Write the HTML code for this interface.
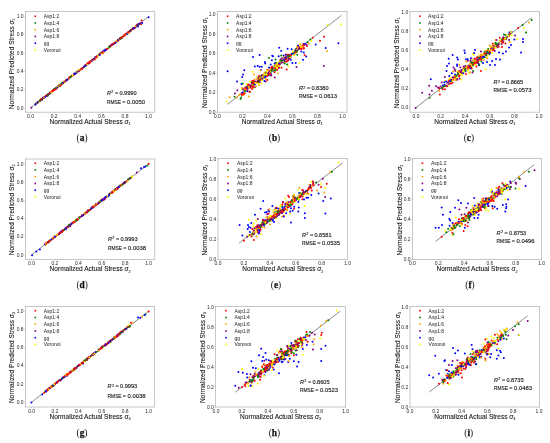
<!DOCTYPE html>
<html><head><meta charset="utf-8"><style>
html,body{margin:0;padding:0;background:#fff;}
svg{display:block;filter:blur(0.3px);}
text{font-family:"Liberation Sans",Arial,sans-serif;fill:#222;stroke-width:0.14px;}
.tk{font-size:4.95px;fill:#2a2a2a;}
.lg{font-size:4.98px;fill:#1a1a1a;}
.lb{font-size:6.55px;fill:#111;stroke:#111;stroke-width:0.08px;}
.tx{font-size:5.5px;fill:#1a1a1a;stroke:#1a1a1a;}
.cap{font-size:9.4px;fill:#111;stroke:#111;stroke-width:0.25px;}
.b{font-weight:bold;}
</style></head><body>
<svg width="550" height="443" viewBox="0 0 550 443">
<rect width="550" height="443" fill="#fff"/>
<line x1="30.5" y1="108" x2="148.6" y2="16.6" stroke="#2a2a2a" stroke-width="0.55"/>
<circle cx="86.43" cy="64.95" r="0.85" fill="#0000ff"/>
<circle cx="122.45" cy="37.14" r="0.85" fill="#ffa500"/>
<circle cx="90.2" cy="61.62" r="0.85" fill="#ff0000"/>
<circle cx="59.33" cy="85.68" r="0.85" fill="#ff0000"/>
<circle cx="110.93" cy="45.51" r="0.85" fill="#ffa500"/>
<circle cx="49.03" cy="94.02" r="0.85" fill="#008000"/>
<circle cx="94.6" cy="58.4" r="0.85" fill="#800080"/>
<circle cx="96.89" cy="57.13" r="0.85" fill="#800080"/>
<circle cx="94.19" cy="58.62" r="0.85" fill="#ff0000"/>
<circle cx="126.37" cy="34" r="0.85" fill="#800080"/>
<circle cx="119.45" cy="39.22" r="0.85" fill="#0000ff"/>
<circle cx="56.27" cy="87.97" r="0.85" fill="#0000ff"/>
<circle cx="48.47" cy="93.81" r="0.85" fill="#ffa500"/>
<circle cx="97.06" cy="56.41" r="0.85" fill="#800080"/>
<circle cx="65.1" cy="82.08" r="0.85" fill="#ffff00"/>
<circle cx="75.14" cy="73.76" r="0.85" fill="#0000ff"/>
<circle cx="76.08" cy="72.75" r="0.85" fill="#008000"/>
<circle cx="110.98" cy="46.08" r="0.85" fill="#ffa500"/>
<circle cx="126.07" cy="34.29" r="0.85" fill="#ffa500"/>
<circle cx="44.77" cy="96.45" r="0.85" fill="#ffa500"/>
<circle cx="120.69" cy="38.53" r="0.85" fill="#ffff00"/>
<circle cx="76.2" cy="71.97" r="0.85" fill="#ffff00"/>
<circle cx="136.32" cy="25.9" r="0.85" fill="#0000ff"/>
<circle cx="89.1" cy="62.72" r="0.85" fill="#ff0000"/>
<circle cx="111.13" cy="45.18" r="0.85" fill="#0000ff"/>
<circle cx="139.65" cy="23.81" r="0.85" fill="#008000"/>
<circle cx="47.17" cy="94.87" r="0.85" fill="#008000"/>
<circle cx="77.47" cy="71.51" r="0.85" fill="#ff0000"/>
<circle cx="98.78" cy="54.92" r="0.85" fill="#008000"/>
<circle cx="102.47" cy="52.89" r="0.85" fill="#008000"/>
<circle cx="115.02" cy="42.5" r="0.85" fill="#0000ff"/>
<circle cx="123.98" cy="35.25" r="0.85" fill="#ffa500"/>
<circle cx="140.24" cy="23.07" r="0.85" fill="#ff0000"/>
<circle cx="124.66" cy="35.8" r="0.85" fill="#ff0000"/>
<circle cx="74.56" cy="74.06" r="0.85" fill="#ff0000"/>
<circle cx="85.7" cy="65.7" r="0.85" fill="#0000ff"/>
<circle cx="139.14" cy="23.57" r="0.85" fill="#008000"/>
<circle cx="91.6" cy="60.74" r="0.85" fill="#ffa500"/>
<circle cx="71.25" cy="76.51" r="0.85" fill="#0000ff"/>
<circle cx="64.17" cy="82.22" r="0.85" fill="#ff0000"/>
<circle cx="95.49" cy="57.82" r="0.85" fill="#008000"/>
<circle cx="126.29" cy="33.61" r="0.85" fill="#ffff00"/>
<circle cx="47.35" cy="95.65" r="0.85" fill="#0000ff"/>
<circle cx="63.25" cy="83.01" r="0.85" fill="#ffa500"/>
<circle cx="89.49" cy="62.75" r="0.85" fill="#800080"/>
<circle cx="105.54" cy="49.96" r="0.85" fill="#ffff00"/>
<circle cx="92.27" cy="59.93" r="0.85" fill="#ffa500"/>
<circle cx="100.78" cy="53.48" r="0.85" fill="#800080"/>
<circle cx="43.09" cy="97.24" r="0.85" fill="#800080"/>
<circle cx="77.23" cy="71.95" r="0.85" fill="#008000"/>
<circle cx="80.75" cy="69.25" r="0.85" fill="#800080"/>
<circle cx="83.74" cy="67.35" r="0.85" fill="#ff0000"/>
<circle cx="87.65" cy="63.36" r="0.85" fill="#800080"/>
<circle cx="84.76" cy="65.83" r="0.85" fill="#0000ff"/>
<circle cx="66.15" cy="80.3" r="0.85" fill="#ff0000"/>
<circle cx="109.41" cy="46.41" r="0.85" fill="#800080"/>
<circle cx="44.15" cy="97.5" r="0.85" fill="#800080"/>
<circle cx="40.63" cy="98.94" r="0.85" fill="#ffa500"/>
<circle cx="112.35" cy="45.18" r="0.85" fill="#ff0000"/>
<circle cx="54.06" cy="88.96" r="0.85" fill="#008000"/>
<circle cx="128.09" cy="32.12" r="0.85" fill="#ff0000"/>
<circle cx="40.91" cy="99.95" r="0.85" fill="#ff0000"/>
<circle cx="90.91" cy="60.89" r="0.85" fill="#ff0000"/>
<circle cx="136.59" cy="25.26" r="0.85" fill="#ff0000"/>
<circle cx="123.74" cy="35.22" r="0.85" fill="#ffa500"/>
<circle cx="80.49" cy="69.68" r="0.85" fill="#008000"/>
<circle cx="119.62" cy="38.74" r="0.85" fill="#ffa500"/>
<circle cx="86.21" cy="64.52" r="0.85" fill="#ffa500"/>
<circle cx="129.04" cy="32.33" r="0.85" fill="#ff0000"/>
<circle cx="94.39" cy="59.35" r="0.85" fill="#008000"/>
<circle cx="63.64" cy="82.17" r="0.85" fill="#0000ff"/>
<circle cx="133.13" cy="28.86" r="0.85" fill="#ff0000"/>
<circle cx="57.68" cy="86.42" r="0.85" fill="#ffa500"/>
<circle cx="60.11" cy="86.2" r="0.85" fill="#ff0000"/>
<circle cx="124.79" cy="35.31" r="0.85" fill="#ffa500"/>
<circle cx="109.53" cy="46.64" r="0.85" fill="#ff0000"/>
<circle cx="118.02" cy="39.81" r="0.85" fill="#008000"/>
<circle cx="70.59" cy="76.88" r="0.85" fill="#ffff00"/>
<circle cx="54.94" cy="89.23" r="0.85" fill="#ffff00"/>
<circle cx="110.18" cy="46.12" r="0.85" fill="#ff0000"/>
<circle cx="130.02" cy="31.47" r="0.85" fill="#008000"/>
<circle cx="128" cy="33.2" r="0.85" fill="#ff0000"/>
<circle cx="77.19" cy="71.87" r="0.85" fill="#ff0000"/>
<circle cx="74.16" cy="74" r="0.85" fill="#ff0000"/>
<circle cx="90.97" cy="61.14" r="0.85" fill="#0000ff"/>
<circle cx="110.79" cy="45.26" r="0.85" fill="#ffa500"/>
<circle cx="48.18" cy="95.02" r="0.85" fill="#0000ff"/>
<circle cx="100.25" cy="53.12" r="0.85" fill="#008000"/>
<circle cx="52.3" cy="90.69" r="0.85" fill="#ffa500"/>
<circle cx="50.7" cy="92.95" r="0.85" fill="#ff0000"/>
<circle cx="49.48" cy="93.63" r="0.85" fill="#ff0000"/>
<circle cx="127.56" cy="32.61" r="0.85" fill="#ffff00"/>
<circle cx="85.64" cy="65.21" r="0.85" fill="#0000ff"/>
<circle cx="112.37" cy="44.81" r="0.85" fill="#ffa500"/>
<circle cx="92.69" cy="60.43" r="0.85" fill="#800080"/>
<circle cx="113.19" cy="43.6" r="0.85" fill="#ffa500"/>
<circle cx="87.94" cy="63.33" r="0.85" fill="#ff0000"/>
<circle cx="87.27" cy="63.96" r="0.85" fill="#0000ff"/>
<circle cx="36.5" cy="102.91" r="0.85" fill="#0000ff"/>
<circle cx="92.51" cy="60.13" r="0.85" fill="#ffff00"/>
<circle cx="119.53" cy="39.08" r="0.85" fill="#008000"/>
<circle cx="104.6" cy="51.12" r="0.85" fill="#ffff00"/>
<circle cx="76.16" cy="73.31" r="0.85" fill="#ff0000"/>
<circle cx="117.64" cy="40.27" r="0.85" fill="#0000ff"/>
<circle cx="49.38" cy="92.89" r="0.85" fill="#ffa500"/>
<circle cx="105.56" cy="50.05" r="0.85" fill="#008000"/>
<circle cx="78.86" cy="71.4" r="0.85" fill="#800080"/>
<circle cx="74.21" cy="74.01" r="0.85" fill="#ff0000"/>
<circle cx="70.93" cy="77.2" r="0.85" fill="#800080"/>
<circle cx="35.64" cy="103.56" r="0.85" fill="#ffa500"/>
<circle cx="56.79" cy="88.08" r="0.85" fill="#0000ff"/>
<circle cx="94.28" cy="58.92" r="0.85" fill="#800080"/>
<circle cx="94.82" cy="58.73" r="0.85" fill="#ffa500"/>
<circle cx="103.4" cy="51.4" r="0.85" fill="#ff0000"/>
<circle cx="126.79" cy="33.58" r="0.85" fill="#ffff00"/>
<circle cx="74.7" cy="73.45" r="0.85" fill="#ffa500"/>
<circle cx="41.03" cy="99.54" r="0.85" fill="#ff0000"/>
<circle cx="104.54" cy="50.06" r="0.85" fill="#ff0000"/>
<circle cx="37.3" cy="102.05" r="0.85" fill="#0000ff"/>
<circle cx="42.57" cy="99.23" r="0.85" fill="#ffa500"/>
<circle cx="71.09" cy="76.61" r="0.85" fill="#ffa500"/>
<circle cx="90.43" cy="61.1" r="0.85" fill="#ffa500"/>
<circle cx="105.59" cy="50.29" r="0.85" fill="#ffa500"/>
<circle cx="57.52" cy="87.04" r="0.85" fill="#800080"/>
<circle cx="62.39" cy="83.54" r="0.85" fill="#ffa500"/>
<circle cx="105.45" cy="50.02" r="0.85" fill="#800080"/>
<circle cx="136.76" cy="25.6" r="0.85" fill="#0000ff"/>
<circle cx="106.64" cy="48.95" r="0.85" fill="#800080"/>
<circle cx="85.13" cy="65.21" r="0.85" fill="#ff0000"/>
<circle cx="59.55" cy="86" r="0.85" fill="#0000ff"/>
<circle cx="109.66" cy="46.53" r="0.85" fill="#ff0000"/>
<circle cx="122.16" cy="36.85" r="0.85" fill="#008000"/>
<circle cx="81.73" cy="67.84" r="0.85" fill="#ffa500"/>
<circle cx="50.81" cy="92.25" r="0.85" fill="#800080"/>
<circle cx="74.61" cy="73.52" r="0.85" fill="#0000ff"/>
<circle cx="54.17" cy="89.42" r="0.85" fill="#800080"/>
<circle cx="113.76" cy="43.52" r="0.85" fill="#008000"/>
<circle cx="42.04" cy="99.37" r="0.85" fill="#ff0000"/>
<circle cx="78.97" cy="70.22" r="0.85" fill="#ffa500"/>
<circle cx="129.19" cy="31.59" r="0.85" fill="#ffa500"/>
<circle cx="79.02" cy="70.27" r="0.85" fill="#ffa500"/>
<circle cx="108.4" cy="48.11" r="0.85" fill="#008000"/>
<circle cx="89.58" cy="62.65" r="0.85" fill="#ff0000"/>
<circle cx="91.66" cy="61.28" r="0.85" fill="#0000ff"/>
<circle cx="76.53" cy="71.74" r="0.85" fill="#008000"/>
<circle cx="40.43" cy="100.45" r="0.85" fill="#800080"/>
<circle cx="102.89" cy="51.7" r="0.85" fill="#008000"/>
<circle cx="138.27" cy="24.52" r="0.85" fill="#ff0000"/>
<circle cx="78.82" cy="70.6" r="0.85" fill="#008000"/>
<circle cx="133.06" cy="28.18" r="0.85" fill="#ff0000"/>
<circle cx="58.24" cy="85.9" r="0.85" fill="#ff0000"/>
<circle cx="121.47" cy="37.95" r="0.85" fill="#ffff00"/>
<circle cx="71.41" cy="76.04" r="0.85" fill="#ffa500"/>
<circle cx="52.98" cy="91.15" r="0.85" fill="#ff0000"/>
<circle cx="90.43" cy="61.55" r="0.85" fill="#ffa500"/>
<circle cx="123.06" cy="36.33" r="0.85" fill="#008000"/>
<circle cx="112.78" cy="43.66" r="0.85" fill="#800080"/>
<circle cx="74.06" cy="74.27" r="0.85" fill="#ffa500"/>
<circle cx="122.39" cy="37.52" r="0.85" fill="#ff0000"/>
<circle cx="130.84" cy="30.09" r="0.85" fill="#ffff00"/>
<circle cx="96.73" cy="56.44" r="0.85" fill="#ff0000"/>
<circle cx="80.27" cy="69.57" r="0.85" fill="#ff0000"/>
<circle cx="47.77" cy="94.55" r="0.85" fill="#800080"/>
<circle cx="107.85" cy="48.51" r="0.85" fill="#008000"/>
<circle cx="97.16" cy="56.3" r="0.85" fill="#800080"/>
<circle cx="85.75" cy="65.22" r="0.85" fill="#ff0000"/>
<circle cx="54.34" cy="89.89" r="0.85" fill="#ff0000"/>
<circle cx="135.1" cy="27.8" r="0.85" fill="#ff0000"/>
<circle cx="62.89" cy="83.22" r="0.85" fill="#0000ff"/>
<circle cx="100.9" cy="53.09" r="0.85" fill="#0000ff"/>
<circle cx="97.39" cy="55.53" r="0.85" fill="#800080"/>
<circle cx="55.95" cy="88.84" r="0.85" fill="#800080"/>
<circle cx="95.92" cy="57.34" r="0.85" fill="#008000"/>
<circle cx="67.03" cy="80.11" r="0.85" fill="#800080"/>
<circle cx="105.27" cy="50.46" r="0.85" fill="#0000ff"/>
<circle cx="103.03" cy="51.16" r="0.85" fill="#0000ff"/>
<circle cx="75.54" cy="72.58" r="0.85" fill="#ffa500"/>
<circle cx="92.74" cy="59.67" r="0.85" fill="#008000"/>
<circle cx="130.76" cy="30.37" r="0.85" fill="#ff0000"/>
<circle cx="103.39" cy="52.87" r="0.85" fill="#ff0000"/>
<circle cx="49.88" cy="93.25" r="0.85" fill="#008000"/>
<circle cx="96.97" cy="56.54" r="0.85" fill="#ffa500"/>
<circle cx="60.92" cy="84.68" r="0.85" fill="#0000ff"/>
<circle cx="62.77" cy="83.03" r="0.85" fill="#800080"/>
<circle cx="126.96" cy="33.61" r="0.85" fill="#ffa500"/>
<circle cx="102.86" cy="52.14" r="0.85" fill="#800080"/>
<circle cx="37.48" cy="103.2" r="0.85" fill="#008000"/>
<circle cx="93.53" cy="59.69" r="0.85" fill="#ff0000"/>
<circle cx="36.35" cy="103.31" r="0.85" fill="#ffa500"/>
<circle cx="116.5" cy="41.29" r="0.85" fill="#ff0000"/>
<circle cx="69.27" cy="77.66" r="0.85" fill="#ff0000"/>
<circle cx="89.54" cy="62.16" r="0.85" fill="#ff0000"/>
<circle cx="48.41" cy="94.07" r="0.85" fill="#0000ff"/>
<circle cx="65.99" cy="80.12" r="0.85" fill="#ff0000"/>
<circle cx="76.32" cy="72.75" r="0.85" fill="#ffa500"/>
<circle cx="130.28" cy="30.43" r="0.85" fill="#800080"/>
<circle cx="54.94" cy="88.87" r="0.85" fill="#ffa500"/>
<circle cx="133.84" cy="28.12" r="0.85" fill="#ff0000"/>
<circle cx="81.86" cy="68.79" r="0.85" fill="#800080"/>
<circle cx="94.34" cy="58.62" r="0.85" fill="#0000ff"/>
<circle cx="57.7" cy="86.66" r="0.85" fill="#ffff00"/>
<circle cx="61.9" cy="84" r="0.85" fill="#800080"/>
<circle cx="66.56" cy="79.94" r="0.85" fill="#ffff00"/>
<circle cx="37.28" cy="103.18" r="0.85" fill="#800080"/>
<circle cx="90.12" cy="61.18" r="0.85" fill="#ff0000"/>
<circle cx="130.82" cy="30.45" r="0.85" fill="#0000ff"/>
<circle cx="70.82" cy="76.85" r="0.85" fill="#ffff00"/>
<circle cx="51.55" cy="91.83" r="0.85" fill="#0000ff"/>
<circle cx="106.46" cy="49.17" r="0.85" fill="#800080"/>
<circle cx="101.27" cy="52.78" r="0.85" fill="#008000"/>
<circle cx="79.9" cy="70.19" r="0.85" fill="#800080"/>
<circle cx="124.51" cy="35.36" r="0.85" fill="#0000ff"/>
<circle cx="112.36" cy="44.1" r="0.85" fill="#ffff00"/>
<circle cx="86.98" cy="64.23" r="0.85" fill="#800080"/>
<circle cx="107.07" cy="48.82" r="0.85" fill="#ff0000"/>
<circle cx="99.01" cy="54.79" r="0.85" fill="#0000ff"/>
<circle cx="113.73" cy="43.48" r="0.85" fill="#0000ff"/>
<circle cx="62.84" cy="83.45" r="0.85" fill="#800080"/>
<circle cx="77.23" cy="72" r="0.85" fill="#0000ff"/>
<circle cx="124.9" cy="34.78" r="0.85" fill="#ffff00"/>
<circle cx="141" cy="24.2" r="1.0" fill="#ff0000"/>
<circle cx="35.38" cy="104.4" r="0.85" fill="#ff0000"/>
<circle cx="85.58" cy="65.56" r="0.85" fill="#800080"/>
<circle cx="113.42" cy="44.05" r="0.85" fill="#ffff00"/>
<circle cx="49.11" cy="93.62" r="0.85" fill="#008000"/>
<circle cx="109.21" cy="47" r="0.85" fill="#0000ff"/>
<circle cx="119.98" cy="38.68" r="0.85" fill="#ff0000"/>
<circle cx="90.7" cy="61.47" r="0.85" fill="#ffa500"/>
<circle cx="89.54" cy="61.86" r="0.85" fill="#ff0000"/>
<circle cx="108.53" cy="47.92" r="0.85" fill="#ff0000"/>
<circle cx="88.43" cy="63.45" r="0.85" fill="#ffa500"/>
<circle cx="36.51" cy="103.44" r="0.85" fill="#800080"/>
<circle cx="127.33" cy="33.08" r="0.85" fill="#008000"/>
<circle cx="63.11" cy="82.4" r="0.85" fill="#008000"/>
<circle cx="109.45" cy="46.87" r="0.85" fill="#ffa500"/>
<circle cx="40.25" cy="100.14" r="0.85" fill="#ff0000"/>
<circle cx="47.72" cy="95.82" r="0.85" fill="#008000"/>
<circle cx="108.9" cy="47.71" r="0.85" fill="#0000ff"/>
<circle cx="132.04" cy="29.32" r="0.85" fill="#ffa500"/>
<circle cx="82.62" cy="67.84" r="0.85" fill="#0000ff"/>
<circle cx="60.08" cy="84.84" r="0.85" fill="#0000ff"/>
<circle cx="41.15" cy="99.69" r="0.85" fill="#ffff00"/>
<circle cx="38.41" cy="102.11" r="0.85" fill="#ffa500"/>
<circle cx="50.61" cy="92.43" r="0.85" fill="#ffa500"/>
<circle cx="59.91" cy="85.05" r="0.85" fill="#008000"/>
<circle cx="45.98" cy="95.72" r="0.85" fill="#ff0000"/>
<circle cx="113.43" cy="43.45" r="0.85" fill="#ffff00"/>
<circle cx="115.3" cy="42.71" r="0.85" fill="#800080"/>
<circle cx="44.49" cy="97.15" r="0.85" fill="#ff0000"/>
<circle cx="130.95" cy="30.69" r="0.85" fill="#008000"/>
<circle cx="138" cy="26.6" r="1.0" fill="#0000ff"/>
<circle cx="43.13" cy="97.82" r="0.85" fill="#ff0000"/>
<circle cx="98.31" cy="55.8" r="0.85" fill="#ffa500"/>
<circle cx="93.36" cy="59.29" r="0.85" fill="#ffa500"/>
<circle cx="57" cy="88.32" r="0.85" fill="#ff0000"/>
<circle cx="109.43" cy="46.39" r="0.85" fill="#008000"/>
<circle cx="106.51" cy="49.23" r="0.85" fill="#ff0000"/>
<circle cx="88.45" cy="62.79" r="0.85" fill="#0000ff"/>
<circle cx="48.17" cy="94.31" r="0.85" fill="#008000"/>
<circle cx="31.4" cy="107.8" r="1.0" fill="#800080"/>
<circle cx="72.34" cy="75.64" r="0.85" fill="#008000"/>
<circle cx="42.39" cy="98.29" r="0.85" fill="#ff0000"/>
<circle cx="55.44" cy="88.99" r="0.85" fill="#ff0000"/>
<circle cx="104.35" cy="50.36" r="0.85" fill="#800080"/>
<circle cx="77.75" cy="71.09" r="0.85" fill="#0000ff"/>
<circle cx="71.89" cy="75.58" r="0.85" fill="#ff0000"/>
<circle cx="91.8" cy="60.35" r="0.85" fill="#ffff00"/>
<circle cx="75.22" cy="73.45" r="0.85" fill="#800080"/>
<circle cx="56.8" cy="87.97" r="0.85" fill="#ffa500"/>
<circle cx="105.53" cy="49.87" r="0.85" fill="#ffa500"/>
<circle cx="136.5" cy="25.5" r="1.0" fill="#0000ff"/>
<circle cx="134.12" cy="28.23" r="0.85" fill="#0000ff"/>
<circle cx="50.32" cy="92.14" r="0.85" fill="#008000"/>
<circle cx="112.02" cy="44.43" r="0.85" fill="#800080"/>
<circle cx="137.47" cy="25.71" r="0.85" fill="#ff0000"/>
<circle cx="41.98" cy="99.13" r="0.85" fill="#ffff00"/>
<circle cx="85.76" cy="65.25" r="0.85" fill="#0000ff"/>
<circle cx="118.01" cy="40.28" r="0.85" fill="#ff0000"/>
<circle cx="69.91" cy="77.29" r="0.85" fill="#ff0000"/>
<circle cx="87.66" cy="63.6" r="0.85" fill="#ffa500"/>
<circle cx="61.79" cy="83.22" r="0.85" fill="#008000"/>
<circle cx="114.97" cy="42.33" r="0.85" fill="#ffa500"/>
<circle cx="53.5" cy="90.14" r="0.85" fill="#800080"/>
<circle cx="87.02" cy="64.48" r="0.85" fill="#008000"/>
<circle cx="127.5" cy="33.33" r="0.85" fill="#800080"/>
<circle cx="38.06" cy="102.17" r="0.85" fill="#0000ff"/>
<circle cx="101.45" cy="53.25" r="0.85" fill="#ffa500"/>
<circle cx="132.84" cy="28.93" r="0.85" fill="#ff0000"/>
<circle cx="74.04" cy="74.36" r="0.85" fill="#ffa500"/>
<circle cx="42.2" cy="99.77" r="0.85" fill="#008000"/>
<circle cx="71.67" cy="75.61" r="0.85" fill="#008000"/>
<circle cx="64.67" cy="81.64" r="0.85" fill="#ff0000"/>
<circle cx="57.56" cy="87.79" r="0.85" fill="#ffa500"/>
<circle cx="54.28" cy="89.86" r="0.85" fill="#ff0000"/>
<circle cx="136.63" cy="26.02" r="0.85" fill="#008000"/>
<circle cx="101.36" cy="53.36" r="0.85" fill="#008000"/>
<circle cx="44.3" cy="97.72" r="0.85" fill="#ffa500"/>
<circle cx="70.23" cy="76.72" r="0.85" fill="#800080"/>
<circle cx="141.6" cy="20.6" r="1.0" fill="#ff0000"/>
<circle cx="73.63" cy="75.19" r="0.85" fill="#800080"/>
<circle cx="124.28" cy="34.74" r="0.85" fill="#ff0000"/>
<circle cx="116.95" cy="41.31" r="0.85" fill="#ffa500"/>
<circle cx="112.81" cy="44.22" r="0.85" fill="#008000"/>
<circle cx="129.52" cy="30.89" r="0.85" fill="#ff0000"/>
<circle cx="55.89" cy="88.66" r="0.85" fill="#ff0000"/>
<circle cx="115.93" cy="42.38" r="0.85" fill="#0000ff"/>
<circle cx="91.7" cy="60.46" r="0.85" fill="#800080"/>
<circle cx="99.65" cy="54.2" r="0.85" fill="#0000ff"/>
<circle cx="132.62" cy="28.13" r="0.85" fill="#008000"/>
<circle cx="74.23" cy="74.08" r="0.85" fill="#0000ff"/>
<circle cx="40.04" cy="100.61" r="0.85" fill="#ff0000"/>
<circle cx="76.63" cy="72.68" r="0.85" fill="#800080"/>
<circle cx="49.51" cy="93.68" r="0.85" fill="#0000ff"/>
<circle cx="110.92" cy="45.59" r="0.85" fill="#ff0000"/>
<circle cx="66.33" cy="80.33" r="0.85" fill="#008000"/>
<circle cx="109.86" cy="46.67" r="0.85" fill="#008000"/>
<circle cx="99.6" cy="54.86" r="0.85" fill="#008000"/>
<circle cx="71.8" cy="75.56" r="0.85" fill="#ff0000"/>
<circle cx="38.34" cy="102.2" r="0.85" fill="#ff0000"/>
<circle cx="148.6" cy="17.2" r="1.0" fill="#0000ff"/>
<circle cx="98.43" cy="55.47" r="0.85" fill="#ffa500"/>
<circle cx="66.97" cy="80.34" r="0.85" fill="#0000ff"/>
<circle cx="128.95" cy="31.73" r="0.85" fill="#800080"/>
<circle cx="107.34" cy="48.74" r="0.85" fill="#ff0000"/>
<circle cx="112.24" cy="44.24" r="0.85" fill="#0000ff"/>
<circle cx="52.2" cy="91.37" r="0.85" fill="#ff0000"/>
<circle cx="52.89" cy="90.55" r="0.85" fill="#800080"/>
<circle cx="88.28" cy="63.15" r="0.85" fill="#ff0000"/>
<circle cx="58.89" cy="85.36" r="0.85" fill="#ff0000"/>
<circle cx="99.87" cy="54.31" r="0.85" fill="#ff0000"/>
<circle cx="113.13" cy="43.76" r="0.85" fill="#ff0000"/>
<circle cx="118.19" cy="40.11" r="0.85" fill="#008000"/>
<circle cx="105.16" cy="50.25" r="0.85" fill="#800080"/>
<circle cx="56.07" cy="87.65" r="0.85" fill="#008000"/>
<circle cx="142.2" cy="23" r="1.0" fill="#0000ff"/>
<circle cx="92.58" cy="59.38" r="0.85" fill="#800080"/>
<circle cx="117.83" cy="39.84" r="0.85" fill="#0000ff"/>
<circle cx="79.43" cy="70.32" r="0.85" fill="#ffa500"/>
<circle cx="89.91" cy="62.44" r="0.85" fill="#ff0000"/>
<circle cx="137.54" cy="25.24" r="0.85" fill="#800080"/>
<circle cx="69.36" cy="78.52" r="0.85" fill="#0000ff"/>
<circle cx="74.39" cy="73.76" r="0.85" fill="#800080"/>
<circle cx="104.36" cy="51.14" r="0.85" fill="#800080"/>
<circle cx="134.24" cy="27.66" r="0.85" fill="#008000"/>
<circle cx="60.72" cy="84.94" r="0.85" fill="#800080"/>
<circle cx="106.69" cy="49.24" r="0.85" fill="#0000ff"/>
<circle cx="64.76" cy="81.23" r="0.85" fill="#800080"/>
<circle cx="45.12" cy="97.02" r="0.85" fill="#0000ff"/>
<circle cx="60.11" cy="85.23" r="0.85" fill="#ffa500"/>
<circle cx="65.91" cy="80.12" r="0.85" fill="#008000"/>
<circle cx="52.01" cy="92.01" r="0.85" fill="#ffff00"/>
<circle cx="99.98" cy="53.99" r="0.85" fill="#ff0000"/>
<circle cx="119.63" cy="38.67" r="0.85" fill="#008000"/>
<circle cx="119.84" cy="38.43" r="0.85" fill="#0000ff"/>
<circle cx="108.86" cy="47.77" r="0.85" fill="#ffff00"/>
<circle cx="129.99" cy="30.79" r="0.85" fill="#008000"/>
<circle cx="47.17" cy="94.88" r="0.85" fill="#800080"/>
<circle cx="39.46" cy="100.91" r="0.85" fill="#ffa500"/>
<circle cx="127.85" cy="33.37" r="0.85" fill="#008000"/>
<circle cx="117.44" cy="41.14" r="0.85" fill="#ffa500"/>
<circle cx="75.4" cy="73.46" r="0.85" fill="#0000ff"/>
<circle cx="91.59" cy="60.89" r="0.85" fill="#ffa500"/>
<circle cx="54.89" cy="88.8" r="0.85" fill="#ffa500"/>
<circle cx="76.6" cy="72.86" r="0.85" fill="#008000"/>
<circle cx="88.82" cy="62.61" r="0.85" fill="#ff0000"/>
<circle cx="89" cy="63.35" r="0.85" fill="#ff0000"/>
<circle cx="73.93" cy="73.8" r="0.85" fill="#ff0000"/>
<circle cx="67.17" cy="79.85" r="0.85" fill="#ffff00"/>
<circle cx="99.3" cy="54.05" r="0.85" fill="#ff0000"/>
<circle cx="117.77" cy="41.35" r="0.85" fill="#ff0000"/>
<circle cx="112.43" cy="44.09" r="0.85" fill="#ffa500"/>
<circle cx="87.95" cy="63.95" r="0.85" fill="#800080"/>
<circle cx="112.06" cy="44.43" r="0.85" fill="#ff0000"/>
<circle cx="38.24" cy="101.72" r="0.85" fill="#0000ff"/>
<circle cx="121.42" cy="37.22" r="0.85" fill="#ffa500"/>
<circle cx="120.51" cy="38.03" r="0.85" fill="#008000"/>
<circle cx="116.06" cy="41.9" r="0.85" fill="#ffa500"/>
<circle cx="97.49" cy="56.14" r="0.85" fill="#ffff00"/>
<circle cx="44.06" cy="98.12" r="0.85" fill="#800080"/>
<circle cx="117.39" cy="40.56" r="0.85" fill="#ffa500"/>
<circle cx="63.01" cy="83.08" r="0.85" fill="#ffa500"/>
<circle cx="103.64" cy="51.63" r="0.85" fill="#0000ff"/>
<circle cx="130.24" cy="31.1" r="0.85" fill="#800080"/>
<circle cx="60.68" cy="84.91" r="0.85" fill="#ffa500"/>
<circle cx="104.95" cy="49.81" r="0.85" fill="#ffa500"/>
<circle cx="135.93" cy="26.72" r="0.85" fill="#800080"/>
<circle cx="41.33" cy="99.23" r="0.85" fill="#ffa500"/>
<circle cx="116.59" cy="41.2" r="0.85" fill="#ffa500"/>
<circle cx="77.05" cy="72.05" r="0.85" fill="#ff0000"/>
<circle cx="117.46" cy="40.79" r="0.85" fill="#ff0000"/>
<circle cx="43.4" cy="97.91" r="0.85" fill="#ffa500"/>
<circle cx="87.27" cy="63.65" r="0.85" fill="#800080"/>
<circle cx="41.96" cy="99.35" r="0.85" fill="#800080"/>
<circle cx="117.62" cy="40.52" r="0.85" fill="#ffff00"/>
<circle cx="113.71" cy="44.18" r="0.85" fill="#0000ff"/>
<circle cx="101.82" cy="52.44" r="0.85" fill="#0000ff"/>
<circle cx="114.29" cy="43.24" r="0.85" fill="#800080"/>
<circle cx="40.8" cy="100.16" r="0.85" fill="#800080"/>
<circle cx="133.78" cy="28.71" r="0.85" fill="#0000ff"/>
<circle cx="39.11" cy="101.11" r="0.85" fill="#ffff00"/>
<circle cx="75.57" cy="73" r="0.85" fill="#0000ff"/>
<circle cx="132.18" cy="29.2" r="0.85" fill="#0000ff"/>
<circle cx="76.35" cy="72.53" r="0.85" fill="#ffff00"/>
<circle cx="62.73" cy="82.72" r="0.85" fill="#0000ff"/>
<circle cx="101.26" cy="53.5" r="0.85" fill="#ffa500"/>
<circle cx="63.19" cy="82.6" r="0.85" fill="#008000"/>
<circle cx="139" cy="24" r="1.0" fill="#0000ff"/>
<circle cx="132.07" cy="29.52" r="0.85" fill="#ff0000"/>
<circle cx="63.85" cy="81.56" r="0.85" fill="#ff0000"/>
<circle cx="117.95" cy="39.85" r="0.85" fill="#800080"/>
<circle cx="42.06" cy="99.33" r="0.85" fill="#008000"/>
<circle cx="102.5" cy="52.85" r="0.85" fill="#ffa500"/>
<circle cx="47.46" cy="94.71" r="0.85" fill="#800080"/>
<circle cx="69.3" cy="77.41" r="0.85" fill="#ff0000"/>
<circle cx="120.14" cy="38.99" r="0.85" fill="#008000"/>
<circle cx="85.88" cy="64.82" r="0.85" fill="#0000ff"/>
<circle cx="45.03" cy="96.95" r="0.85" fill="#0000ff"/>
<circle cx="40.33" cy="100.77" r="0.85" fill="#008000"/>
<circle cx="111.65" cy="44.98" r="0.85" fill="#800080"/>
<circle cx="57.08" cy="87.14" r="0.85" fill="#0000ff"/>
<circle cx="57.6" cy="87.23" r="0.85" fill="#ff0000"/>
<circle cx="47.39" cy="95.31" r="0.85" fill="#800080"/>
<circle cx="84.58" cy="66.55" r="0.85" fill="#008000"/>
<circle cx="108.63" cy="47.41" r="0.85" fill="#ffff00"/>
<circle cx="87.03" cy="63.92" r="0.85" fill="#ffa500"/>
<circle cx="58.61" cy="86.18" r="0.85" fill="#008000"/>
<circle cx="56.85" cy="87.34" r="0.85" fill="#ffff00"/>
<circle cx="66.17" cy="80.79" r="0.85" fill="#800080"/>
<circle cx="137.24" cy="24.47" r="0.85" fill="#ff0000"/>
<circle cx="126.93" cy="33.03" r="0.85" fill="#0000ff"/>
<circle cx="60.86" cy="84.2" r="0.85" fill="#008000"/>
<circle cx="82.65" cy="67.84" r="0.85" fill="#800080"/>
<circle cx="115.15" cy="42.96" r="0.85" fill="#ff0000"/>
<circle cx="50.68" cy="92.15" r="0.85" fill="#ff0000"/>
<circle cx="42.71" cy="97.91" r="0.85" fill="#800080"/>
<circle cx="97.82" cy="55.82" r="0.85" fill="#800080"/>
<circle cx="40.03" cy="100.59" r="0.85" fill="#ff0000"/>
<circle cx="126.25" cy="34" r="0.85" fill="#0000ff"/>
<circle cx="56.05" cy="88.55" r="0.85" fill="#ffa500"/>
<circle cx="133.69" cy="27.73" r="0.85" fill="#0000ff"/>
<circle cx="55.64" cy="88.38" r="0.85" fill="#0000ff"/>
<circle cx="133.7" cy="28.18" r="0.85" fill="#ff0000"/>
<circle cx="56.99" cy="87.23" r="0.85" fill="#ffa500"/>
<circle cx="85.74" cy="65.2" r="0.85" fill="#800080"/>
<circle cx="96.9" cy="56.64" r="0.85" fill="#008000"/>
<circle cx="94.33" cy="58.83" r="0.85" fill="#ff0000"/>
<circle cx="134.78" cy="27" r="0.85" fill="#ffa500"/>
<circle cx="96.41" cy="56.64" r="0.85" fill="#800080"/>
<circle cx="80.88" cy="68.73" r="0.85" fill="#800080"/>
<circle cx="39.33" cy="100.68" r="0.85" fill="#ffa500"/>
<circle cx="118.17" cy="40.48" r="0.85" fill="#0000ff"/>
<circle cx="104.65" cy="49.63" r="0.85" fill="#0000ff"/>
<circle cx="82.24" cy="68.81" r="0.85" fill="#ff0000"/>
<circle cx="50.56" cy="92.15" r="0.85" fill="#ff0000"/>
<circle cx="77.39" cy="71.09" r="0.85" fill="#ffa500"/>
<circle cx="135.97" cy="26" r="0.85" fill="#800080"/>
<circle cx="104.99" cy="50.49" r="0.85" fill="#0000ff"/>
<circle cx="137.65" cy="25.47" r="0.85" fill="#0000ff"/>
<circle cx="105.6" cy="49.49" r="0.85" fill="#ffff00"/>
<circle cx="80.15" cy="69.78" r="0.85" fill="#ffa500"/>
<circle cx="140.31" cy="22.87" r="0.85" fill="#800080"/>
<circle cx="68.23" cy="79.14" r="0.85" fill="#ffff00"/>
<circle cx="58.21" cy="86.85" r="0.85" fill="#ffa500"/>
<circle cx="66.59" cy="79.84" r="0.85" fill="#ff0000"/>
<circle cx="134.61" cy="27.79" r="0.85" fill="#ff0000"/>
<circle cx="35.46" cy="104.39" r="0.85" fill="#ffa500"/>
<circle cx="118.99" cy="39.41" r="0.85" fill="#800080"/>
<circle cx="54.17" cy="89.23" r="0.85" fill="#008000"/>
<circle cx="87.05" cy="64.25" r="0.85" fill="#ffff00"/>
<circle cx="138.22" cy="24.83" r="0.85" fill="#008000"/>
<circle cx="61.09" cy="84.86" r="0.85" fill="#ff0000"/>
<circle cx="36.33" cy="103.33" r="0.85" fill="#ffff00"/>
<circle cx="50.76" cy="92.01" r="0.85" fill="#ffa500"/>
<circle cx="77.39" cy="71.89" r="0.85" fill="#0000ff"/>
<circle cx="118.78" cy="40.3" r="0.85" fill="#ffa500"/>
<circle cx="106.99" cy="49.22" r="0.85" fill="#ff0000"/>
<circle cx="55.23" cy="88.23" r="0.85" fill="#008000"/>
<circle cx="129.17" cy="32.1" r="0.85" fill="#ff0000"/>
<circle cx="125.47" cy="34.74" r="0.85" fill="#ff0000"/>
<circle cx="76.83" cy="72.7" r="0.85" fill="#ffa500"/>
<circle cx="44.35" cy="97.52" r="0.85" fill="#0000ff"/>
<circle cx="95.57" cy="57.9" r="0.85" fill="#800080"/>
<circle cx="109.5" cy="47.07" r="0.85" fill="#008000"/>
<circle cx="115.67" cy="42.59" r="0.85" fill="#0000ff"/>
<circle cx="113.3" cy="43.77" r="0.85" fill="#800080"/>
<circle cx="39.38" cy="100.73" r="0.85" fill="#008000"/>
<circle cx="66.42" cy="80.26" r="0.85" fill="#800080"/>
<circle cx="97.62" cy="56.21" r="0.85" fill="#ffff00"/>
<circle cx="121.6" cy="38.29" r="0.85" fill="#800080"/>
<circle cx="126.43" cy="33.8" r="0.85" fill="#0000ff"/>
<circle cx="138.01" cy="24.27" r="0.85" fill="#800080"/>
<circle cx="46.61" cy="95.38" r="0.85" fill="#ff0000"/>
<circle cx="48.55" cy="93.97" r="0.85" fill="#ff0000"/>
<circle cx="105.49" cy="49.9" r="0.85" fill="#800080"/>
<circle cx="134.45" cy="27.87" r="0.85" fill="#0000ff"/>
<circle cx="122.9" cy="36.51" r="0.85" fill="#ff0000"/>
<circle cx="40.68" cy="100.02" r="0.85" fill="#ff0000"/>
<circle cx="67.47" cy="79.35" r="0.85" fill="#0000ff"/>
<circle cx="64.64" cy="81.48" r="0.85" fill="#800080"/>
<circle cx="125.44" cy="33.72" r="0.85" fill="#ff0000"/>
<circle cx="83.99" cy="66.43" r="0.85" fill="#0000ff"/>
<circle cx="118.61" cy="40.21" r="0.85" fill="#ffa500"/>
<circle cx="121.43" cy="37.44" r="0.85" fill="#008000"/>
<circle cx="91.42" cy="60.77" r="0.85" fill="#0000ff"/>
<circle cx="128.22" cy="32.43" r="0.85" fill="#008000"/>
<circle cx="120.46" cy="37.61" r="0.85" fill="#ff0000"/>
<circle cx="109.05" cy="46.81" r="0.85" fill="#008000"/>
<circle cx="36.17" cy="103.48" r="0.85" fill="#008000"/>
<circle cx="97.21" cy="56.69" r="0.85" fill="#ffa500"/>
<circle cx="114.42" cy="42.93" r="0.85" fill="#ff0000"/>
<circle cx="78.92" cy="71.19" r="0.85" fill="#800080"/>
<circle cx="94.19" cy="58.91" r="0.85" fill="#0000ff"/>
<circle cx="118.25" cy="40.43" r="0.85" fill="#800080"/>
<circle cx="55.57" cy="89.51" r="0.85" fill="#ff0000"/>
<circle cx="80.86" cy="69.1" r="0.85" fill="#ffa500"/>
<circle cx="113.14" cy="44.31" r="0.85" fill="#800080"/>
<circle cx="120.85" cy="37.85" r="0.85" fill="#ff0000"/>
<circle cx="40.05" cy="100.64" r="0.85" fill="#008000"/>
<circle cx="57.27" cy="87.58" r="0.85" fill="#0000ff"/>
<circle cx="99.73" cy="54.95" r="0.85" fill="#0000ff"/>
<circle cx="67.62" cy="79.72" r="0.85" fill="#0000ff"/>
<circle cx="44.23" cy="97.35" r="0.85" fill="#0000ff"/>
<circle cx="35.55" cy="104.6" r="0.85" fill="#0000ff"/>
<circle cx="71.96" cy="76.27" r="0.85" fill="#ffff00"/>
<circle cx="127.27" cy="33.95" r="0.85" fill="#0000ff"/>
<circle cx="64.11" cy="81.49" r="0.85" fill="#ffa500"/>
<circle cx="46.2" cy="95.98" r="0.85" fill="#800080"/>
<circle cx="74.31" cy="73.57" r="0.85" fill="#0000ff"/>
<circle cx="69.57" cy="77.81" r="0.85" fill="#ffa500"/>
<circle cx="133.17" cy="28.4" r="0.85" fill="#800080"/>
<circle cx="77.83" cy="70.57" r="0.85" fill="#ffa500"/>
<circle cx="68.64" cy="78.13" r="0.85" fill="#ff0000"/>
<circle cx="96.44" cy="56.9" r="0.85" fill="#ff0000"/>
<circle cx="41.04" cy="99.33" r="0.85" fill="#ff0000"/>
<circle cx="110.28" cy="46.36" r="0.85" fill="#800080"/>
<circle cx="102.35" cy="52.32" r="0.85" fill="#ff0000"/>
<circle cx="71.84" cy="76.17" r="0.85" fill="#ff0000"/>
<circle cx="128.43" cy="32.87" r="0.85" fill="#ffa500"/>
<circle cx="41.56" cy="99.54" r="0.85" fill="#800080"/>
<circle cx="91" cy="60.73" r="0.85" fill="#ff0000"/>
<circle cx="136.39" cy="26.15" r="0.85" fill="#008000"/>
<circle cx="136.68" cy="26.13" r="0.85" fill="#800080"/>
<circle cx="35.34" cy="104.07" r="0.85" fill="#0000ff"/>
<circle cx="51.35" cy="91.53" r="0.85" fill="#ffa500"/>
<circle cx="70.21" cy="77.49" r="0.85" fill="#008000"/>
<circle cx="127.34" cy="32.74" r="0.85" fill="#ffff00"/>
<circle cx="47.77" cy="94.66" r="0.85" fill="#008000"/>
<circle cx="44.13" cy="97.43" r="0.85" fill="#ffa500"/>
<circle cx="54.59" cy="89.24" r="0.85" fill="#ff0000"/>
<circle cx="71" cy="76.3" r="0.85" fill="#008000"/>
<circle cx="136.04" cy="26.38" r="0.85" fill="#0000ff"/>
<circle cx="125.37" cy="34.77" r="0.85" fill="#ffa500"/>
<circle cx="105.56" cy="50.1" r="0.85" fill="#0000ff"/>
<circle cx="76.21" cy="73.26" r="0.85" fill="#0000ff"/>
<circle cx="52.04" cy="90.99" r="0.85" fill="#ff0000"/>
<circle cx="103.76" cy="52.01" r="0.85" fill="#ffa500"/>
<circle cx="124.54" cy="34.9" r="0.85" fill="#ff0000"/>
<circle cx="87.32" cy="63.43" r="0.85" fill="#ff0000"/>
<circle cx="63.09" cy="82.84" r="0.85" fill="#800080"/>
<circle cx="52.99" cy="90.14" r="0.85" fill="#ff0000"/>
<circle cx="95.92" cy="58.52" r="0.85" fill="#ffa500"/>
<circle cx="95.3" cy="56.86" r="0.85" fill="#800080"/>
<circle cx="102.14" cy="52.37" r="0.85" fill="#ff0000"/>
<circle cx="94.86" cy="59.29" r="0.85" fill="#ff0000"/>
<circle cx="81.03" cy="69.29" r="0.85" fill="#ff0000"/>
<circle cx="135.74" cy="26.18" r="0.85" fill="#ffa500"/>
<circle cx="72.7" cy="75.29" r="0.85" fill="#ffff00"/>
<circle cx="127.79" cy="32.43" r="0.85" fill="#ff0000"/>
<rect x="25.4" y="11.4" width="129.4" height="100.8" fill="none" stroke="#b4b4b4" stroke-width="0.75"/>
<line x1="30.5" y1="112.2" x2="30.5" y2="113.4" stroke="#999" stroke-width="0.4"/>
<text x="30.5" y="117.8" class="tk" text-anchor="middle">0.0</text>
<line x1="24.2" y1="108" x2="25.4" y2="108" stroke="#999" stroke-width="0.4"/>
<text x="23.6" y="109.6" class="tk" text-anchor="end">0.0</text>
<line x1="54.12" y1="112.2" x2="54.12" y2="113.4" stroke="#999" stroke-width="0.4"/>
<text x="54.12" y="117.8" class="tk" text-anchor="middle">0.2</text>
<line x1="24.2" y1="89.72" x2="25.4" y2="89.72" stroke="#999" stroke-width="0.4"/>
<text x="23.6" y="91.32" class="tk" text-anchor="end">0.2</text>
<line x1="77.74" y1="112.2" x2="77.74" y2="113.4" stroke="#999" stroke-width="0.4"/>
<text x="77.74" y="117.8" class="tk" text-anchor="middle">0.4</text>
<line x1="24.2" y1="71.44" x2="25.4" y2="71.44" stroke="#999" stroke-width="0.4"/>
<text x="23.6" y="73.04" class="tk" text-anchor="end">0.4</text>
<line x1="101.36" y1="112.2" x2="101.36" y2="113.4" stroke="#999" stroke-width="0.4"/>
<text x="101.36" y="117.8" class="tk" text-anchor="middle">0.6</text>
<line x1="24.2" y1="53.16" x2="25.4" y2="53.16" stroke="#999" stroke-width="0.4"/>
<text x="23.6" y="54.76" class="tk" text-anchor="end">0.6</text>
<line x1="124.98" y1="112.2" x2="124.98" y2="113.4" stroke="#999" stroke-width="0.4"/>
<text x="124.98" y="117.8" class="tk" text-anchor="middle">0.8</text>
<line x1="24.2" y1="34.88" x2="25.4" y2="34.88" stroke="#999" stroke-width="0.4"/>
<text x="23.6" y="36.48" class="tk" text-anchor="end">0.8</text>
<line x1="148.6" y1="112.2" x2="148.6" y2="113.4" stroke="#999" stroke-width="0.4"/>
<text x="148.6" y="117.8" class="tk" text-anchor="middle">1.0</text>
<line x1="24.2" y1="16.6" x2="25.4" y2="16.6" stroke="#999" stroke-width="0.4"/>
<text x="23.6" y="18.2" class="tk" text-anchor="end">1.0</text>
<text x="90.1" y="124.1" class="lb" text-anchor="middle">Normalized Actual Stress <tspan font-style="italic">σ</tspan><tspan font-size="3.7" dy="1.3">1</tspan></text>
<text transform="translate(14,63.85) rotate(-90)" class="lb" text-anchor="middle">Normalized Predicted Stress <tspan font-style="italic">σ</tspan><tspan font-size="3.7" dy="1.3">1</tspan></text>
<rect x="34.5" y="15.4" width="1.6" height="1.6" fill="#ff0000"/>
<text x="43.7" y="18.1" class="lg">Asp1:2</text>
<rect x="34.5" y="22.15" width="1.6" height="1.6" fill="#008000"/>
<text x="43.7" y="24.85" class="lg">Asp1:4</text>
<rect x="34.5" y="28.9" width="1.6" height="1.6" fill="#ffa500"/>
<text x="43.7" y="31.6" class="lg">Asp1:6</text>
<rect x="34.5" y="35.65" width="1.6" height="1.6" fill="#800080"/>
<text x="43.7" y="38.35" class="lg">Asp1:8</text>
<rect x="34.5" y="42.4" width="1.6" height="1.6" fill="#0000ff"/>
<text x="43.7" y="45.1" class="lg">gg</text>
<rect x="34.5" y="49.15" width="1.6" height="1.6" fill="#ffff00"/>
<text x="43.7" y="51.85" class="lg">Voronoi</text>
<text y="94.5" class="tx"><tspan x="107" font-style="italic">R</tspan><tspan x="111.3" y="93" font-size="3.8">2</tspan><tspan x="115" y="94.5">=</tspan><tspan x="119.4" textLength="17.2" lengthAdjust="spacingAndGlyphs">0.9990</tspan></text>
<text y="103.9" class="tx"><tspan x="107" textLength="14" lengthAdjust="spacingAndGlyphs">RMSE</tspan><tspan x="122.2">=</tspan><tspan x="127" textLength="18" lengthAdjust="spacingAndGlyphs">0.0050</tspan></text>
<text x="82.05" y="141" class="cap b" text-anchor="middle" style='font-family:"Liberation Serif", serif'><tspan font-weight="normal" stroke-width="0">(</tspan>a<tspan font-weight="normal" stroke-width="0">)</tspan></text>
<line x1="227.4" y1="104.39" x2="341.4" y2="15.38" stroke="#2a2a2a" stroke-width="0.55"/>
<circle cx="269.71" cy="68.36" r="1.0" fill="#ffa500"/>
<circle cx="260.9" cy="70" r="1.0" fill="#0000ff"/>
<circle cx="257.82" cy="79.68" r="1.0" fill="#800080"/>
<circle cx="275.43" cy="65.53" r="1.0" fill="#800080"/>
<circle cx="265.57" cy="77.32" r="1.0" fill="#ffff00"/>
<circle cx="303" cy="59.7" r="1.0" fill="#0000ff"/>
<circle cx="239.24" cy="94.68" r="1.0" fill="#ffa500"/>
<circle cx="294.49" cy="54.28" r="1.0" fill="#ffa500"/>
<circle cx="256.94" cy="81.38" r="1.0" fill="#ffa500"/>
<circle cx="327" cy="51.3" r="1.0" fill="#ffa500"/>
<circle cx="271.77" cy="69.01" r="1.0" fill="#ff0000"/>
<circle cx="247.82" cy="88.83" r="1.0" fill="#ff0000"/>
<circle cx="292.4" cy="63" r="1.0" fill="#0000ff"/>
<circle cx="265.51" cy="75.87" r="1.0" fill="#ffa500"/>
<circle cx="247.3" cy="90.7" r="1.0" fill="#ff0000"/>
<circle cx="244.82" cy="93.27" r="1.0" fill="#ff0000"/>
<circle cx="291.61" cy="54.26" r="1.0" fill="#008000"/>
<circle cx="257.65" cy="81.81" r="1.0" fill="#800080"/>
<circle cx="289.05" cy="55.56" r="1.0" fill="#008000"/>
<circle cx="288.93" cy="54.72" r="1.0" fill="#800080"/>
<circle cx="281.2" cy="55.4" r="1.0" fill="#008000"/>
<circle cx="302.47" cy="45.97" r="1.0" fill="#ff0000"/>
<circle cx="286.11" cy="58.53" r="1.0" fill="#008000"/>
<circle cx="292.84" cy="52.38" r="1.0" fill="#800080"/>
<circle cx="244.08" cy="93.99" r="1.0" fill="#ff0000"/>
<circle cx="258.33" cy="82.74" r="1.0" fill="#ff0000"/>
<circle cx="280.02" cy="64.06" r="1.0" fill="#800080"/>
<circle cx="272.65" cy="68.45" r="1.0" fill="#ff0000"/>
<circle cx="286.92" cy="58.14" r="1.0" fill="#800080"/>
<circle cx="283.09" cy="61.52" r="1.0" fill="#008000"/>
<circle cx="249.44" cy="84.97" r="1.0" fill="#800080"/>
<circle cx="242.92" cy="92.95" r="1.0" fill="#ffff00"/>
<circle cx="259.59" cy="76.23" r="1.0" fill="#008000"/>
<circle cx="299.29" cy="48.67" r="1.0" fill="#ffa500"/>
<circle cx="244.39" cy="88.56" r="1.0" fill="#ff0000"/>
<circle cx="265.84" cy="76.73" r="1.0" fill="#0000ff"/>
<circle cx="242.2" cy="76.9" r="1.0" fill="#0000ff"/>
<circle cx="255.13" cy="86.98" r="1.0" fill="#800080"/>
<circle cx="271.98" cy="67.97" r="1.0" fill="#008000"/>
<circle cx="301.51" cy="48.23" r="1.0" fill="#ff0000"/>
<circle cx="275.44" cy="66.57" r="1.0" fill="#ff0000"/>
<circle cx="260.11" cy="80.06" r="1.0" fill="#800080"/>
<circle cx="279.02" cy="62.69" r="1.0" fill="#ff0000"/>
<circle cx="274.79" cy="64.22" r="1.0" fill="#ffff00"/>
<circle cx="245" cy="91.32" r="1.0" fill="#008000"/>
<circle cx="265.11" cy="75.03" r="1.0" fill="#008000"/>
<circle cx="307.48" cy="42.36" r="1.0" fill="#008000"/>
<circle cx="287.79" cy="54.83" r="1.0" fill="#ff0000"/>
<circle cx="248.61" cy="87.77" r="1.0" fill="#0000ff"/>
<circle cx="275.5" cy="70.61" r="1.0" fill="#008000"/>
<circle cx="260.23" cy="78.84" r="1.0" fill="#008000"/>
<circle cx="296.5" cy="67" r="1.0" fill="#800080"/>
<circle cx="268.06" cy="75.26" r="1.0" fill="#800080"/>
<circle cx="282.31" cy="61.73" r="1.0" fill="#ffa500"/>
<circle cx="295.13" cy="52.65" r="1.0" fill="#ffff00"/>
<circle cx="251.04" cy="85.87" r="1.0" fill="#ff0000"/>
<circle cx="227" cy="101.4" r="1.0" fill="#ffff00"/>
<circle cx="277.15" cy="69.88" r="1.0" fill="#ff0000"/>
<circle cx="253.78" cy="80.72" r="1.0" fill="#ff0000"/>
<circle cx="288.29" cy="58.6" r="1.0" fill="#0000ff"/>
<circle cx="299.82" cy="47.14" r="1.0" fill="#ff0000"/>
<circle cx="282.68" cy="60.21" r="1.0" fill="#ffa500"/>
<circle cx="253.5" cy="82.54" r="1.0" fill="#0000ff"/>
<circle cx="241.23" cy="97.53" r="1.0" fill="#008000"/>
<circle cx="300.38" cy="47.65" r="1.0" fill="#ff0000"/>
<circle cx="248.28" cy="84.48" r="1.0" fill="#ff0000"/>
<circle cx="268.64" cy="73.07" r="1.0" fill="#0000ff"/>
<circle cx="249.57" cy="86.74" r="1.0" fill="#ffff00"/>
<circle cx="277.53" cy="62.99" r="1.0" fill="#ffff00"/>
<circle cx="253.19" cy="88.02" r="1.0" fill="#ffff00"/>
<circle cx="252.53" cy="85.13" r="1.0" fill="#0000ff"/>
<circle cx="254.4" cy="82.03" r="1.0" fill="#ffa500"/>
<circle cx="307" cy="45.9" r="1.0" fill="#ff0000"/>
<circle cx="273" cy="56.2" r="1.0" fill="#0000ff"/>
<circle cx="310.3" cy="39.4" r="1.0" fill="#008000"/>
<circle cx="267.41" cy="80.1" r="1.0" fill="#ff0000"/>
<circle cx="288.4" cy="66.2" r="1.0" fill="#ffff00"/>
<circle cx="251.31" cy="82.34" r="1.0" fill="#008000"/>
<circle cx="274.7" cy="77.4" r="1.0" fill="#800080"/>
<circle cx="300.42" cy="46.71" r="1.0" fill="#ff0000"/>
<circle cx="298.21" cy="46.85" r="1.0" fill="#ffa500"/>
<circle cx="262.51" cy="76.9" r="1.0" fill="#800080"/>
<circle cx="269.67" cy="72.45" r="1.0" fill="#008000"/>
<circle cx="325.7" cy="48" r="1.0" fill="#0000ff"/>
<circle cx="270.47" cy="73.32" r="1.0" fill="#0000ff"/>
<circle cx="294.35" cy="51.64" r="1.0" fill="#008000"/>
<circle cx="303.2" cy="43.93" r="1.0" fill="#ffa500"/>
<circle cx="274.92" cy="68.19" r="1.0" fill="#ff0000"/>
<circle cx="263.76" cy="76.9" r="1.0" fill="#800080"/>
<circle cx="275.5" cy="59.5" r="1.0" fill="#008000"/>
<circle cx="275.57" cy="67.59" r="1.0" fill="#ff0000"/>
<circle cx="292.97" cy="52.14" r="1.0" fill="#ffa500"/>
<circle cx="281.64" cy="62.77" r="1.0" fill="#800080"/>
<circle cx="251.39" cy="86.52" r="1.0" fill="#008000"/>
<circle cx="303.88" cy="45.39" r="1.0" fill="#ff0000"/>
<circle cx="227.6" cy="71.3" r="1.0" fill="#0000ff"/>
<circle cx="251.75" cy="83.49" r="1.0" fill="#800080"/>
<circle cx="296.68" cy="51.59" r="1.0" fill="#ff0000"/>
<circle cx="283.41" cy="62.27" r="1.0" fill="#800080"/>
<circle cx="277.8" cy="68.15" r="1.0" fill="#ff0000"/>
<circle cx="284.6" cy="63.38" r="1.0" fill="#008000"/>
<circle cx="269.55" cy="73.58" r="1.0" fill="#ffff00"/>
<circle cx="270.97" cy="70.86" r="1.0" fill="#ff0000"/>
<circle cx="265.24" cy="74.21" r="1.0" fill="#ff0000"/>
<circle cx="315.7" cy="44.6" r="1.0" fill="#0000ff"/>
<circle cx="287.64" cy="58.06" r="1.0" fill="#ffa500"/>
<circle cx="261.7" cy="66.8" r="1.0" fill="#0000ff"/>
<circle cx="306.44" cy="44.71" r="1.0" fill="#800080"/>
<circle cx="262.13" cy="76.91" r="1.0" fill="#008000"/>
<circle cx="341.2" cy="24.3" r="1.0" fill="#ffff00"/>
<circle cx="295.54" cy="49.25" r="1.0" fill="#008000"/>
<circle cx="256.83" cy="82.29" r="1.0" fill="#ff0000"/>
<circle cx="259.99" cy="77.49" r="1.0" fill="#ffff00"/>
<circle cx="262.33" cy="76.76" r="1.0" fill="#ffa500"/>
<circle cx="241.67" cy="88.77" r="1.0" fill="#ffff00"/>
<circle cx="260.86" cy="77.07" r="1.0" fill="#ffa500"/>
<circle cx="247.41" cy="91.36" r="1.0" fill="#0000ff"/>
<circle cx="270.23" cy="75.18" r="1.0" fill="#008000"/>
<circle cx="271.9" cy="60.3" r="1.0" fill="#0000ff"/>
<circle cx="288.9" cy="56.65" r="1.0" fill="#ffa500"/>
<circle cx="273.62" cy="70.85" r="1.0" fill="#008000"/>
<circle cx="269.27" cy="72.27" r="1.0" fill="#800080"/>
<circle cx="257.07" cy="77.13" r="1.0" fill="#ffff00"/>
<circle cx="252.04" cy="89.09" r="1.0" fill="#ff0000"/>
<circle cx="264.21" cy="77.47" r="1.0" fill="#0000ff"/>
<circle cx="285.39" cy="57.04" r="1.0" fill="#ff0000"/>
<circle cx="298.1" cy="45.4" r="1.0" fill="#0000ff"/>
<circle cx="267.25" cy="70.62" r="1.0" fill="#ffff00"/>
<circle cx="268.61" cy="74.49" r="1.0" fill="#800080"/>
<circle cx="250.44" cy="87.39" r="1.0" fill="#ff0000"/>
<circle cx="279.07" cy="64.11" r="1.0" fill="#800080"/>
<circle cx="234.5" cy="96.8" r="1.0" fill="#008000"/>
<circle cx="289.53" cy="58.34" r="1.0" fill="#ffa500"/>
<circle cx="296.75" cy="47.89" r="1.0" fill="#800080"/>
<circle cx="264.34" cy="74.69" r="1.0" fill="#008000"/>
<circle cx="289.06" cy="55.55" r="1.0" fill="#ff0000"/>
<circle cx="304.03" cy="45.02" r="1.0" fill="#ff0000"/>
<circle cx="255.51" cy="82.78" r="1.0" fill="#ffa500"/>
<circle cx="262.27" cy="80.51" r="1.0" fill="#ffff00"/>
<circle cx="270" cy="72.02" r="1.0" fill="#ffff00"/>
<circle cx="243" cy="74.4" r="1.0" fill="#0000ff"/>
<circle cx="278.5" cy="63.36" r="1.0" fill="#ffff00"/>
<circle cx="247.89" cy="86.39" r="1.0" fill="#ffff00"/>
<circle cx="262.15" cy="76.45" r="1.0" fill="#800080"/>
<circle cx="259.01" cy="79.41" r="1.0" fill="#ffa500"/>
<circle cx="252.22" cy="81.02" r="1.0" fill="#ff0000"/>
<circle cx="264.9" cy="61.9" r="1.0" fill="#0000ff"/>
<circle cx="292.81" cy="51.57" r="1.0" fill="#ffff00"/>
<circle cx="269" cy="57.9" r="1.0" fill="#008000"/>
<circle cx="276.79" cy="63.29" r="1.0" fill="#ffa500"/>
<circle cx="245.8" cy="87.34" r="1.0" fill="#800080"/>
<circle cx="295.7" cy="63" r="1.0" fill="#0000ff"/>
<circle cx="285.5" cy="57.93" r="1.0" fill="#0000ff"/>
<circle cx="237" cy="81.4" r="1.0" fill="#0000ff"/>
<circle cx="259.15" cy="84.95" r="1.0" fill="#ffa500"/>
<circle cx="253.37" cy="84.49" r="1.0" fill="#800080"/>
<circle cx="270.35" cy="71.53" r="1.0" fill="#800080"/>
<circle cx="286.61" cy="58.81" r="1.0" fill="#ffff00"/>
<circle cx="286.07" cy="57.03" r="1.0" fill="#ffff00"/>
<circle cx="293.53" cy="53.57" r="1.0" fill="#0000ff"/>
<circle cx="302.45" cy="46.85" r="1.0" fill="#ffa500"/>
<circle cx="246.58" cy="86.95" r="1.0" fill="#008000"/>
<circle cx="274.57" cy="72.3" r="1.0" fill="#ff0000"/>
<circle cx="285.56" cy="58.37" r="1.0" fill="#800080"/>
<circle cx="262.79" cy="74.91" r="1.0" fill="#800080"/>
<circle cx="251.08" cy="85.48" r="1.0" fill="#800080"/>
<circle cx="265.62" cy="74.63" r="1.0" fill="#008000"/>
<circle cx="271.55" cy="71.17" r="1.0" fill="#0000ff"/>
<circle cx="277.51" cy="65.89" r="1.0" fill="#ff0000"/>
<circle cx="271.98" cy="66.85" r="1.0" fill="#ff0000"/>
<circle cx="253.37" cy="83.49" r="1.0" fill="#ff0000"/>
<circle cx="299.7" cy="63" r="1.0" fill="#ffff00"/>
<circle cx="272.39" cy="69.45" r="1.0" fill="#ff0000"/>
<circle cx="257.45" cy="79.16" r="1.0" fill="#800080"/>
<circle cx="297.03" cy="51.75" r="1.0" fill="#ffff00"/>
<circle cx="298.23" cy="49.63" r="1.0" fill="#ffa500"/>
<circle cx="241.4" cy="83.9" r="1.0" fill="#0000ff"/>
<circle cx="303.67" cy="47.89" r="1.0" fill="#ff0000"/>
<circle cx="279.58" cy="66.19" r="1.0" fill="#ffff00"/>
<circle cx="298.54" cy="47.3" r="1.0" fill="#800080"/>
<circle cx="244.36" cy="90.32" r="1.0" fill="#008000"/>
<circle cx="283.5" cy="59.7" r="1.0" fill="#ffff00"/>
<circle cx="288.99" cy="57.79" r="1.0" fill="#ff0000"/>
<circle cx="270.75" cy="68.97" r="1.0" fill="#ffa500"/>
<circle cx="278.64" cy="64.06" r="1.0" fill="#ff0000"/>
<circle cx="300.6" cy="48.18" r="1.0" fill="#ff0000"/>
<circle cx="258.22" cy="80.16" r="1.0" fill="#800080"/>
<circle cx="247.7" cy="87.35" r="1.0" fill="#800080"/>
<circle cx="237.3" cy="90.3" r="1.0" fill="#800080"/>
<circle cx="271.15" cy="71.48" r="1.0" fill="#008000"/>
<circle cx="292.34" cy="54.06" r="1.0" fill="#008000"/>
<circle cx="263.64" cy="75.02" r="1.0" fill="#008000"/>
<circle cx="244.43" cy="89.36" r="1.0" fill="#800080"/>
<circle cx="279.87" cy="61.83" r="1.0" fill="#ffa500"/>
<circle cx="258.45" cy="83.73" r="1.0" fill="#ffff00"/>
<circle cx="269.61" cy="70.77" r="1.0" fill="#800080"/>
<circle cx="266.18" cy="72.6" r="1.0" fill="#ffa500"/>
<circle cx="242.2" cy="87.9" r="1.0" fill="#ffa500"/>
<circle cx="265.54" cy="73.84" r="1.0" fill="#008000"/>
<circle cx="242.18" cy="92.95" r="1.0" fill="#800080"/>
<circle cx="262.82" cy="78.41" r="1.0" fill="#008000"/>
<circle cx="284.19" cy="60.96" r="1.0" fill="#0000ff"/>
<circle cx="260.5" cy="70.5" r="1.0" fill="#ffa500"/>
<circle cx="270.21" cy="71.25" r="1.0" fill="#008000"/>
<circle cx="259.6" cy="55" r="1.0" fill="#0000ff"/>
<circle cx="274.23" cy="66.84" r="1.0" fill="#ffff00"/>
<circle cx="287.61" cy="56.42" r="1.0" fill="#0000ff"/>
<circle cx="324.1" cy="36.7" r="1.0" fill="#ff0000"/>
<circle cx="281.2" cy="51" r="1.0" fill="#0000ff"/>
<circle cx="250.32" cy="85.95" r="1.0" fill="#800080"/>
<circle cx="284.98" cy="62.04" r="1.0" fill="#008000"/>
<circle cx="297.27" cy="50.51" r="1.0" fill="#800080"/>
<circle cx="242.62" cy="93.36" r="1.0" fill="#ffa500"/>
<circle cx="283.56" cy="61.37" r="1.0" fill="#ffff00"/>
<circle cx="303.8" cy="48.4" r="1.0" fill="#ff0000"/>
<circle cx="285.94" cy="55.93" r="1.0" fill="#800080"/>
<circle cx="297.79" cy="48.04" r="1.0" fill="#ffa500"/>
<circle cx="276.95" cy="63.69" r="1.0" fill="#ffff00"/>
<circle cx="270.37" cy="71.23" r="1.0" fill="#ffff00"/>
<circle cx="295.74" cy="52.51" r="1.0" fill="#ff0000"/>
<circle cx="243.28" cy="94.9" r="1.0" fill="#ffa500"/>
<circle cx="290.54" cy="57.64" r="1.0" fill="#ffa500"/>
<circle cx="258.2" cy="77.89" r="1.0" fill="#800080"/>
<circle cx="278.02" cy="73.52" r="1.0" fill="#ffa500"/>
<circle cx="265.48" cy="73.83" r="1.0" fill="#0000ff"/>
<circle cx="248.53" cy="87.34" r="1.0" fill="#ffa500"/>
<circle cx="296.6" cy="51.42" r="1.0" fill="#008000"/>
<circle cx="291.6" cy="49.2" r="1.0" fill="#0000ff"/>
<circle cx="289.02" cy="57.16" r="1.0" fill="#ff0000"/>
<circle cx="287.16" cy="64.56" r="1.0" fill="#008000"/>
<circle cx="245.35" cy="88" r="1.0" fill="#ff0000"/>
<circle cx="267.33" cy="75.97" r="1.0" fill="#ff0000"/>
<circle cx="250.03" cy="91.69" r="1.0" fill="#008000"/>
<circle cx="258.53" cy="81.67" r="1.0" fill="#008000"/>
<circle cx="264.43" cy="80.96" r="1.0" fill="#0000ff"/>
<circle cx="290.59" cy="57.17" r="1.0" fill="#800080"/>
<circle cx="303.8" cy="52.4" r="1.0" fill="#0000ff"/>
<circle cx="327.7" cy="24.8" r="1.0" fill="#ffff00"/>
<circle cx="260.83" cy="79.4" r="1.0" fill="#ffa500"/>
<circle cx="241.56" cy="93.77" r="1.0" fill="#800080"/>
<circle cx="285.88" cy="54.61" r="1.0" fill="#800080"/>
<circle cx="300.83" cy="47.02" r="1.0" fill="#ffff00"/>
<circle cx="290.1" cy="57.34" r="1.0" fill="#ffff00"/>
<circle cx="287.6" cy="48.7" r="1.0" fill="#0000ff"/>
<circle cx="265.91" cy="79.08" r="1.0" fill="#ffa500"/>
<circle cx="257.6" cy="66" r="1.0" fill="#0000ff"/>
<circle cx="312.7" cy="37.8" r="1.0" fill="#ff0000"/>
<circle cx="278.7" cy="56.2" r="1.0" fill="#0000ff"/>
<circle cx="288.35" cy="60.25" r="1.0" fill="#800080"/>
<circle cx="305.26" cy="43.81" r="1.0" fill="#0000ff"/>
<circle cx="289.22" cy="58.66" r="1.0" fill="#800080"/>
<circle cx="242.65" cy="83.59" r="1.0" fill="#008000"/>
<circle cx="270.67" cy="64.45" r="1.0" fill="#0000ff"/>
<circle cx="275.17" cy="70.02" r="1.0" fill="#008000"/>
<circle cx="253.71" cy="85.63" r="1.0" fill="#ff0000"/>
<circle cx="264.41" cy="74.19" r="1.0" fill="#ffa500"/>
<circle cx="246.22" cy="88.65" r="1.0" fill="#ff0000"/>
<circle cx="259.6" cy="66.8" r="1.0" fill="#0000ff"/>
<circle cx="267.76" cy="74.18" r="1.0" fill="#ff0000"/>
<circle cx="277.27" cy="67.82" r="1.0" fill="#ffff00"/>
<circle cx="289.84" cy="56.3" r="1.0" fill="#008000"/>
<circle cx="279.91" cy="60.41" r="1.0" fill="#ffa500"/>
<circle cx="283.64" cy="56.89" r="1.0" fill="#ffff00"/>
<circle cx="259.4" cy="76.43" r="1.0" fill="#008000"/>
<circle cx="287" cy="57.47" r="1.0" fill="#ffff00"/>
<circle cx="267.27" cy="70.08" r="1.0" fill="#ff0000"/>
<circle cx="296.86" cy="47.11" r="1.0" fill="#ffa500"/>
<circle cx="254.89" cy="84.32" r="1.0" fill="#0000ff"/>
<circle cx="263.08" cy="77.96" r="1.0" fill="#ffa500"/>
<circle cx="297.27" cy="54.84" r="1.0" fill="#008000"/>
<circle cx="253.2" cy="84.21" r="1.0" fill="#008000"/>
<circle cx="284.41" cy="58.04" r="1.0" fill="#800080"/>
<circle cx="249.92" cy="81.86" r="1.0" fill="#ffff00"/>
<circle cx="295.28" cy="50.44" r="1.0" fill="#800080"/>
<circle cx="259.72" cy="80.07" r="1.0" fill="#008000"/>
<circle cx="275.77" cy="62.68" r="1.0" fill="#008000"/>
<circle cx="278.75" cy="64.64" r="1.0" fill="#ff0000"/>
<circle cx="266.5" cy="74.15" r="1.0" fill="#ffff00"/>
<circle cx="304.6" cy="54.9" r="1.0" fill="#ff0000"/>
<circle cx="262.13" cy="76.85" r="1.0" fill="#0000ff"/>
<circle cx="320" cy="40.7" r="1.0" fill="#ff0000"/>
<circle cx="290.8" cy="59.7" r="1.0" fill="#0000ff"/>
<circle cx="270.97" cy="74.39" r="1.0" fill="#800080"/>
<circle cx="278.35" cy="65.77" r="1.0" fill="#ffa500"/>
<circle cx="287.99" cy="56.12" r="1.0" fill="#008000"/>
<circle cx="244.17" cy="92.74" r="1.0" fill="#ffa500"/>
<circle cx="262.56" cy="77.1" r="1.0" fill="#ffff00"/>
<circle cx="265.2" cy="63.5" r="1.0" fill="#0000ff"/>
<circle cx="291.66" cy="54" r="1.0" fill="#0000ff"/>
<circle cx="246.6" cy="84.2" r="1.0" fill="#ffff00"/>
<circle cx="274.54" cy="66.35" r="1.0" fill="#008000"/>
<circle cx="252.7" cy="71.7" r="1.0" fill="#ffff00"/>
<circle cx="234.9" cy="93.6" r="1.0" fill="#800080"/>
<circle cx="243.49" cy="93.81" r="1.0" fill="#ffa500"/>
<circle cx="272.6" cy="67.55" r="1.0" fill="#800080"/>
<circle cx="258.77" cy="76.3" r="1.0" fill="#ff0000"/>
<circle cx="301.4" cy="51.6" r="1.0" fill="#0000ff"/>
<circle cx="299.89" cy="44.63" r="1.0" fill="#ffff00"/>
<circle cx="268.43" cy="73.17" r="1.0" fill="#800080"/>
<circle cx="283.6" cy="55.4" r="1.0" fill="#0000ff"/>
<circle cx="276.92" cy="66.1" r="1.0" fill="#ffa500"/>
<circle cx="299.09" cy="48.68" r="1.0" fill="#008000"/>
<circle cx="255.09" cy="81.4" r="1.0" fill="#800080"/>
<circle cx="299.1" cy="48.73" r="1.0" fill="#800080"/>
<circle cx="285.49" cy="61.63" r="1.0" fill="#ffff00"/>
<circle cx="229.7" cy="97.2" r="1.0" fill="#ffa500"/>
<circle cx="249.47" cy="91.76" r="1.0" fill="#ff0000"/>
<circle cx="255.99" cy="86.32" r="1.0" fill="#ffa500"/>
<circle cx="244.85" cy="89.43" r="1.0" fill="#ffa500"/>
<circle cx="275.79" cy="65.65" r="1.0" fill="#ff0000"/>
<circle cx="248.84" cy="96.51" r="1.0" fill="#ffa500"/>
<circle cx="323.8" cy="65.9" r="1.0" fill="#800080"/>
<circle cx="269.52" cy="70.88" r="1.0" fill="#800080"/>
<circle cx="290.92" cy="55.13" r="1.0" fill="#ff0000"/>
<circle cx="286.7" cy="69.5" r="1.0" fill="#ff0000"/>
<circle cx="279.2" cy="47.8" r="1.0" fill="#0000ff"/>
<circle cx="338.4" cy="43.2" r="1.0" fill="#0000ff"/>
<circle cx="254.56" cy="79.57" r="1.0" fill="#ffa500"/>
<circle cx="263" cy="75.05" r="1.0" fill="#ffa500"/>
<circle cx="293.89" cy="55.16" r="1.0" fill="#ffff00"/>
<circle cx="301.4" cy="49.2" r="1.0" fill="#ff0000"/>
<circle cx="262.25" cy="78.41" r="1.0" fill="#800080"/>
<circle cx="253" cy="57" r="1.0" fill="#0000ff"/>
<circle cx="268.52" cy="70.26" r="1.0" fill="#ffa500"/>
<circle cx="311.1" cy="41" r="1.0" fill="#ffff00"/>
<circle cx="261.34" cy="83.46" r="1.0" fill="#ffff00"/>
<circle cx="247.9" cy="88.36" r="1.0" fill="#0000ff"/>
<circle cx="253" cy="82.51" r="1.0" fill="#008000"/>
<circle cx="257.53" cy="79.04" r="1.0" fill="#ffa500"/>
<circle cx="236.8" cy="97.7" r="1.0" fill="#ffa500"/>
<circle cx="253.25" cy="83.3" r="1.0" fill="#ff0000"/>
<circle cx="242.7" cy="92.49" r="1.0" fill="#0000ff"/>
<circle cx="265.7" cy="81.4" r="1.0" fill="#800080"/>
<circle cx="279.38" cy="62.73" r="1.0" fill="#ffff00"/>
<circle cx="252.49" cy="85.44" r="1.0" fill="#ffff00"/>
<circle cx="244.3" cy="70.2" r="1.0" fill="#0000ff"/>
<circle cx="286.63" cy="57.76" r="1.0" fill="#0000ff"/>
<circle cx="265.16" cy="72.5" r="1.0" fill="#008000"/>
<circle cx="240.48" cy="99.09" r="1.0" fill="#008000"/>
<circle cx="274.7" cy="63.5" r="1.0" fill="#0000ff"/>
<circle cx="253.02" cy="82.81" r="1.0" fill="#ff0000"/>
<circle cx="306.2" cy="56.5" r="1.0" fill="#0000ff"/>
<circle cx="264.5" cy="72.69" r="1.0" fill="#ffa500"/>
<circle cx="247.9" cy="84.95" r="1.0" fill="#ff0000"/>
<circle cx="282.3" cy="60.43" r="1.0" fill="#800080"/>
<circle cx="241.96" cy="94.88" r="1.0" fill="#ff0000"/>
<circle cx="275.16" cy="66.29" r="1.0" fill="#ffff00"/>
<circle cx="285.92" cy="59.4" r="1.0" fill="#ff0000"/>
<circle cx="286.82" cy="61.53" r="1.0" fill="#ff0000"/>
<circle cx="254.8" cy="66.5" r="1.0" fill="#0000ff"/>
<circle cx="248.82" cy="88.11" r="1.0" fill="#ffa500"/>
<circle cx="255.64" cy="82.93" r="1.0" fill="#ffff00"/>
<circle cx="260.21" cy="79.41" r="1.0" fill="#ff0000"/>
<circle cx="243.54" cy="93.73" r="1.0" fill="#ff0000"/>
<circle cx="272.11" cy="69.17" r="1.0" fill="#008000"/>
<circle cx="281.85" cy="58.14" r="1.0" fill="#800080"/>
<circle cx="283.8" cy="59.66" r="1.0" fill="#0000ff"/>
<circle cx="272.2" cy="55.8" r="1.0" fill="#0000ff"/>
<circle cx="279.07" cy="67.82" r="1.0" fill="#800080"/>
<circle cx="279.24" cy="63.17" r="1.0" fill="#0000ff"/>
<circle cx="281.63" cy="60.82" r="1.0" fill="#008000"/>
<circle cx="280.59" cy="59.55" r="1.0" fill="#800080"/>
<circle cx="281.55" cy="67.68" r="1.0" fill="#ff0000"/>
<circle cx="266.65" cy="70.99" r="1.0" fill="#ffff00"/>
<circle cx="261.52" cy="75.18" r="1.0" fill="#800080"/>
<circle cx="276.2" cy="65.61" r="1.0" fill="#ffa500"/>
<circle cx="300.59" cy="44.15" r="1.0" fill="#ffa500"/>
<circle cx="254" cy="74.4" r="1.0" fill="#ffa500"/>
<circle cx="277.03" cy="67.76" r="1.0" fill="#ffff00"/>
<circle cx="287.86" cy="60.39" r="1.0" fill="#ff0000"/>
<circle cx="259.68" cy="81.89" r="1.0" fill="#800080"/>
<circle cx="308.7" cy="43.5" r="1.0" fill="#ffa500"/>
<circle cx="243" cy="89.5" r="1.0" fill="#800080"/>
<circle cx="303.56" cy="44.11" r="1.0" fill="#800080"/>
<circle cx="280.93" cy="60.84" r="1.0" fill="#008000"/>
<circle cx="271.2" cy="67.87" r="1.0" fill="#ff0000"/>
<circle cx="252.16" cy="86.21" r="1.0" fill="#ff0000"/>
<circle cx="285.01" cy="61.26" r="1.0" fill="#800080"/>
<circle cx="264.93" cy="74.6" r="1.0" fill="#ffff00"/>
<circle cx="269" cy="67.6" r="1.0" fill="#0000ff"/>
<circle cx="253.04" cy="87.14" r="1.0" fill="#ff0000"/>
<circle cx="271.3" cy="75.41" r="1.0" fill="#800080"/>
<circle cx="269.88" cy="73.65" r="1.0" fill="#ff0000"/>
<rect x="217.4" y="11.4" width="129.6" height="100.8" fill="none" stroke="#b4b4b4" stroke-width="0.75"/>
<line x1="217.4" y1="112.2" x2="217.4" y2="113.4" stroke="#999" stroke-width="0.4"/>
<text x="217.4" y="117.8" class="tk" text-anchor="middle">0.0</text>
<line x1="216.2" y1="112.2" x2="217.4" y2="112.2" stroke="#999" stroke-width="0.4"/>
<text x="215.6" y="113.8" class="tk" text-anchor="end">0.0</text>
<line x1="242.4" y1="112.2" x2="242.4" y2="113.4" stroke="#999" stroke-width="0.4"/>
<text x="242.4" y="117.8" class="tk" text-anchor="middle">0.2</text>
<line x1="216.2" y1="92.68" x2="217.4" y2="92.68" stroke="#999" stroke-width="0.4"/>
<text x="215.6" y="94.28" class="tk" text-anchor="end">0.2</text>
<line x1="267.4" y1="112.2" x2="267.4" y2="113.4" stroke="#999" stroke-width="0.4"/>
<text x="267.4" y="117.8" class="tk" text-anchor="middle">0.4</text>
<line x1="216.2" y1="73.16" x2="217.4" y2="73.16" stroke="#999" stroke-width="0.4"/>
<text x="215.6" y="74.76" class="tk" text-anchor="end">0.4</text>
<line x1="292.4" y1="112.2" x2="292.4" y2="113.4" stroke="#999" stroke-width="0.4"/>
<text x="292.4" y="117.8" class="tk" text-anchor="middle">0.6</text>
<line x1="216.2" y1="53.64" x2="217.4" y2="53.64" stroke="#999" stroke-width="0.4"/>
<text x="215.6" y="55.24" class="tk" text-anchor="end">0.6</text>
<line x1="317.4" y1="112.2" x2="317.4" y2="113.4" stroke="#999" stroke-width="0.4"/>
<text x="317.4" y="117.8" class="tk" text-anchor="middle">0.8</text>
<line x1="216.2" y1="34.12" x2="217.4" y2="34.12" stroke="#999" stroke-width="0.4"/>
<text x="215.6" y="35.72" class="tk" text-anchor="end">0.8</text>
<line x1="342.4" y1="112.2" x2="342.4" y2="113.4" stroke="#999" stroke-width="0.4"/>
<text x="342.4" y="117.8" class="tk" text-anchor="middle">1.0</text>
<line x1="216.2" y1="14.6" x2="217.4" y2="14.6" stroke="#999" stroke-width="0.4"/>
<text x="215.6" y="16.2" class="tk" text-anchor="end">1.0</text>
<text x="282.2" y="124.1" class="lb" text-anchor="middle">Normalized Actual Stress <tspan font-style="italic">σ</tspan><tspan font-size="3.7" dy="1.3">1</tspan></text>
<text transform="translate(207,62.5) rotate(-90)" class="lb" text-anchor="middle">Normalized Predicted Stress <tspan font-style="italic">σ</tspan><tspan font-size="3.7" dy="1.3">1</tspan></text>
<rect x="226.8" y="15.4" width="1.6" height="1.6" fill="#ff0000"/>
<text x="236.1" y="18.1" class="lg">Asp1:2</text>
<rect x="226.8" y="22.15" width="1.6" height="1.6" fill="#008000"/>
<text x="236.1" y="24.85" class="lg">Asp1:4</text>
<rect x="226.8" y="28.9" width="1.6" height="1.6" fill="#ffa500"/>
<text x="236.1" y="31.6" class="lg">Asp1:6</text>
<rect x="226.8" y="35.65" width="1.6" height="1.6" fill="#800080"/>
<text x="236.1" y="38.35" class="lg">Asp1:8</text>
<rect x="226.8" y="42.4" width="1.6" height="1.6" fill="#0000ff"/>
<text x="236.1" y="45.1" class="lg">gg</text>
<rect x="226.8" y="49.15" width="1.6" height="1.6" fill="#ffff00"/>
<text x="236.1" y="51.85" class="lg">Voronoi</text>
<text y="90.3" class="tx"><tspan x="299" font-style="italic">R</tspan><tspan x="303.3" y="88.8" font-size="3.8">2</tspan><tspan x="307" y="90.3">=</tspan><tspan x="311.4" textLength="17.2" lengthAdjust="spacingAndGlyphs">0.8380</tspan></text>
<text y="97.9" class="tx"><tspan x="299" textLength="14" lengthAdjust="spacingAndGlyphs">RMSE</tspan><tspan x="314.2">=</tspan><tspan x="319" textLength="18" lengthAdjust="spacingAndGlyphs">0.0613</tspan></text>
<text x="274.5" y="141" class="cap b" text-anchor="middle" style='font-family:"Liberation Serif", serif'><tspan font-weight="normal" stroke-width="0">(</tspan>b<tspan font-weight="normal" stroke-width="0">)</tspan></text>
<line x1="416" y1="107.6" x2="531.62" y2="17.74" stroke="#2a2a2a" stroke-width="0.55"/>
<circle cx="442.48" cy="86.38" r="1.0" fill="#ffa500"/>
<circle cx="485.59" cy="50.42" r="1.0" fill="#ffff00"/>
<circle cx="523" cy="39" r="1.0" fill="#0000ff"/>
<circle cx="470.81" cy="66.99" r="1.0" fill="#ffff00"/>
<circle cx="496.71" cy="46.35" r="1.0" fill="#ffff00"/>
<circle cx="484.53" cy="54.6" r="1.0" fill="#ff0000"/>
<circle cx="439.29" cy="88.41" r="1.0" fill="#800080"/>
<circle cx="491.79" cy="47.94" r="1.0" fill="#008000"/>
<circle cx="484.06" cy="54.23" r="1.0" fill="#ffff00"/>
<circle cx="499" cy="52.4" r="1.0" fill="#0000ff"/>
<circle cx="491.96" cy="52.95" r="1.0" fill="#ffff00"/>
<circle cx="453.42" cy="77.78" r="1.0" fill="#800080"/>
<circle cx="521" cy="52.4" r="1.0" fill="#0000ff"/>
<circle cx="429.2" cy="85.8" r="1.0" fill="#800080"/>
<circle cx="490.77" cy="48.62" r="1.0" fill="#ffff00"/>
<circle cx="500" cy="59.6" r="1.0" fill="#0000ff"/>
<circle cx="473.38" cy="60.43" r="1.0" fill="#800080"/>
<circle cx="501.57" cy="44.1" r="1.0" fill="#800080"/>
<circle cx="477.61" cy="57.27" r="1.0" fill="#008000"/>
<circle cx="457.1" cy="64.4" r="1.0" fill="#0000ff"/>
<circle cx="476.97" cy="57.55" r="1.0" fill="#ff0000"/>
<circle cx="465.66" cy="71.09" r="1.0" fill="#0000ff"/>
<circle cx="467.25" cy="68.5" r="1.0" fill="#ff0000"/>
<circle cx="465.19" cy="67.73" r="1.0" fill="#ff0000"/>
<circle cx="462.39" cy="70.58" r="1.0" fill="#ffa500"/>
<circle cx="473" cy="53.6" r="1.0" fill="#ffff00"/>
<circle cx="489.41" cy="52.9" r="1.0" fill="#ff0000"/>
<circle cx="485.4" cy="51.26" r="1.0" fill="#ffa500"/>
<circle cx="475.45" cy="59.28" r="1.0" fill="#800080"/>
<circle cx="471.98" cy="64.71" r="1.0" fill="#ffa500"/>
<circle cx="455.01" cy="74.56" r="1.0" fill="#0000ff"/>
<circle cx="483.59" cy="59.69" r="1.0" fill="#ff0000"/>
<circle cx="430.8" cy="79.3" r="1.0" fill="#0000ff"/>
<circle cx="493.16" cy="48.63" r="1.0" fill="#008000"/>
<circle cx="443.22" cy="87.02" r="1.0" fill="#ffa500"/>
<circle cx="491.49" cy="47.19" r="1.0" fill="#ff0000"/>
<circle cx="515" cy="35.6" r="1.0" fill="#800080"/>
<circle cx="455.99" cy="76.53" r="1.0" fill="#ffa500"/>
<circle cx="444.9" cy="86.27" r="1.0" fill="#ff0000"/>
<circle cx="438.9" cy="88.12" r="1.0" fill="#ff0000"/>
<circle cx="474.27" cy="62.47" r="1.0" fill="#800080"/>
<circle cx="459.4" cy="64.94" r="1.0" fill="#ffa500"/>
<circle cx="457.63" cy="74.68" r="1.0" fill="#008000"/>
<circle cx="505.47" cy="38.48" r="1.0" fill="#008000"/>
<circle cx="451.9" cy="73.3" r="1.0" fill="#0000ff"/>
<circle cx="495.03" cy="47.64" r="1.0" fill="#ffa500"/>
<circle cx="454.36" cy="75.95" r="1.0" fill="#ffa500"/>
<circle cx="505.73" cy="38.12" r="1.0" fill="#ffa500"/>
<circle cx="485.51" cy="53.77" r="1.0" fill="#ffa500"/>
<circle cx="464.4" cy="50.6" r="1.0" fill="#0000ff"/>
<circle cx="467.79" cy="70.7" r="1.0" fill="#ffff00"/>
<circle cx="429.5" cy="94.4" r="1.0" fill="#800080"/>
<circle cx="471.68" cy="63.18" r="1.0" fill="#008000"/>
<circle cx="510.1" cy="32.55" r="1.0" fill="#0000ff"/>
<circle cx="487.65" cy="50.03" r="1.0" fill="#ffff00"/>
<circle cx="481.4" cy="58.81" r="1.0" fill="#008000"/>
<circle cx="489.06" cy="53.39" r="1.0" fill="#ff0000"/>
<circle cx="458.68" cy="71.42" r="1.0" fill="#ffa500"/>
<circle cx="526" cy="32.4" r="1.0" fill="#008000"/>
<circle cx="485.44" cy="53.91" r="1.0" fill="#0000ff"/>
<circle cx="503.42" cy="41.82" r="1.0" fill="#ffa500"/>
<circle cx="478.71" cy="56.32" r="1.0" fill="#ffa500"/>
<circle cx="501.59" cy="42.44" r="1.0" fill="#ffa500"/>
<circle cx="481.4" cy="58.51" r="1.0" fill="#ffa500"/>
<circle cx="511.52" cy="31.69" r="1.0" fill="#800080"/>
<circle cx="472.9" cy="65.45" r="1.0" fill="#008000"/>
<circle cx="489.34" cy="54.03" r="1.0" fill="#008000"/>
<circle cx="508.74" cy="34.42" r="1.0" fill="#008000"/>
<circle cx="455.87" cy="78.38" r="1.0" fill="#008000"/>
<circle cx="456.98" cy="77.77" r="1.0" fill="#ffff00"/>
<circle cx="495" cy="65" r="1.0" fill="#0000ff"/>
<circle cx="466.28" cy="61.52" r="1.0" fill="#ffa500"/>
<circle cx="511.83" cy="35.25" r="1.0" fill="#ffff00"/>
<circle cx="450.63" cy="78.11" r="1.0" fill="#ffff00"/>
<circle cx="476.45" cy="62.92" r="1.0" fill="#ff0000"/>
<circle cx="486.75" cy="51.72" r="1.0" fill="#800080"/>
<circle cx="485.32" cy="53.77" r="1.0" fill="#ffa500"/>
<circle cx="484.22" cy="56.72" r="1.0" fill="#ff0000"/>
<circle cx="459.62" cy="75.41" r="1.0" fill="#ff0000"/>
<circle cx="457.1" cy="57.5" r="1.0" fill="#0000ff"/>
<circle cx="517" cy="39" r="1.0" fill="#ffff00"/>
<circle cx="502.9" cy="40.87" r="1.0" fill="#0000ff"/>
<circle cx="444.55" cy="84.67" r="1.0" fill="#0000ff"/>
<circle cx="498.68" cy="46.87" r="1.0" fill="#ff0000"/>
<circle cx="503" cy="53.6" r="1.0" fill="#0000ff"/>
<circle cx="504.83" cy="38.79" r="1.0" fill="#ffa500"/>
<circle cx="480.15" cy="58.31" r="1.0" fill="#ff0000"/>
<circle cx="463.64" cy="72.08" r="1.0" fill="#ffa500"/>
<circle cx="471.2" cy="64.11" r="1.0" fill="#ff0000"/>
<circle cx="452.54" cy="82.77" r="1.0" fill="#ff0000"/>
<circle cx="475.23" cy="62.08" r="1.0" fill="#800080"/>
<circle cx="465.63" cy="67.03" r="1.0" fill="#008000"/>
<circle cx="486.09" cy="55.8" r="1.0" fill="#800080"/>
<circle cx="450.17" cy="80.56" r="1.0" fill="#008000"/>
<circle cx="464.62" cy="69.36" r="1.0" fill="#ffff00"/>
<circle cx="503.18" cy="42.22" r="1.0" fill="#800080"/>
<circle cx="448.59" cy="84.22" r="1.0" fill="#800080"/>
<circle cx="443.68" cy="85.72" r="1.0" fill="#ff0000"/>
<circle cx="466" cy="74.1" r="1.0" fill="#ff0000"/>
<circle cx="503.7" cy="39.4" r="1.0" fill="#ffff00"/>
<circle cx="422.2" cy="92.8" r="1.0" fill="#800080"/>
<circle cx="509.48" cy="32.53" r="1.0" fill="#0000ff"/>
<circle cx="497.67" cy="45.11" r="1.0" fill="#ff0000"/>
<circle cx="450.94" cy="81.8" r="1.0" fill="#ffa500"/>
<circle cx="473.22" cy="71.09" r="1.0" fill="#008000"/>
<circle cx="484.38" cy="52.26" r="1.0" fill="#008000"/>
<circle cx="448.37" cy="85.41" r="1.0" fill="#ffff00"/>
<circle cx="449.76" cy="83.56" r="1.0" fill="#800080"/>
<circle cx="472.08" cy="64.88" r="1.0" fill="#ffff00"/>
<circle cx="455.31" cy="78.44" r="1.0" fill="#ffa500"/>
<circle cx="468.57" cy="67.53" r="1.0" fill="#ff0000"/>
<circle cx="473.53" cy="54.66" r="1.0" fill="#ffff00"/>
<circle cx="485.72" cy="53.5" r="1.0" fill="#ffa500"/>
<circle cx="453.71" cy="80.12" r="1.0" fill="#ffa500"/>
<circle cx="490" cy="65" r="1.0" fill="#0000ff"/>
<circle cx="502.8" cy="38.17" r="1.0" fill="#ffa500"/>
<circle cx="487.54" cy="55.81" r="1.0" fill="#ffff00"/>
<circle cx="473.42" cy="61.32" r="1.0" fill="#ffa500"/>
<circle cx="490.99" cy="47.84" r="1.0" fill="#ffff00"/>
<circle cx="451.29" cy="79.7" r="1.0" fill="#ff0000"/>
<circle cx="451.24" cy="80.95" r="1.0" fill="#008000"/>
<circle cx="469.65" cy="67.21" r="1.0" fill="#ffff00"/>
<circle cx="451.04" cy="83.59" r="1.0" fill="#ff0000"/>
<circle cx="474.58" cy="62.32" r="1.0" fill="#ffa500"/>
<circle cx="461.53" cy="70.28" r="1.0" fill="#0000ff"/>
<circle cx="503.92" cy="39.09" r="1.0" fill="#008000"/>
<circle cx="467.96" cy="65.96" r="1.0" fill="#ff0000"/>
<circle cx="454.7" cy="69.2" r="1.0" fill="#800080"/>
<circle cx="466.38" cy="66.81" r="1.0" fill="#ffa500"/>
<circle cx="458.16" cy="72.52" r="1.0" fill="#ff0000"/>
<circle cx="480.76" cy="57.38" r="1.0" fill="#800080"/>
<circle cx="459.02" cy="76.25" r="1.0" fill="#ff0000"/>
<circle cx="468.71" cy="66.26" r="1.0" fill="#ffff00"/>
<circle cx="488.2" cy="48.91" r="1.0" fill="#008000"/>
<circle cx="447.05" cy="86.25" r="1.0" fill="#800080"/>
<circle cx="446.58" cy="85.89" r="1.0" fill="#ff0000"/>
<circle cx="500.36" cy="40.36" r="1.0" fill="#ffff00"/>
<circle cx="474.21" cy="60.07" r="1.0" fill="#ffff00"/>
<circle cx="457.11" cy="79.65" r="1.0" fill="#800080"/>
<circle cx="463.76" cy="69.15" r="1.0" fill="#ff0000"/>
<circle cx="494.75" cy="51.05" r="1.0" fill="#800080"/>
<circle cx="485.4" cy="53.62" r="1.0" fill="#800080"/>
<circle cx="462.06" cy="71.01" r="1.0" fill="#ff0000"/>
<circle cx="531.6" cy="20" r="1.0" fill="#008000"/>
<circle cx="485.35" cy="53.3" r="1.0" fill="#ffff00"/>
<circle cx="505.21" cy="38.13" r="1.0" fill="#0000ff"/>
<circle cx="446.5" cy="70.9" r="1.0" fill="#0000ff"/>
<circle cx="502.58" cy="42.45" r="1.0" fill="#ff0000"/>
<circle cx="509.06" cy="40.12" r="1.0" fill="#800080"/>
<circle cx="501.93" cy="46.95" r="1.0" fill="#ff0000"/>
<circle cx="479" cy="65.2" r="1.0" fill="#0000ff"/>
<circle cx="442.5" cy="87.9" r="1.0" fill="#800080"/>
<circle cx="470.38" cy="64.76" r="1.0" fill="#ffa500"/>
<circle cx="462.08" cy="75.42" r="1.0" fill="#ffff00"/>
<circle cx="444.87" cy="89.31" r="1.0" fill="#ff0000"/>
<circle cx="503.25" cy="37.94" r="1.0" fill="#ff0000"/>
<circle cx="499.73" cy="37.8" r="1.0" fill="#ff0000"/>
<circle cx="455.18" cy="70.69" r="1.0" fill="#800080"/>
<circle cx="462.78" cy="71.12" r="1.0" fill="#ffff00"/>
<circle cx="483" cy="63" r="1.0" fill="#0000ff"/>
<circle cx="448.66" cy="80.88" r="1.0" fill="#ff0000"/>
<circle cx="463.02" cy="68.21" r="1.0" fill="#ffff00"/>
<circle cx="431.9" cy="90.7" r="1.0" fill="#800080"/>
<circle cx="497.83" cy="44.92" r="1.0" fill="#008000"/>
<circle cx="497.22" cy="44.17" r="1.0" fill="#800080"/>
<circle cx="497.03" cy="47.37" r="1.0" fill="#800080"/>
<circle cx="442.57" cy="89.14" r="1.0" fill="#ff0000"/>
<circle cx="492.21" cy="48.93" r="1.0" fill="#ffa500"/>
<circle cx="461.08" cy="73.5" r="1.0" fill="#ff0000"/>
<circle cx="454.63" cy="78.48" r="1.0" fill="#ffff00"/>
<circle cx="469.29" cy="65.66" r="1.0" fill="#0000ff"/>
<circle cx="505.55" cy="38.07" r="1.0" fill="#ffa500"/>
<circle cx="472.62" cy="64.81" r="1.0" fill="#008000"/>
<circle cx="496.4" cy="46.39" r="1.0" fill="#800080"/>
<circle cx="495.56" cy="44.16" r="1.0" fill="#ff0000"/>
<circle cx="491.75" cy="46.41" r="1.0" fill="#ffa500"/>
<circle cx="471.69" cy="58.84" r="1.0" fill="#ffa500"/>
<circle cx="509" cy="36" r="1.0" fill="#ff0000"/>
<circle cx="466.05" cy="67.39" r="1.0" fill="#ffff00"/>
<circle cx="492.8" cy="43.66" r="1.0" fill="#ff0000"/>
<circle cx="524" cy="28" r="1.0" fill="#ffff00"/>
<circle cx="453.5" cy="67.6" r="1.0" fill="#800080"/>
<circle cx="480.62" cy="57.05" r="1.0" fill="#008000"/>
<circle cx="492.7" cy="50.14" r="1.0" fill="#ff0000"/>
<circle cx="441.8" cy="87.89" r="1.0" fill="#008000"/>
<circle cx="444.9" cy="77" r="1.0" fill="#800080"/>
<circle cx="467.7" cy="59.2" r="1.0" fill="#0000ff"/>
<circle cx="485.58" cy="56.93" r="1.0" fill="#ffff00"/>
<circle cx="507.52" cy="37.15" r="1.0" fill="#ffff00"/>
<circle cx="476.01" cy="61.22" r="1.0" fill="#ffa500"/>
<circle cx="481.09" cy="59.83" r="1.0" fill="#ff0000"/>
<circle cx="469.84" cy="68.03" r="1.0" fill="#ffff00"/>
<circle cx="478.27" cy="61.58" r="1.0" fill="#008000"/>
<circle cx="482.15" cy="55.55" r="1.0" fill="#ff0000"/>
<circle cx="445.2" cy="80.63" r="1.0" fill="#ffff00"/>
<circle cx="446.21" cy="81.54" r="1.0" fill="#0000ff"/>
<circle cx="511" cy="45" r="1.0" fill="#0000ff"/>
<circle cx="477.54" cy="60.45" r="1.0" fill="#008000"/>
<circle cx="495.73" cy="47.6" r="1.0" fill="#ffff00"/>
<circle cx="473.92" cy="63.59" r="1.0" fill="#ffa500"/>
<circle cx="463.64" cy="68.39" r="1.0" fill="#800080"/>
<circle cx="494.41" cy="46.92" r="1.0" fill="#ffff00"/>
<circle cx="481.44" cy="61.53" r="1.0" fill="#008000"/>
<circle cx="479" cy="57.73" r="1.0" fill="#800080"/>
<circle cx="510.06" cy="33.54" r="1.0" fill="#ff0000"/>
<circle cx="462.76" cy="71.26" r="1.0" fill="#ffff00"/>
<circle cx="474.81" cy="58.6" r="1.0" fill="#800080"/>
<circle cx="514.4" cy="39.6" r="1.0" fill="#0000ff"/>
<circle cx="498.47" cy="44.77" r="1.0" fill="#800080"/>
<circle cx="458.4" cy="73.42" r="1.0" fill="#800080"/>
<circle cx="438" cy="87.5" r="1.0" fill="#800080"/>
<circle cx="495.6" cy="43.47" r="1.0" fill="#ffa500"/>
<circle cx="463.93" cy="69.42" r="1.0" fill="#ffff00"/>
<circle cx="452.6" cy="54.9" r="1.0" fill="#0000ff"/>
<circle cx="467.92" cy="60.85" r="1.0" fill="#800080"/>
<circle cx="518" cy="28" r="1.0" fill="#ff0000"/>
<circle cx="495.66" cy="40.03" r="1.0" fill="#ffa500"/>
<circle cx="477.02" cy="59.88" r="1.0" fill="#ff0000"/>
<circle cx="509.76" cy="42.19" r="1.0" fill="#ffa500"/>
<circle cx="439.2" cy="90.7" r="1.0" fill="#ffa500"/>
<circle cx="471.62" cy="67.02" r="1.0" fill="#ffff00"/>
<circle cx="496.57" cy="39.98" r="1.0" fill="#800080"/>
<circle cx="470.38" cy="68.24" r="1.0" fill="#ffa500"/>
<circle cx="494.08" cy="44.94" r="1.0" fill="#ffa500"/>
<circle cx="444.29" cy="82.34" r="1.0" fill="#0000ff"/>
<circle cx="469.25" cy="66.91" r="1.0" fill="#ff0000"/>
<circle cx="502.09" cy="39.21" r="1.0" fill="#008000"/>
<circle cx="487.06" cy="58.18" r="1.0" fill="#ffa500"/>
<circle cx="504.74" cy="38.41" r="1.0" fill="#008000"/>
<circle cx="454.83" cy="77.32" r="1.0" fill="#ff0000"/>
<circle cx="449.89" cy="79.57" r="1.0" fill="#ffff00"/>
<circle cx="459.24" cy="71.1" r="1.0" fill="#ff0000"/>
<circle cx="465.34" cy="69.35" r="1.0" fill="#ff0000"/>
<circle cx="505.77" cy="39.3" r="1.0" fill="#ff0000"/>
<circle cx="505.48" cy="43.4" r="1.0" fill="#ff0000"/>
<circle cx="498.35" cy="43.77" r="1.0" fill="#ffff00"/>
<circle cx="504.37" cy="39.19" r="1.0" fill="#ff0000"/>
<circle cx="487.65" cy="52.41" r="1.0" fill="#0000ff"/>
<circle cx="498.57" cy="43.51" r="1.0" fill="#008000"/>
<circle cx="489.65" cy="45.51" r="1.0" fill="#ffa500"/>
<circle cx="461.65" cy="74.39" r="1.0" fill="#ffff00"/>
<circle cx="453.05" cy="71.43" r="1.0" fill="#ffa500"/>
<circle cx="477.74" cy="59.5" r="1.0" fill="#800080"/>
<circle cx="481.24" cy="54.61" r="1.0" fill="#ffa500"/>
<circle cx="491.02" cy="48.42" r="1.0" fill="#ff0000"/>
<circle cx="449" cy="63.5" r="1.0" fill="#0000ff"/>
<circle cx="492.04" cy="48.76" r="1.0" fill="#0000ff"/>
<circle cx="486.32" cy="53.02" r="1.0" fill="#008000"/>
<circle cx="509" cy="47.6" r="1.0" fill="#0000ff"/>
<circle cx="471.7" cy="68.4" r="1.0" fill="#ff0000"/>
<circle cx="466" cy="59.2" r="1.0" fill="#0000ff"/>
<circle cx="471.97" cy="62.4" r="1.0" fill="#008000"/>
<circle cx="492.84" cy="47.16" r="1.0" fill="#008000"/>
<circle cx="480.69" cy="56.88" r="1.0" fill="#ff0000"/>
<circle cx="492.35" cy="45.89" r="1.0" fill="#ffa500"/>
<circle cx="476.49" cy="66.42" r="1.0" fill="#ff0000"/>
<circle cx="443.56" cy="86.07" r="1.0" fill="#008000"/>
<circle cx="477.06" cy="62.08" r="1.0" fill="#ff0000"/>
<circle cx="479.49" cy="58.36" r="1.0" fill="#800080"/>
<circle cx="457.1" cy="66" r="1.0" fill="#0000ff"/>
<circle cx="474.72" cy="58.99" r="1.0" fill="#ff0000"/>
<circle cx="457.28" cy="71.49" r="1.0" fill="#ffff00"/>
<circle cx="474.05" cy="62.04" r="1.0" fill="#ffa500"/>
<circle cx="492" cy="61" r="1.0" fill="#0000ff"/>
<circle cx="482.82" cy="58.17" r="1.0" fill="#008000"/>
<circle cx="474.2" cy="53" r="1.0" fill="#0000ff"/>
<circle cx="478.72" cy="63.93" r="1.0" fill="#800080"/>
<circle cx="470.79" cy="67.66" r="1.0" fill="#800080"/>
<circle cx="462.72" cy="72.74" r="1.0" fill="#ffa500"/>
<circle cx="470.54" cy="64.85" r="1.0" fill="#ffff00"/>
<circle cx="507.26" cy="37.11" r="1.0" fill="#800080"/>
<circle cx="503.94" cy="34.57" r="1.0" fill="#008000"/>
<circle cx="503.16" cy="38.84" r="1.0" fill="#ff0000"/>
<circle cx="447.68" cy="82.47" r="1.0" fill="#800080"/>
<circle cx="493.06" cy="46.18" r="1.0" fill="#800080"/>
<circle cx="472.36" cy="62.36" r="1.0" fill="#800080"/>
<circle cx="492.41" cy="49.44" r="1.0" fill="#ffff00"/>
<circle cx="441.7" cy="82.6" r="1.0" fill="#800080"/>
<circle cx="472.88" cy="62.56" r="1.0" fill="#ffff00"/>
<circle cx="492.99" cy="49.92" r="1.0" fill="#ff0000"/>
<circle cx="455.73" cy="80.02" r="1.0" fill="#ffa500"/>
<circle cx="450.09" cy="79.92" r="1.0" fill="#800080"/>
<circle cx="472.99" cy="62.75" r="1.0" fill="#ffa500"/>
<circle cx="456.16" cy="75.7" r="1.0" fill="#008000"/>
<circle cx="448.7" cy="58.7" r="1.0" fill="#0000ff"/>
<circle cx="489.93" cy="53.11" r="1.0" fill="#0000ff"/>
<circle cx="449.18" cy="79.79" r="1.0" fill="#ffa500"/>
<circle cx="442.86" cy="85.42" r="1.0" fill="#0000ff"/>
<circle cx="501.86" cy="40.88" r="1.0" fill="#ff0000"/>
<circle cx="463.66" cy="71.62" r="1.0" fill="#ffff00"/>
<circle cx="505.87" cy="38.44" r="1.0" fill="#008000"/>
<circle cx="477.89" cy="62.77" r="1.0" fill="#800080"/>
<circle cx="461.53" cy="70.15" r="1.0" fill="#800080"/>
<circle cx="453.05" cy="79.68" r="1.0" fill="#ff0000"/>
<circle cx="463.54" cy="66.46" r="1.0" fill="#800080"/>
<circle cx="461.2" cy="79.8" r="1.0" fill="#ffff00"/>
<circle cx="474.69" cy="62.43" r="1.0" fill="#800080"/>
<circle cx="444.71" cy="86.06" r="1.0" fill="#008000"/>
<circle cx="459.63" cy="78.55" r="1.0" fill="#800080"/>
<circle cx="506" cy="51.6" r="1.0" fill="#0000ff"/>
<circle cx="439.9" cy="94.58" r="1.0" fill="#ff0000"/>
<circle cx="496.53" cy="44.26" r="1.0" fill="#008000"/>
<circle cx="452.51" cy="80.21" r="1.0" fill="#ffff00"/>
<circle cx="487" cy="62" r="1.0" fill="#0000ff"/>
<circle cx="470.28" cy="68.3" r="1.0" fill="#0000ff"/>
<circle cx="511" cy="32" r="1.0" fill="#ffff00"/>
<circle cx="480.9" cy="51.38" r="1.0" fill="#800080"/>
<circle cx="484.55" cy="57.2" r="1.0" fill="#008000"/>
<circle cx="460.35" cy="72.03" r="1.0" fill="#800080"/>
<circle cx="529" cy="22.4" r="1.0" fill="#ffa500"/>
<circle cx="483.23" cy="54.18" r="1.0" fill="#ffa500"/>
<circle cx="469.3" cy="73.3" r="1.0" fill="#ffff00"/>
<circle cx="486.22" cy="54.91" r="1.0" fill="#008000"/>
<circle cx="452.58" cy="77.35" r="1.0" fill="#800080"/>
<circle cx="474.85" cy="63.04" r="1.0" fill="#ff0000"/>
<circle cx="482.66" cy="56.65" r="1.0" fill="#0000ff"/>
<circle cx="458.23" cy="72.81" r="1.0" fill="#008000"/>
<circle cx="457.42" cy="79.22" r="1.0" fill="#800080"/>
<circle cx="486.92" cy="53.55" r="1.0" fill="#800080"/>
<circle cx="479.17" cy="64.4" r="1.0" fill="#008000"/>
<circle cx="463.63" cy="71.92" r="1.0" fill="#ffff00"/>
<circle cx="447" cy="66" r="1.0" fill="#0000ff"/>
<circle cx="480.41" cy="54.96" r="1.0" fill="#ffa500"/>
<circle cx="493.73" cy="49.23" r="1.0" fill="#ff0000"/>
<circle cx="457.9" cy="59.5" r="1.0" fill="#0000ff"/>
<circle cx="489.92" cy="52.37" r="1.0" fill="#800080"/>
<circle cx="488.23" cy="50.41" r="1.0" fill="#ff0000"/>
<circle cx="469.91" cy="65.99" r="1.0" fill="#008000"/>
<circle cx="484" cy="57" r="1.0" fill="#0000ff"/>
<circle cx="505.02" cy="38.82" r="1.0" fill="#ffff00"/>
<circle cx="490.66" cy="49.89" r="1.0" fill="#ffa500"/>
<circle cx="485.1" cy="53.6" r="1.0" fill="#ff0000"/>
<circle cx="522.6" cy="25" r="1.0" fill="#008000"/>
<circle cx="472.89" cy="62.99" r="1.0" fill="#008000"/>
<circle cx="472.5" cy="72.5" r="1.0" fill="#800080"/>
<circle cx="463.2" cy="73.31" r="1.0" fill="#0000ff"/>
<circle cx="449.98" cy="82.28" r="1.0" fill="#ffa500"/>
<circle cx="465.3" cy="65.94" r="1.0" fill="#800080"/>
<circle cx="459.15" cy="72.52" r="1.0" fill="#ffa500"/>
<circle cx="480.15" cy="59.16" r="1.0" fill="#ff0000"/>
<circle cx="470.43" cy="65.76" r="1.0" fill="#ffa500"/>
<circle cx="465.19" cy="70.55" r="1.0" fill="#008000"/>
<circle cx="508.32" cy="36.07" r="1.0" fill="#ffff00"/>
<circle cx="473.6" cy="64.46" r="1.0" fill="#ff0000"/>
<circle cx="436" cy="86.3" r="1.0" fill="#800080"/>
<circle cx="468.41" cy="67.64" r="1.0" fill="#ff0000"/>
<circle cx="478.79" cy="59.91" r="1.0" fill="#ff0000"/>
<circle cx="500.03" cy="40.76" r="1.0" fill="#ffa500"/>
<circle cx="496" cy="59" r="1.0" fill="#0000ff"/>
<circle cx="505.97" cy="35.34" r="1.0" fill="#ffa500"/>
<circle cx="481" cy="71" r="1.0" fill="#ff0000"/>
<circle cx="429.5" cy="97.7" r="1.0" fill="#008000"/>
<circle cx="469.98" cy="72.34" r="1.0" fill="#ffa500"/>
<circle cx="498.5" cy="44.34" r="1.0" fill="#800080"/>
<circle cx="475" cy="50.1" r="1.0" fill="#0000ff"/>
<circle cx="470.56" cy="61.87" r="1.0" fill="#008000"/>
<circle cx="475.39" cy="60.57" r="1.0" fill="#ffa500"/>
<circle cx="488.89" cy="51.35" r="1.0" fill="#ffff00"/>
<circle cx="468.76" cy="68.89" r="1.0" fill="#ffa500"/>
<circle cx="481.87" cy="55.62" r="1.0" fill="#ffa500"/>
<circle cx="451" cy="79.69" r="1.0" fill="#800080"/>
<circle cx="523" cy="42" r="1.0" fill="#0000ff"/>
<circle cx="485.6" cy="69" r="1.0" fill="#ffff00"/>
<circle cx="460.1" cy="73.93" r="1.0" fill="#ffff00"/>
<circle cx="470.29" cy="66.55" r="1.0" fill="#ff0000"/>
<circle cx="449.85" cy="81.24" r="1.0" fill="#0000ff"/>
<circle cx="480.7" cy="55.04" r="1.0" fill="#ffa500"/>
<circle cx="477.43" cy="59.58" r="1.0" fill="#800080"/>
<circle cx="465.18" cy="68.7" r="1.0" fill="#008000"/>
<circle cx="475.62" cy="64.86" r="1.0" fill="#ffff00"/>
<circle cx="461.24" cy="72.15" r="1.0" fill="#800080"/>
<circle cx="415.7" cy="107.9" r="1.0" fill="#800080"/>
<circle cx="493.81" cy="46.5" r="1.0" fill="#800080"/>
<circle cx="464.9" cy="53" r="1.0" fill="#0000ff"/>
<circle cx="470.9" cy="58.2" r="1.0" fill="#0000ff"/>
<circle cx="495.35" cy="42.81" r="1.0" fill="#008000"/>
<circle cx="470.48" cy="60.54" r="1.0" fill="#800080"/>
<circle cx="449.25" cy="76.06" r="1.0" fill="#0000ff"/>
<circle cx="492.76" cy="46.76" r="1.0" fill="#ffa500"/>
<circle cx="460.3" cy="67.6" r="1.0" fill="#800080"/>
<circle cx="469.49" cy="65.38" r="1.0" fill="#800080"/>
<circle cx="487.91" cy="51.96" r="1.0" fill="#008000"/>
<circle cx="503.31" cy="37.19" r="1.0" fill="#800080"/>
<circle cx="440.5" cy="86.6" r="1.0" fill="#800080"/>
<circle cx="479.5" cy="58.26" r="1.0" fill="#008000"/>
<circle cx="495.97" cy="43.41" r="1.0" fill="#008000"/>
<circle cx="489.83" cy="51.88" r="1.0" fill="#ff0000"/>
<circle cx="483.56" cy="59.15" r="1.0" fill="#ffff00"/>
<circle cx="505.23" cy="35.08" r="1.0" fill="#008000"/>
<circle cx="469.45" cy="64.29" r="1.0" fill="#ffa500"/>
<rect x="410" y="11.6" width="129.6" height="100.6" fill="none" stroke="#b4b4b4" stroke-width="0.75"/>
<line x1="416" y1="112.2" x2="416" y2="113.4" stroke="#999" stroke-width="0.4"/>
<text x="416" y="117.8" class="tk" text-anchor="middle">0.0</text>
<line x1="408.8" y1="107.6" x2="410" y2="107.6" stroke="#999" stroke-width="0.4"/>
<text x="408.2" y="109.2" class="tk" text-anchor="end">0.0</text>
<line x1="440.6" y1="112.2" x2="440.6" y2="113.4" stroke="#999" stroke-width="0.4"/>
<text x="440.6" y="117.8" class="tk" text-anchor="middle">0.2</text>
<line x1="408.8" y1="88.48" x2="410" y2="88.48" stroke="#999" stroke-width="0.4"/>
<text x="408.2" y="90.08" class="tk" text-anchor="end">0.2</text>
<line x1="465.2" y1="112.2" x2="465.2" y2="113.4" stroke="#999" stroke-width="0.4"/>
<text x="465.2" y="117.8" class="tk" text-anchor="middle">0.4</text>
<line x1="408.8" y1="69.36" x2="410" y2="69.36" stroke="#999" stroke-width="0.4"/>
<text x="408.2" y="70.96" class="tk" text-anchor="end">0.4</text>
<line x1="489.8" y1="112.2" x2="489.8" y2="113.4" stroke="#999" stroke-width="0.4"/>
<text x="489.8" y="117.8" class="tk" text-anchor="middle">0.6</text>
<line x1="408.8" y1="50.24" x2="410" y2="50.24" stroke="#999" stroke-width="0.4"/>
<text x="408.2" y="51.84" class="tk" text-anchor="end">0.6</text>
<line x1="514.4" y1="112.2" x2="514.4" y2="113.4" stroke="#999" stroke-width="0.4"/>
<text x="514.4" y="117.8" class="tk" text-anchor="middle">0.8</text>
<line x1="408.8" y1="31.12" x2="410" y2="31.12" stroke="#999" stroke-width="0.4"/>
<text x="408.2" y="32.72" class="tk" text-anchor="end">0.8</text>
<line x1="539" y1="112.2" x2="539" y2="113.4" stroke="#999" stroke-width="0.4"/>
<text x="539" y="117.8" class="tk" text-anchor="middle">1.0</text>
<line x1="408.8" y1="12" x2="410" y2="12" stroke="#999" stroke-width="0.4"/>
<text x="408.2" y="13.6" class="tk" text-anchor="end">1.0</text>
<text x="474.8" y="124.1" class="lb" text-anchor="middle">Normalized Actual Stress <tspan font-style="italic">σ</tspan><tspan font-size="3.7" dy="1.3">1</tspan></text>
<text transform="translate(399,62.8) rotate(-90)" class="lb" text-anchor="middle">Normalized Predicted Stress <tspan font-style="italic">σ</tspan><tspan font-size="3.7" dy="1.3">1</tspan></text>
<rect x="419.1" y="15.4" width="1.6" height="1.6" fill="#ff0000"/>
<text x="428.1" y="18.1" class="lg">Asp1:2</text>
<rect x="419.1" y="22.15" width="1.6" height="1.6" fill="#008000"/>
<text x="428.1" y="24.85" class="lg">Asp1:4</text>
<rect x="419.1" y="28.9" width="1.6" height="1.6" fill="#ffa500"/>
<text x="428.1" y="31.6" class="lg">Asp1:6</text>
<rect x="419.1" y="35.65" width="1.6" height="1.6" fill="#800080"/>
<text x="428.1" y="38.35" class="lg">Asp1:8</text>
<rect x="419.1" y="42.4" width="1.6" height="1.6" fill="#0000ff"/>
<text x="428.1" y="45.1" class="lg">gg</text>
<rect x="419.1" y="49.15" width="1.6" height="1.6" fill="#ffff00"/>
<text x="428.1" y="51.85" class="lg">Voronoi</text>
<text y="84.3" class="tx"><tspan x="493.6" font-style="italic">R</tspan><tspan x="497.9" y="82.8" font-size="3.8">2</tspan><tspan x="501.6" y="84.3">=</tspan><tspan x="506" textLength="17.2" lengthAdjust="spacingAndGlyphs">0.8665</tspan></text>
<text y="91.9" class="tx"><tspan x="493.6" textLength="14" lengthAdjust="spacingAndGlyphs">RMSE</tspan><tspan x="508.8">=</tspan><tspan x="513.6" textLength="18" lengthAdjust="spacingAndGlyphs">0.0573</tspan></text>
<text x="468.9" y="140.6" class="cap b" text-anchor="middle" style='font-family:"Liberation Serif", serif'><tspan font-weight="normal" stroke-width="0">(</tspan>c<tspan font-weight="normal" stroke-width="0">)</tspan></text>
<line x1="31.5" y1="255" x2="148.6" y2="164" stroke="#2a2a2a" stroke-width="0.55"/>
<circle cx="48.84" cy="241.23" r="0.85" fill="#ff0000"/>
<circle cx="54.86" cy="236.97" r="0.85" fill="#ff0000"/>
<circle cx="47.81" cy="242.44" r="0.85" fill="#ff0000"/>
<circle cx="57.27" cy="235.08" r="0.85" fill="#ffa500"/>
<circle cx="129.36" cy="178.65" r="0.85" fill="#ff0000"/>
<circle cx="49.96" cy="240.87" r="0.85" fill="#800080"/>
<circle cx="74.14" cy="222.19" r="0.85" fill="#008000"/>
<circle cx="58.09" cy="234" r="0.85" fill="#ff0000"/>
<circle cx="64.87" cy="228.83" r="0.85" fill="#ff0000"/>
<circle cx="85.93" cy="212.43" r="0.85" fill="#ffa500"/>
<circle cx="75.37" cy="221.14" r="0.85" fill="#0000ff"/>
<circle cx="123" cy="183.91" r="0.85" fill="#ffa500"/>
<circle cx="60.5" cy="231.95" r="0.85" fill="#800080"/>
<circle cx="98.94" cy="203.1" r="0.85" fill="#ffa500"/>
<circle cx="73.23" cy="222.28" r="0.85" fill="#ff0000"/>
<circle cx="32.1" cy="255.2" r="1.0" fill="#0000ff"/>
<circle cx="144" cy="167" r="1.0" fill="#0000ff"/>
<circle cx="90.08" cy="210.01" r="0.85" fill="#ff0000"/>
<circle cx="102.17" cy="199.2" r="0.85" fill="#ffa500"/>
<circle cx="49.92" cy="240.36" r="0.85" fill="#ffa500"/>
<circle cx="64.37" cy="229.46" r="0.85" fill="#ffa500"/>
<circle cx="100.04" cy="202.38" r="0.85" fill="#008000"/>
<circle cx="113.36" cy="191.6" r="0.85" fill="#008000"/>
<circle cx="54.72" cy="236.91" r="0.85" fill="#ff0000"/>
<circle cx="86.95" cy="212.09" r="0.85" fill="#800080"/>
<circle cx="70.33" cy="224.71" r="0.85" fill="#0000ff"/>
<circle cx="70.95" cy="224.54" r="0.85" fill="#ffff00"/>
<circle cx="96.29" cy="205.08" r="0.85" fill="#ffa500"/>
<circle cx="98.53" cy="202.39" r="0.85" fill="#ffa500"/>
<circle cx="60.28" cy="232.29" r="0.85" fill="#ff0000"/>
<circle cx="93.45" cy="207.45" r="0.85" fill="#ff0000"/>
<circle cx="53.63" cy="237.98" r="0.85" fill="#ffa500"/>
<circle cx="73.13" cy="222.85" r="0.85" fill="#ff0000"/>
<circle cx="46.83" cy="242.75" r="0.85" fill="#ff0000"/>
<circle cx="128.28" cy="179.65" r="0.85" fill="#800080"/>
<circle cx="125.46" cy="181.91" r="0.85" fill="#ffa500"/>
<circle cx="83.04" cy="214.91" r="0.85" fill="#ffa500"/>
<circle cx="84" cy="214.39" r="0.85" fill="#008000"/>
<circle cx="128.1" cy="179.16" r="0.85" fill="#008000"/>
<circle cx="116.91" cy="187.99" r="0.85" fill="#ffff00"/>
<circle cx="92.08" cy="206.7" r="0.85" fill="#800080"/>
<circle cx="106.71" cy="196.32" r="0.85" fill="#0000ff"/>
<circle cx="101.6" cy="200.38" r="0.85" fill="#800080"/>
<circle cx="69" cy="225.84" r="0.85" fill="#800080"/>
<circle cx="71.76" cy="223.66" r="0.85" fill="#800080"/>
<circle cx="141" cy="168.2" r="1.0" fill="#0000ff"/>
<circle cx="100.19" cy="201.14" r="0.85" fill="#800080"/>
<circle cx="116.27" cy="188.83" r="0.85" fill="#800080"/>
<circle cx="101.89" cy="199.37" r="0.85" fill="#ff0000"/>
<circle cx="58.83" cy="234.23" r="0.85" fill="#ff0000"/>
<circle cx="52.2" cy="239.25" r="0.85" fill="#800080"/>
<circle cx="105.52" cy="197.93" r="0.85" fill="#800080"/>
<circle cx="107.79" cy="196.12" r="0.85" fill="#008000"/>
<circle cx="107.73" cy="196.43" r="0.85" fill="#ff0000"/>
<circle cx="75.93" cy="219.6" r="0.85" fill="#ffa500"/>
<circle cx="53.35" cy="237.56" r="0.85" fill="#ff0000"/>
<circle cx="52.93" cy="238.76" r="0.85" fill="#800080"/>
<circle cx="122.32" cy="185.23" r="0.85" fill="#0000ff"/>
<circle cx="52.02" cy="239.13" r="0.85" fill="#008000"/>
<circle cx="105.97" cy="197.43" r="0.85" fill="#ff0000"/>
<circle cx="119.64" cy="186.02" r="0.85" fill="#800080"/>
<circle cx="88.79" cy="210.85" r="0.85" fill="#0000ff"/>
<circle cx="114.46" cy="190.32" r="0.85" fill="#ffa500"/>
<circle cx="96.67" cy="204.38" r="0.85" fill="#ffff00"/>
<circle cx="61.69" cy="231.25" r="0.85" fill="#0000ff"/>
<circle cx="111.65" cy="192.61" r="0.85" fill="#ffa500"/>
<circle cx="63.53" cy="230.11" r="0.85" fill="#800080"/>
<circle cx="120.53" cy="186.14" r="0.85" fill="#800080"/>
<circle cx="87" cy="211.61" r="0.85" fill="#008000"/>
<circle cx="117.11" cy="188.48" r="0.85" fill="#800080"/>
<circle cx="127.22" cy="180.58" r="0.85" fill="#ff0000"/>
<circle cx="95.51" cy="205.04" r="0.85" fill="#ff0000"/>
<circle cx="111.26" cy="192.77" r="0.85" fill="#008000"/>
<circle cx="92.66" cy="207.02" r="0.85" fill="#ffff00"/>
<circle cx="74.88" cy="221.88" r="0.85" fill="#800080"/>
<circle cx="119.7" cy="186.28" r="0.85" fill="#800080"/>
<circle cx="108.8" cy="195.09" r="0.85" fill="#0000ff"/>
<circle cx="145.4" cy="166.6" r="1.0" fill="#0000ff"/>
<circle cx="67.05" cy="227.58" r="0.85" fill="#800080"/>
<circle cx="45.42" cy="243.68" r="0.85" fill="#800080"/>
<circle cx="82.16" cy="215.81" r="0.85" fill="#800080"/>
<circle cx="124.49" cy="182.92" r="0.85" fill="#800080"/>
<circle cx="79.97" cy="216.97" r="0.85" fill="#ffa500"/>
<circle cx="80.09" cy="216.69" r="0.85" fill="#ff0000"/>
<circle cx="121.95" cy="185.55" r="0.85" fill="#ffa500"/>
<circle cx="106.17" cy="196.93" r="0.85" fill="#ffff00"/>
<circle cx="119.35" cy="185.98" r="0.85" fill="#0000ff"/>
<circle cx="48.22" cy="241.86" r="0.85" fill="#ffa500"/>
<circle cx="115.94" cy="189.82" r="0.85" fill="#ffa500"/>
<circle cx="47.41" cy="242.87" r="0.85" fill="#008000"/>
<circle cx="75.59" cy="221.07" r="0.85" fill="#ff0000"/>
<circle cx="57.09" cy="234.91" r="0.85" fill="#800080"/>
<circle cx="116.21" cy="188.86" r="0.85" fill="#ffff00"/>
<circle cx="125.59" cy="181.59" r="0.85" fill="#800080"/>
<circle cx="96.45" cy="204.01" r="0.85" fill="#ffa500"/>
<circle cx="90.02" cy="210.01" r="0.85" fill="#ffa500"/>
<circle cx="117.81" cy="188.5" r="0.85" fill="#800080"/>
<circle cx="121.9" cy="184.74" r="0.85" fill="#0000ff"/>
<circle cx="77.93" cy="218.98" r="0.85" fill="#800080"/>
<circle cx="92.61" cy="207.54" r="0.85" fill="#ff0000"/>
<circle cx="76.88" cy="220.29" r="0.85" fill="#ff0000"/>
<circle cx="122.99" cy="183.54" r="0.85" fill="#800080"/>
<circle cx="120.02" cy="185.45" r="0.85" fill="#008000"/>
<circle cx="106.83" cy="196.25" r="0.85" fill="#ffa500"/>
<circle cx="70.67" cy="224.41" r="0.85" fill="#ff0000"/>
<circle cx="58.48" cy="234.58" r="0.85" fill="#ff0000"/>
<circle cx="82.39" cy="215.37" r="0.85" fill="#ffff00"/>
<circle cx="63.01" cy="230.48" r="0.85" fill="#800080"/>
<circle cx="101.77" cy="200.29" r="0.85" fill="#ff0000"/>
<circle cx="111.87" cy="192.64" r="0.85" fill="#0000ff"/>
<circle cx="116.07" cy="188.87" r="0.85" fill="#ff0000"/>
<circle cx="47.29" cy="241.92" r="0.85" fill="#ffa500"/>
<circle cx="86.8" cy="211.81" r="0.85" fill="#ffa500"/>
<circle cx="124.54" cy="182.31" r="0.85" fill="#008000"/>
<circle cx="101.48" cy="200.21" r="0.85" fill="#008000"/>
<circle cx="89.42" cy="209.82" r="0.85" fill="#ffa500"/>
<circle cx="65.44" cy="228.23" r="0.85" fill="#ff0000"/>
<circle cx="47.23" cy="242.68" r="0.85" fill="#ffa500"/>
<circle cx="128.11" cy="180.26" r="0.85" fill="#0000ff"/>
<circle cx="56.27" cy="235.89" r="0.85" fill="#ff0000"/>
<circle cx="77.12" cy="219" r="0.85" fill="#800080"/>
<circle cx="47.44" cy="242.65" r="0.85" fill="#ff0000"/>
<circle cx="84.27" cy="213.49" r="0.85" fill="#ffa500"/>
<circle cx="70.02" cy="224.46" r="0.85" fill="#0000ff"/>
<circle cx="125.43" cy="182.27" r="0.85" fill="#ffa500"/>
<circle cx="46.83" cy="242.89" r="0.85" fill="#ffa500"/>
<circle cx="127.78" cy="180.28" r="0.85" fill="#800080"/>
<circle cx="52.82" cy="238.59" r="0.85" fill="#ff0000"/>
<circle cx="112.8" cy="191.45" r="0.85" fill="#800080"/>
<circle cx="124.91" cy="181.97" r="0.85" fill="#800080"/>
<circle cx="74.26" cy="222.3" r="0.85" fill="#ffa500"/>
<circle cx="66.59" cy="227.35" r="0.85" fill="#ff0000"/>
<circle cx="96.19" cy="204.68" r="0.85" fill="#800080"/>
<circle cx="121.37" cy="185.19" r="0.85" fill="#0000ff"/>
<circle cx="99.28" cy="202.33" r="0.85" fill="#ffa500"/>
<circle cx="123.74" cy="182.95" r="0.85" fill="#0000ff"/>
<circle cx="54.46" cy="236.4" r="0.85" fill="#800080"/>
<circle cx="97.29" cy="204.02" r="0.85" fill="#ffa500"/>
<circle cx="50.45" cy="239.8" r="0.85" fill="#008000"/>
<circle cx="64.97" cy="228.87" r="0.85" fill="#800080"/>
<circle cx="54.15" cy="237.77" r="0.85" fill="#008000"/>
<circle cx="48" cy="242.41" r="0.85" fill="#800080"/>
<circle cx="59.87" cy="233.3" r="0.85" fill="#ff0000"/>
<circle cx="109.93" cy="194.41" r="0.85" fill="#ffa500"/>
<circle cx="115.8" cy="190.09" r="0.85" fill="#0000ff"/>
<circle cx="48.81" cy="241.39" r="0.85" fill="#ffa500"/>
<circle cx="77.71" cy="218.89" r="0.85" fill="#800080"/>
<circle cx="110.01" cy="193.43" r="0.85" fill="#008000"/>
<circle cx="100.73" cy="200.59" r="0.85" fill="#008000"/>
<circle cx="68.48" cy="226.45" r="0.85" fill="#008000"/>
<circle cx="130.62" cy="178.16" r="0.85" fill="#ff0000"/>
<circle cx="57.94" cy="234.53" r="0.85" fill="#800080"/>
<circle cx="56.45" cy="235.42" r="0.85" fill="#ffa500"/>
<circle cx="97.98" cy="203.54" r="0.85" fill="#800080"/>
<circle cx="47.82" cy="242.25" r="0.85" fill="#800080"/>
<circle cx="113.65" cy="191.03" r="0.85" fill="#ffa500"/>
<circle cx="51.89" cy="239.65" r="0.85" fill="#800080"/>
<circle cx="68.59" cy="226.49" r="0.85" fill="#ffff00"/>
<circle cx="124.99" cy="182.77" r="0.85" fill="#ff0000"/>
<circle cx="46.37" cy="243.78" r="0.85" fill="#ffa500"/>
<circle cx="49.51" cy="240.6" r="0.85" fill="#800080"/>
<circle cx="120.7" cy="185.9" r="0.85" fill="#ffa500"/>
<circle cx="121.89" cy="184.8" r="0.85" fill="#008000"/>
<circle cx="77.34" cy="219.35" r="0.85" fill="#0000ff"/>
<circle cx="67.08" cy="227.44" r="0.85" fill="#ff0000"/>
<circle cx="99.15" cy="202.85" r="0.85" fill="#0000ff"/>
<circle cx="86.97" cy="211.35" r="0.85" fill="#ff0000"/>
<circle cx="65.46" cy="228.42" r="0.85" fill="#ffff00"/>
<circle cx="47.31" cy="243.11" r="0.85" fill="#ff0000"/>
<circle cx="108.94" cy="194.96" r="0.85" fill="#ffff00"/>
<circle cx="115.54" cy="188.99" r="0.85" fill="#800080"/>
<circle cx="113.02" cy="191.91" r="0.85" fill="#ff0000"/>
<circle cx="115.14" cy="190.21" r="0.85" fill="#800080"/>
<circle cx="130.92" cy="177.5" r="0.85" fill="#800080"/>
<circle cx="57.75" cy="234.91" r="0.85" fill="#ff0000"/>
<circle cx="116.66" cy="188.36" r="0.85" fill="#0000ff"/>
<circle cx="99.55" cy="201.8" r="0.85" fill="#ffa500"/>
<circle cx="114.27" cy="190.47" r="0.85" fill="#800080"/>
<circle cx="131.89" cy="177.57" r="0.85" fill="#ffa500"/>
<circle cx="111.66" cy="192.43" r="0.85" fill="#0000ff"/>
<circle cx="49.08" cy="241.14" r="0.85" fill="#ffa500"/>
<circle cx="85.4" cy="213.38" r="0.85" fill="#ffa500"/>
<circle cx="105.03" cy="198.23" r="0.85" fill="#ff0000"/>
<circle cx="65.73" cy="228.56" r="0.85" fill="#ffa500"/>
<circle cx="61.09" cy="231.33" r="0.85" fill="#0000ff"/>
<circle cx="96.04" cy="204.3" r="0.85" fill="#ff0000"/>
<circle cx="61.65" cy="231.11" r="0.85" fill="#0000ff"/>
<circle cx="95.53" cy="205.68" r="0.85" fill="#0000ff"/>
<circle cx="52.38" cy="238.41" r="0.85" fill="#ffa500"/>
<circle cx="105.35" cy="197.65" r="0.85" fill="#ff0000"/>
<circle cx="85.11" cy="213.03" r="0.85" fill="#ff0000"/>
<circle cx="46.08" cy="244.46" r="0.85" fill="#ffa500"/>
<circle cx="103.51" cy="199.01" r="0.85" fill="#800080"/>
<circle cx="129.82" cy="178.4" r="0.85" fill="#ff0000"/>
<circle cx="118.03" cy="187.64" r="0.85" fill="#ff0000"/>
<circle cx="112.33" cy="192.09" r="0.85" fill="#800080"/>
<circle cx="108.82" cy="195.64" r="0.85" fill="#0000ff"/>
<circle cx="77.85" cy="218.53" r="0.85" fill="#800080"/>
<circle cx="78.12" cy="219.74" r="0.85" fill="#ffa500"/>
<circle cx="103.8" cy="199.67" r="0.85" fill="#008000"/>
<circle cx="88.88" cy="211.11" r="0.85" fill="#008000"/>
<circle cx="119.42" cy="186.61" r="0.85" fill="#ff0000"/>
<circle cx="97.06" cy="203.54" r="0.85" fill="#0000ff"/>
<circle cx="39.9" cy="249.4" r="1.0" fill="#0000ff"/>
<circle cx="117.38" cy="188.73" r="0.85" fill="#800080"/>
<circle cx="52.63" cy="238" r="0.85" fill="#ffff00"/>
<circle cx="92.35" cy="207.55" r="0.85" fill="#0000ff"/>
<circle cx="119.84" cy="186.43" r="0.85" fill="#008000"/>
<circle cx="91.14" cy="207.98" r="0.85" fill="#0000ff"/>
<circle cx="88.19" cy="210.31" r="0.85" fill="#ffa500"/>
<circle cx="71.91" cy="223.26" r="0.85" fill="#0000ff"/>
<circle cx="90.72" cy="208.65" r="0.85" fill="#ffa500"/>
<circle cx="62.88" cy="230.66" r="0.85" fill="#ffa500"/>
<circle cx="123.76" cy="183.51" r="0.85" fill="#800080"/>
<circle cx="67.5" cy="226.52" r="0.85" fill="#800080"/>
<circle cx="88.12" cy="211.04" r="0.85" fill="#0000ff"/>
<circle cx="94.13" cy="206.55" r="0.85" fill="#800080"/>
<circle cx="109.88" cy="193.8" r="0.85" fill="#ffff00"/>
<circle cx="103.4" cy="199.44" r="0.85" fill="#0000ff"/>
<circle cx="116.5" cy="188.88" r="0.85" fill="#800080"/>
<circle cx="59.17" cy="232.99" r="0.85" fill="#ff0000"/>
<circle cx="115.26" cy="189.51" r="0.85" fill="#008000"/>
<circle cx="78.73" cy="217.32" r="0.85" fill="#0000ff"/>
<circle cx="69.37" cy="225.25" r="0.85" fill="#ff0000"/>
<circle cx="125.73" cy="182.29" r="0.85" fill="#ff0000"/>
<circle cx="104.58" cy="197.7" r="0.85" fill="#0000ff"/>
<circle cx="105.48" cy="196.88" r="0.85" fill="#0000ff"/>
<circle cx="75.06" cy="221.12" r="0.85" fill="#ffa500"/>
<circle cx="44.7" cy="244.27" r="0.85" fill="#ff0000"/>
<circle cx="118.77" cy="186.88" r="0.85" fill="#ff0000"/>
<circle cx="82.58" cy="214.74" r="0.85" fill="#ffa500"/>
<circle cx="78.43" cy="218.53" r="0.85" fill="#008000"/>
<circle cx="71.05" cy="224.35" r="0.85" fill="#800080"/>
<circle cx="118.37" cy="187.76" r="0.85" fill="#ffa500"/>
<circle cx="104.5" cy="199.29" r="0.85" fill="#ff0000"/>
<circle cx="94.09" cy="206.69" r="0.85" fill="#0000ff"/>
<circle cx="86.13" cy="212.23" r="0.85" fill="#ffa500"/>
<circle cx="71.94" cy="223.45" r="0.85" fill="#ffa500"/>
<circle cx="54.33" cy="237.21" r="0.85" fill="#008000"/>
<circle cx="113.95" cy="191.68" r="0.85" fill="#ffff00"/>
<circle cx="122.93" cy="184.18" r="0.85" fill="#ffa500"/>
<circle cx="62.39" cy="231.2" r="0.85" fill="#ff0000"/>
<circle cx="109.29" cy="195.01" r="0.85" fill="#0000ff"/>
<circle cx="46.35" cy="243.48" r="0.85" fill="#800080"/>
<circle cx="88.12" cy="210.22" r="0.85" fill="#0000ff"/>
<circle cx="49.6" cy="240.78" r="0.85" fill="#800080"/>
<circle cx="76.6" cy="220.64" r="0.85" fill="#008000"/>
<circle cx="59.02" cy="234.34" r="0.85" fill="#800080"/>
<circle cx="100.85" cy="200.84" r="0.85" fill="#ffa500"/>
<circle cx="85.08" cy="213" r="0.85" fill="#008000"/>
<circle cx="100.66" cy="201.61" r="0.85" fill="#ff0000"/>
<circle cx="96.76" cy="204.46" r="0.85" fill="#008000"/>
<circle cx="120.22" cy="185.99" r="0.85" fill="#0000ff"/>
<circle cx="65.19" cy="228.76" r="0.85" fill="#ffa500"/>
<circle cx="69.43" cy="225.52" r="0.85" fill="#ff0000"/>
<circle cx="93.44" cy="206.39" r="0.85" fill="#ffa500"/>
<circle cx="89.91" cy="209.81" r="0.85" fill="#ff0000"/>
<circle cx="101.55" cy="199.94" r="0.85" fill="#800080"/>
<circle cx="111.87" cy="192.71" r="0.85" fill="#ff0000"/>
<circle cx="129.41" cy="178.48" r="0.85" fill="#800080"/>
<circle cx="80.65" cy="216.84" r="0.85" fill="#800080"/>
<circle cx="122.07" cy="184.32" r="0.85" fill="#ff0000"/>
<circle cx="47.73" cy="242.4" r="0.85" fill="#008000"/>
<circle cx="74.65" cy="221.39" r="0.85" fill="#0000ff"/>
<circle cx="61.84" cy="232.01" r="0.85" fill="#008000"/>
<circle cx="70.11" cy="225.13" r="0.85" fill="#800080"/>
<circle cx="61.92" cy="231.64" r="0.85" fill="#ff0000"/>
<circle cx="113.84" cy="190.86" r="0.85" fill="#ff0000"/>
<circle cx="90.76" cy="208.87" r="0.85" fill="#800080"/>
<circle cx="127.43" cy="181.1" r="0.85" fill="#ffa500"/>
<circle cx="105.99" cy="197.1" r="0.85" fill="#0000ff"/>
<circle cx="108.37" cy="196.13" r="0.85" fill="#008000"/>
<circle cx="106.94" cy="196.08" r="0.85" fill="#ff0000"/>
<circle cx="121.33" cy="185.89" r="0.85" fill="#ffff00"/>
<circle cx="85.89" cy="212.59" r="0.85" fill="#800080"/>
<circle cx="73.78" cy="222.14" r="0.85" fill="#ffa500"/>
<circle cx="61.03" cy="232.52" r="0.85" fill="#ffa500"/>
<circle cx="63.52" cy="229.48" r="0.85" fill="#ffff00"/>
<circle cx="79.26" cy="217.63" r="0.85" fill="#ffa500"/>
<circle cx="65.97" cy="229.39" r="0.85" fill="#0000ff"/>
<circle cx="75.86" cy="220.27" r="0.85" fill="#ffa500"/>
<circle cx="65.46" cy="228.53" r="0.85" fill="#ffa500"/>
<circle cx="80.15" cy="216.36" r="0.85" fill="#ffff00"/>
<circle cx="60.24" cy="233.22" r="0.85" fill="#800080"/>
<circle cx="84.09" cy="214.42" r="0.85" fill="#800080"/>
<circle cx="92.94" cy="207.17" r="0.85" fill="#800080"/>
<circle cx="73.58" cy="222.16" r="0.85" fill="#ff0000"/>
<circle cx="46.77" cy="243.32" r="0.85" fill="#ffff00"/>
<circle cx="90.83" cy="208.44" r="0.85" fill="#ffa500"/>
<circle cx="69.31" cy="225.09" r="0.85" fill="#ff0000"/>
<circle cx="71.04" cy="223.61" r="0.85" fill="#ffa500"/>
<circle cx="69.99" cy="224.84" r="0.85" fill="#0000ff"/>
<circle cx="93.8" cy="206.31" r="0.85" fill="#ffa500"/>
<circle cx="71.03" cy="224.27" r="0.85" fill="#0000ff"/>
<circle cx="64.24" cy="229.49" r="0.85" fill="#ff0000"/>
<circle cx="107.92" cy="196.37" r="0.85" fill="#0000ff"/>
<circle cx="51.01" cy="240.18" r="0.85" fill="#ffa500"/>
<circle cx="95.27" cy="205.43" r="0.85" fill="#0000ff"/>
<circle cx="115.44" cy="189.89" r="0.85" fill="#ff0000"/>
<circle cx="77.6" cy="219.11" r="0.85" fill="#800080"/>
<circle cx="92.96" cy="207.03" r="0.85" fill="#ff0000"/>
<circle cx="59.77" cy="232.63" r="0.85" fill="#ff0000"/>
<circle cx="104.68" cy="199.05" r="0.85" fill="#800080"/>
<circle cx="68.58" cy="225.35" r="0.85" fill="#008000"/>
<circle cx="103.31" cy="199.13" r="0.85" fill="#ff0000"/>
<circle cx="116.89" cy="188.38" r="0.85" fill="#0000ff"/>
<circle cx="125.46" cy="182.02" r="0.85" fill="#ff0000"/>
<circle cx="74.78" cy="221.31" r="0.85" fill="#008000"/>
<circle cx="88.03" cy="210.76" r="0.85" fill="#0000ff"/>
<circle cx="82.02" cy="215.22" r="0.85" fill="#ff0000"/>
<circle cx="76.6" cy="219.51" r="0.85" fill="#008000"/>
<circle cx="87.85" cy="211.17" r="0.85" fill="#0000ff"/>
<circle cx="95.67" cy="205.19" r="0.85" fill="#800080"/>
<circle cx="110.05" cy="194.33" r="0.85" fill="#ffff00"/>
<circle cx="100.97" cy="200.94" r="0.85" fill="#008000"/>
<circle cx="118.62" cy="187.6" r="0.85" fill="#ffff00"/>
<circle cx="47.9" cy="242.15" r="0.85" fill="#ff0000"/>
<circle cx="49.37" cy="241.75" r="0.85" fill="#008000"/>
<circle cx="123.97" cy="182.48" r="0.85" fill="#0000ff"/>
<circle cx="86.81" cy="211.97" r="0.85" fill="#ffa500"/>
<circle cx="115.03" cy="190.18" r="0.85" fill="#008000"/>
<circle cx="64.74" cy="229.2" r="0.85" fill="#0000ff"/>
<circle cx="85.19" cy="213.81" r="0.85" fill="#ffff00"/>
<circle cx="77.61" cy="219.39" r="0.85" fill="#0000ff"/>
<circle cx="68.64" cy="225.68" r="0.85" fill="#008000"/>
<circle cx="70.09" cy="224.23" r="0.85" fill="#ffa500"/>
<circle cx="102.66" cy="200.3" r="0.85" fill="#ffa500"/>
<circle cx="78.72" cy="218.39" r="0.85" fill="#008000"/>
<circle cx="79.79" cy="217.55" r="0.85" fill="#ffa500"/>
<circle cx="115.33" cy="188.96" r="0.85" fill="#800080"/>
<circle cx="88.35" cy="210.24" r="0.85" fill="#008000"/>
<circle cx="120.6" cy="185.32" r="0.85" fill="#ff0000"/>
<circle cx="103.82" cy="198.59" r="0.85" fill="#800080"/>
<circle cx="118.06" cy="186.82" r="0.85" fill="#800080"/>
<circle cx="61.36" cy="231.78" r="0.85" fill="#800080"/>
<circle cx="112.77" cy="191.73" r="0.85" fill="#ff0000"/>
<circle cx="96.12" cy="205.01" r="0.85" fill="#0000ff"/>
<circle cx="98.57" cy="202.43" r="0.85" fill="#800080"/>
<circle cx="130.22" cy="178.34" r="0.85" fill="#0000ff"/>
<circle cx="131.87" cy="176.22" r="0.85" fill="#ffa500"/>
<circle cx="113.77" cy="191.44" r="0.85" fill="#ffa500"/>
<circle cx="75.97" cy="220.4" r="0.85" fill="#008000"/>
<circle cx="55.78" cy="235.64" r="0.85" fill="#ffa500"/>
<circle cx="109.08" cy="194.49" r="0.85" fill="#0000ff"/>
<circle cx="54.92" cy="237.12" r="0.85" fill="#0000ff"/>
<circle cx="69.3" cy="224.52" r="0.85" fill="#008000"/>
<circle cx="82.33" cy="215.6" r="0.85" fill="#0000ff"/>
<circle cx="53.37" cy="238.09" r="0.85" fill="#ffa500"/>
<circle cx="65.65" cy="227.87" r="0.85" fill="#0000ff"/>
<circle cx="94.63" cy="205.35" r="0.85" fill="#ffa500"/>
<circle cx="116.16" cy="189.4" r="0.85" fill="#008000"/>
<circle cx="115.61" cy="190.31" r="0.85" fill="#ffa500"/>
<circle cx="45.41" cy="244.59" r="0.85" fill="#ff0000"/>
<circle cx="111.75" cy="192.2" r="0.85" fill="#ff0000"/>
<circle cx="131.28" cy="177.35" r="0.85" fill="#008000"/>
<circle cx="87.96" cy="211.25" r="0.85" fill="#008000"/>
<circle cx="94.49" cy="206.2" r="0.85" fill="#ffff00"/>
<circle cx="136.8" cy="172.4" r="1.0" fill="#800080"/>
<circle cx="95.61" cy="205.09" r="0.85" fill="#008000"/>
<circle cx="100.22" cy="201.48" r="0.85" fill="#ffa500"/>
<circle cx="125.24" cy="181.8" r="0.85" fill="#800080"/>
<circle cx="84.8" cy="213.92" r="0.85" fill="#800080"/>
<circle cx="109.44" cy="194.85" r="0.85" fill="#ffa500"/>
<circle cx="92.4" cy="207.52" r="0.85" fill="#800080"/>
<circle cx="62.62" cy="230.77" r="0.85" fill="#ffa500"/>
<circle cx="96.53" cy="204.3" r="0.85" fill="#800080"/>
<circle cx="82.95" cy="215.38" r="0.85" fill="#ff0000"/>
<circle cx="118.73" cy="187.36" r="0.85" fill="#ff0000"/>
<circle cx="125.17" cy="182.53" r="0.85" fill="#008000"/>
<circle cx="70.14" cy="226.13" r="0.85" fill="#800080"/>
<circle cx="72.52" cy="222.93" r="0.85" fill="#ff0000"/>
<circle cx="119.02" cy="186.67" r="0.85" fill="#ffa500"/>
<circle cx="36.4" cy="251.4" r="1.0" fill="#0000ff"/>
<circle cx="117.76" cy="188.04" r="0.85" fill="#ff0000"/>
<circle cx="115.97" cy="189.39" r="0.85" fill="#ff0000"/>
<circle cx="131.56" cy="176.97" r="0.85" fill="#ffa500"/>
<circle cx="63.6" cy="229.79" r="0.85" fill="#ff0000"/>
<circle cx="95.93" cy="205.2" r="0.85" fill="#ff0000"/>
<circle cx="47.78" cy="242.28" r="0.85" fill="#800080"/>
<circle cx="68.7" cy="226.82" r="0.85" fill="#800080"/>
<circle cx="50.04" cy="240.62" r="0.85" fill="#ff0000"/>
<circle cx="87.65" cy="210.92" r="0.85" fill="#ffa500"/>
<circle cx="53.65" cy="237.56" r="0.85" fill="#ff0000"/>
<circle cx="117.11" cy="189.16" r="0.85" fill="#0000ff"/>
<circle cx="89.01" cy="209.87" r="0.85" fill="#ff0000"/>
<circle cx="48.9" cy="241.53" r="0.85" fill="#ff0000"/>
<circle cx="106.95" cy="195.49" r="0.85" fill="#ffa500"/>
<circle cx="45.73" cy="243.58" r="0.85" fill="#800080"/>
<circle cx="97.23" cy="203.82" r="0.85" fill="#800080"/>
<circle cx="102.39" cy="200.45" r="0.85" fill="#008000"/>
<circle cx="118.59" cy="187.18" r="0.85" fill="#0000ff"/>
<circle cx="72.95" cy="222.28" r="0.85" fill="#ff0000"/>
<circle cx="52.74" cy="238.78" r="0.85" fill="#ffa500"/>
<circle cx="78.24" cy="218.98" r="0.85" fill="#800080"/>
<circle cx="96" cy="204.7" r="0.85" fill="#ffa500"/>
<circle cx="113.62" cy="191.17" r="0.85" fill="#ffa500"/>
<circle cx="119.04" cy="186.99" r="0.85" fill="#0000ff"/>
<circle cx="58.53" cy="233.87" r="0.85" fill="#ffa500"/>
<circle cx="57.81" cy="234.85" r="0.85" fill="#ffff00"/>
<circle cx="74.56" cy="220.9" r="0.85" fill="#ffa500"/>
<circle cx="123.13" cy="183.66" r="0.85" fill="#800080"/>
<circle cx="74.14" cy="222.4" r="0.85" fill="#ffa500"/>
<circle cx="77.28" cy="219.64" r="0.85" fill="#ff0000"/>
<circle cx="95.84" cy="203.91" r="0.85" fill="#800080"/>
<circle cx="87.66" cy="211.68" r="0.85" fill="#008000"/>
<circle cx="81.79" cy="216.19" r="0.85" fill="#0000ff"/>
<circle cx="128.48" cy="179.84" r="0.85" fill="#008000"/>
<circle cx="63.41" cy="230.6" r="0.85" fill="#ffa500"/>
<circle cx="91.02" cy="209.06" r="0.85" fill="#008000"/>
<circle cx="71.86" cy="223.28" r="0.85" fill="#0000ff"/>
<circle cx="96.61" cy="204.18" r="0.85" fill="#ffff00"/>
<circle cx="92.82" cy="207.58" r="0.85" fill="#800080"/>
<circle cx="103.16" cy="199.77" r="0.85" fill="#800080"/>
<circle cx="124.28" cy="183.34" r="0.85" fill="#008000"/>
<circle cx="86.22" cy="212.08" r="0.85" fill="#ffa500"/>
<circle cx="111.81" cy="192.67" r="0.85" fill="#ff0000"/>
<circle cx="103.6" cy="199.83" r="0.85" fill="#ff0000"/>
<circle cx="117.23" cy="188.2" r="0.85" fill="#800080"/>
<circle cx="84.52" cy="213.75" r="0.85" fill="#ff0000"/>
<circle cx="54.07" cy="237.41" r="0.85" fill="#ffa500"/>
<circle cx="109.31" cy="194.66" r="0.85" fill="#0000ff"/>
<circle cx="62.67" cy="230.22" r="0.85" fill="#800080"/>
<circle cx="80.49" cy="216.75" r="0.85" fill="#ffa500"/>
<circle cx="116.45" cy="189.09" r="0.85" fill="#ffa500"/>
<circle cx="121.88" cy="184.98" r="0.85" fill="#ffa500"/>
<circle cx="109.35" cy="194.64" r="0.85" fill="#0000ff"/>
<circle cx="87.87" cy="210.77" r="0.85" fill="#ff0000"/>
<circle cx="51.38" cy="239.4" r="0.85" fill="#0000ff"/>
<circle cx="46.19" cy="243" r="0.85" fill="#ff0000"/>
<circle cx="70.61" cy="224.64" r="0.85" fill="#800080"/>
<circle cx="122.17" cy="184.58" r="0.85" fill="#008000"/>
<circle cx="80.35" cy="216.94" r="0.85" fill="#800080"/>
<circle cx="58.94" cy="233.94" r="0.85" fill="#0000ff"/>
<circle cx="53.05" cy="238.24" r="0.85" fill="#ff0000"/>
<circle cx="45.13" cy="244.3" r="0.85" fill="#0000ff"/>
<circle cx="123.99" cy="183.05" r="0.85" fill="#800080"/>
<circle cx="86.53" cy="212.29" r="0.85" fill="#800080"/>
<circle cx="62.95" cy="230.81" r="0.85" fill="#ff0000"/>
<circle cx="107.24" cy="196.1" r="0.85" fill="#0000ff"/>
<circle cx="93.9" cy="206.05" r="0.85" fill="#ff0000"/>
<circle cx="45.79" cy="243.94" r="0.85" fill="#ffa500"/>
<circle cx="147.4" cy="165.4" r="1.0" fill="#008000"/>
<circle cx="99.58" cy="201.74" r="0.85" fill="#008000"/>
<circle cx="102.3" cy="199.82" r="0.85" fill="#800080"/>
<circle cx="79.23" cy="217.65" r="0.85" fill="#008000"/>
<circle cx="74.22" cy="222.05" r="0.85" fill="#ff0000"/>
<circle cx="129.99" cy="178.11" r="0.85" fill="#008000"/>
<circle cx="54.87" cy="236.64" r="0.85" fill="#0000ff"/>
<circle cx="84.64" cy="213.79" r="0.85" fill="#ffa500"/>
<circle cx="91.06" cy="208.64" r="0.85" fill="#0000ff"/>
<circle cx="109.32" cy="193.63" r="0.85" fill="#800080"/>
<circle cx="66.1" cy="228.01" r="0.85" fill="#800080"/>
<circle cx="83.31" cy="214.99" r="0.85" fill="#0000ff"/>
<circle cx="103.57" cy="199.31" r="0.85" fill="#0000ff"/>
<circle cx="101.44" cy="200.68" r="0.85" fill="#0000ff"/>
<circle cx="59.43" cy="233.3" r="0.85" fill="#ff0000"/>
<circle cx="93.27" cy="206.89" r="0.85" fill="#ff0000"/>
<circle cx="132.04" cy="176.68" r="0.85" fill="#ffff00"/>
<circle cx="128.13" cy="180.57" r="0.85" fill="#ffa500"/>
<circle cx="62.14" cy="231.95" r="0.85" fill="#ff0000"/>
<circle cx="98.25" cy="203.86" r="0.85" fill="#800080"/>
<circle cx="97.04" cy="204.26" r="0.85" fill="#ff0000"/>
<circle cx="64.3" cy="229.91" r="0.85" fill="#008000"/>
<circle cx="148.6" cy="163.8" r="1.0" fill="#ff0000"/>
<circle cx="117.46" cy="188.39" r="0.85" fill="#ff0000"/>
<circle cx="107.38" cy="195.81" r="0.85" fill="#ffff00"/>
<circle cx="87.13" cy="212.54" r="0.85" fill="#ff0000"/>
<circle cx="87.45" cy="211.12" r="0.85" fill="#800080"/>
<circle cx="78.05" cy="218.25" r="0.85" fill="#ffa500"/>
<rect x="25.4" y="159" width="129.4" height="100.4" fill="none" stroke="#b4b4b4" stroke-width="0.75"/>
<line x1="31.5" y1="259.4" x2="31.5" y2="260.6" stroke="#999" stroke-width="0.4"/>
<text x="31.5" y="265" class="tk" text-anchor="middle">0.0</text>
<line x1="24.2" y1="255" x2="25.4" y2="255" stroke="#999" stroke-width="0.4"/>
<text x="23.6" y="256.6" class="tk" text-anchor="end">0.0</text>
<line x1="54.92" y1="259.4" x2="54.92" y2="260.6" stroke="#999" stroke-width="0.4"/>
<text x="54.92" y="265" class="tk" text-anchor="middle">0.2</text>
<line x1="24.2" y1="236.8" x2="25.4" y2="236.8" stroke="#999" stroke-width="0.4"/>
<text x="23.6" y="238.4" class="tk" text-anchor="end">0.2</text>
<line x1="78.34" y1="259.4" x2="78.34" y2="260.6" stroke="#999" stroke-width="0.4"/>
<text x="78.34" y="265" class="tk" text-anchor="middle">0.4</text>
<line x1="24.2" y1="218.6" x2="25.4" y2="218.6" stroke="#999" stroke-width="0.4"/>
<text x="23.6" y="220.2" class="tk" text-anchor="end">0.4</text>
<line x1="101.76" y1="259.4" x2="101.76" y2="260.6" stroke="#999" stroke-width="0.4"/>
<text x="101.76" y="265" class="tk" text-anchor="middle">0.6</text>
<line x1="24.2" y1="200.4" x2="25.4" y2="200.4" stroke="#999" stroke-width="0.4"/>
<text x="23.6" y="202" class="tk" text-anchor="end">0.6</text>
<line x1="125.18" y1="259.4" x2="125.18" y2="260.6" stroke="#999" stroke-width="0.4"/>
<text x="125.18" y="265" class="tk" text-anchor="middle">0.8</text>
<line x1="24.2" y1="182.2" x2="25.4" y2="182.2" stroke="#999" stroke-width="0.4"/>
<text x="23.6" y="183.8" class="tk" text-anchor="end">0.8</text>
<line x1="148.6" y1="259.4" x2="148.6" y2="260.6" stroke="#999" stroke-width="0.4"/>
<text x="148.6" y="265" class="tk" text-anchor="middle">1.0</text>
<line x1="24.2" y1="164" x2="25.4" y2="164" stroke="#999" stroke-width="0.4"/>
<text x="23.6" y="165.6" class="tk" text-anchor="end">1.0</text>
<text x="90.1" y="271.3" class="lb" text-anchor="middle">Normalized Actual Stress <tspan font-style="italic">σ</tspan><tspan font-size="3.7" dy="1.3">2</tspan></text>
<text transform="translate(14,209.95) rotate(-90)" class="lb" text-anchor="middle">Normalized Predicted Stress <tspan font-style="italic">σ</tspan><tspan font-size="3.7" dy="1.3">2</tspan></text>
<rect x="34.5" y="162.4" width="1.6" height="1.6" fill="#ff0000"/>
<text x="43.7" y="165.1" class="lg">Asp1:2</text>
<rect x="34.5" y="169.15" width="1.6" height="1.6" fill="#008000"/>
<text x="43.7" y="171.85" class="lg">Asp1:4</text>
<rect x="34.5" y="175.9" width="1.6" height="1.6" fill="#ffa500"/>
<text x="43.7" y="178.6" class="lg">Asp1:6</text>
<rect x="34.5" y="182.65" width="1.6" height="1.6" fill="#800080"/>
<text x="43.7" y="185.35" class="lg">Asp1:8</text>
<rect x="34.5" y="189.4" width="1.6" height="1.6" fill="#0000ff"/>
<text x="43.7" y="192.1" class="lg">gg</text>
<rect x="34.5" y="196.15" width="1.6" height="1.6" fill="#ffff00"/>
<text x="43.7" y="198.85" class="lg">Voronoi</text>
<text y="240.9" class="tx"><tspan x="108" font-style="italic">R</tspan><tspan x="112.3" y="239.4" font-size="3.8">2</tspan><tspan x="116" y="240.9">=</tspan><tspan x="120.4" textLength="17.2" lengthAdjust="spacingAndGlyphs">0.9993</tspan></text>
<text y="250.1" class="tx"><tspan x="108" textLength="14" lengthAdjust="spacingAndGlyphs">RMSE</tspan><tspan x="123.2">=</tspan><tspan x="128" textLength="18" lengthAdjust="spacingAndGlyphs">0.0038</tspan></text>
<text x="82.2" y="288.3" class="cap b" text-anchor="middle" style='font-family:"Liberation Serif", serif'><tspan font-weight="normal" stroke-width="0">(</tspan>d<tspan font-weight="normal" stroke-width="0">)</tspan></text>
<line x1="239.12" y1="243.03" x2="342.42" y2="163.02" stroke="#2a2a2a" stroke-width="0.55"/>
<circle cx="297.15" cy="197.64" r="1.0" fill="#800080"/>
<circle cx="286.73" cy="207.92" r="1.0" fill="#0000ff"/>
<circle cx="239.6" cy="225" r="1.0" fill="#0000ff"/>
<circle cx="305.27" cy="192.14" r="1.0" fill="#008000"/>
<circle cx="252.08" cy="234.75" r="1.0" fill="#008000"/>
<circle cx="293.45" cy="201.99" r="1.0" fill="#008000"/>
<circle cx="280.49" cy="209.69" r="1.0" fill="#ffa500"/>
<circle cx="253.7" cy="231" r="1.0" fill="#ff0000"/>
<circle cx="278.63" cy="212.3" r="1.0" fill="#ff0000"/>
<circle cx="307.41" cy="193.27" r="1.0" fill="#ff0000"/>
<circle cx="283.83" cy="215.42" r="1.0" fill="#ffa500"/>
<circle cx="294.94" cy="201.66" r="1.0" fill="#ffff00"/>
<circle cx="266.82" cy="222.39" r="1.0" fill="#008000"/>
<circle cx="267.5" cy="217.2" r="1.0" fill="#800080"/>
<circle cx="292.6" cy="201.56" r="1.0" fill="#ff0000"/>
<circle cx="247.7" cy="228.9" r="1.0" fill="#0000ff"/>
<circle cx="274.04" cy="212.59" r="1.0" fill="#0000ff"/>
<circle cx="263.83" cy="222.4" r="1.0" fill="#800080"/>
<circle cx="307.25" cy="190.56" r="1.0" fill="#800080"/>
<circle cx="253.75" cy="223.74" r="1.0" fill="#ffff00"/>
<circle cx="289.15" cy="205.93" r="1.0" fill="#ff0000"/>
<circle cx="302.75" cy="192.94" r="1.0" fill="#800080"/>
<circle cx="280.5" cy="205.1" r="1.0" fill="#ffff00"/>
<circle cx="285.58" cy="208.53" r="1.0" fill="#ff0000"/>
<circle cx="297.71" cy="199.05" r="1.0" fill="#008000"/>
<circle cx="309.34" cy="185.27" r="1.0" fill="#ffa500"/>
<circle cx="309.48" cy="187.7" r="1.0" fill="#ff0000"/>
<circle cx="249.7" cy="235.1" r="1.0" fill="#ff0000"/>
<circle cx="252.78" cy="233.09" r="1.0" fill="#800080"/>
<circle cx="304.66" cy="193.3" r="1.0" fill="#ffa500"/>
<circle cx="251.53" cy="236.44" r="1.0" fill="#ff0000"/>
<circle cx="275.7" cy="208.3" r="1.0" fill="#0000ff"/>
<circle cx="287.46" cy="205.64" r="1.0" fill="#800080"/>
<circle cx="295.08" cy="200.06" r="1.0" fill="#ffff00"/>
<circle cx="265.59" cy="222.24" r="1.0" fill="#ff0000"/>
<circle cx="323.2" cy="201" r="1.0" fill="#0000ff"/>
<circle cx="260.32" cy="227.18" r="1.0" fill="#800080"/>
<circle cx="256.86" cy="229.4" r="1.0" fill="#ff0000"/>
<circle cx="285.94" cy="208.63" r="1.0" fill="#ffff00"/>
<circle cx="299.8" cy="196.95" r="1.0" fill="#ffff00"/>
<circle cx="256.2" cy="220.5" r="1.0" fill="#ffff00"/>
<circle cx="260.74" cy="225.74" r="1.0" fill="#ffff00"/>
<circle cx="303.41" cy="196.14" r="1.0" fill="#ffff00"/>
<circle cx="259.6" cy="230.89" r="1.0" fill="#ff0000"/>
<circle cx="248.81" cy="235.44" r="1.0" fill="#008000"/>
<circle cx="288.51" cy="207.28" r="1.0" fill="#ff0000"/>
<circle cx="257.76" cy="232.08" r="1.0" fill="#ff0000"/>
<circle cx="267.27" cy="221" r="1.0" fill="#ff0000"/>
<circle cx="260.89" cy="224.23" r="1.0" fill="#ffff00"/>
<circle cx="282.9" cy="201.9" r="1.0" fill="#0000ff"/>
<circle cx="274" cy="222.1" r="1.0" fill="#0000ff"/>
<circle cx="299.43" cy="197.37" r="1.0" fill="#0000ff"/>
<circle cx="277.39" cy="215.39" r="1.0" fill="#ff0000"/>
<circle cx="275.55" cy="213.44" r="1.0" fill="#008000"/>
<circle cx="301.5" cy="193.56" r="1.0" fill="#ffa500"/>
<circle cx="272.47" cy="218.71" r="1.0" fill="#ffa500"/>
<circle cx="288.79" cy="205.53" r="1.0" fill="#800080"/>
<circle cx="253.4" cy="226.2" r="1.0" fill="#ffff00"/>
<circle cx="269.28" cy="219.55" r="1.0" fill="#ff0000"/>
<circle cx="310.61" cy="186.72" r="1.0" fill="#ffff00"/>
<circle cx="248.35" cy="235.68" r="1.0" fill="#ffff00"/>
<circle cx="272.4" cy="205.9" r="1.0" fill="#0000ff"/>
<circle cx="254.72" cy="228.45" r="1.0" fill="#008000"/>
<circle cx="289.27" cy="204.96" r="1.0" fill="#ffa500"/>
<circle cx="259.46" cy="227.63" r="1.0" fill="#ff0000"/>
<circle cx="258.87" cy="225.34" r="1.0" fill="#800080"/>
<circle cx="325.1" cy="197" r="1.0" fill="#800080"/>
<circle cx="286.43" cy="207.84" r="1.0" fill="#ffa500"/>
<circle cx="298.38" cy="189.89" r="1.0" fill="#ffff00"/>
<circle cx="281.62" cy="213.04" r="1.0" fill="#ff0000"/>
<circle cx="250.5" cy="227.8" r="1.0" fill="#0000ff"/>
<circle cx="308.55" cy="193.78" r="1.0" fill="#ffa500"/>
<circle cx="291.13" cy="203.87" r="1.0" fill="#ffa500"/>
<circle cx="287.37" cy="203.61" r="1.0" fill="#800080"/>
<circle cx="306.45" cy="194.46" r="1.0" fill="#ffff00"/>
<circle cx="289.04" cy="196.89" r="1.0" fill="#ff0000"/>
<circle cx="292.13" cy="203.56" r="1.0" fill="#ffa500"/>
<circle cx="267.13" cy="220.41" r="1.0" fill="#008000"/>
<circle cx="300.28" cy="196.25" r="1.0" fill="#800080"/>
<circle cx="261.9" cy="224.5" r="1.0" fill="#ff0000"/>
<circle cx="271.47" cy="217.4" r="1.0" fill="#ffa500"/>
<circle cx="291.1" cy="201.84" r="1.0" fill="#ff0000"/>
<circle cx="272.79" cy="220.38" r="1.0" fill="#0000ff"/>
<circle cx="256.48" cy="230.44" r="1.0" fill="#ffa500"/>
<circle cx="308.69" cy="189.36" r="1.0" fill="#ff0000"/>
<circle cx="278.23" cy="212.12" r="1.0" fill="#008000"/>
<circle cx="283.53" cy="209.33" r="1.0" fill="#800080"/>
<circle cx="299.34" cy="187.65" r="1.0" fill="#ffa500"/>
<circle cx="252.84" cy="233.87" r="1.0" fill="#008000"/>
<circle cx="293.92" cy="208.72" r="1.0" fill="#ff0000"/>
<circle cx="265.46" cy="223.37" r="1.0" fill="#ffa500"/>
<circle cx="292.92" cy="198.27" r="1.0" fill="#ffa500"/>
<circle cx="254.29" cy="233.84" r="1.0" fill="#ffa500"/>
<circle cx="274.44" cy="218.09" r="1.0" fill="#800080"/>
<circle cx="279" cy="212.34" r="1.0" fill="#008000"/>
<circle cx="267.33" cy="219.33" r="1.0" fill="#800080"/>
<circle cx="294.14" cy="194.79" r="1.0" fill="#ffff00"/>
<circle cx="258.75" cy="227.62" r="1.0" fill="#ffff00"/>
<circle cx="325.1" cy="187.7" r="1.0" fill="#ffff00"/>
<circle cx="265.08" cy="222.61" r="1.0" fill="#008000"/>
<circle cx="282.49" cy="209.98" r="1.0" fill="#ff0000"/>
<circle cx="299.1" cy="192.9" r="1.0" fill="#0000ff"/>
<circle cx="302.44" cy="199.15" r="1.0" fill="#ff0000"/>
<circle cx="309.6" cy="187.93" r="1.0" fill="#008000"/>
<circle cx="284.44" cy="210.19" r="1.0" fill="#ffa500"/>
<circle cx="257.8" cy="218.9" r="1.0" fill="#800080"/>
<circle cx="304.23" cy="192.18" r="1.0" fill="#800080"/>
<circle cx="309.94" cy="188.41" r="1.0" fill="#ffa500"/>
<circle cx="279.67" cy="208.83" r="1.0" fill="#ffa500"/>
<circle cx="277.5" cy="212.74" r="1.0" fill="#008000"/>
<circle cx="288.24" cy="206.08" r="1.0" fill="#ffff00"/>
<circle cx="257.35" cy="225.22" r="1.0" fill="#ff0000"/>
<circle cx="259.28" cy="232.85" r="1.0" fill="#800080"/>
<circle cx="263.2" cy="201" r="1.0" fill="#0000ff"/>
<circle cx="275.87" cy="210.94" r="1.0" fill="#008000"/>
<circle cx="286.17" cy="203.51" r="1.0" fill="#ff0000"/>
<circle cx="308" cy="197.8" r="1.0" fill="#0000ff"/>
<circle cx="304.8" cy="205.9" r="1.0" fill="#ffff00"/>
<circle cx="285.46" cy="206.36" r="1.0" fill="#800080"/>
<circle cx="302.91" cy="190.31" r="1.0" fill="#800080"/>
<circle cx="255" cy="214.8" r="1.0" fill="#0000ff"/>
<circle cx="263.37" cy="222.98" r="1.0" fill="#ffff00"/>
<circle cx="263.86" cy="222.19" r="1.0" fill="#800080"/>
<circle cx="254.59" cy="228.19" r="1.0" fill="#800080"/>
<circle cx="280.35" cy="212.2" r="1.0" fill="#ff0000"/>
<circle cx="265.31" cy="221.85" r="1.0" fill="#ffff00"/>
<circle cx="310.3" cy="186.95" r="1.0" fill="#008000"/>
<circle cx="291.64" cy="204.53" r="1.0" fill="#0000ff"/>
<circle cx="257.43" cy="229.9" r="1.0" fill="#ff0000"/>
<circle cx="275.7" cy="216.33" r="1.0" fill="#800080"/>
<circle cx="283.4" cy="209.5" r="1.0" fill="#800080"/>
<circle cx="255.3" cy="229.7" r="1.0" fill="#ffff00"/>
<circle cx="308.65" cy="187.9" r="1.0" fill="#ff0000"/>
<circle cx="300.24" cy="197.05" r="1.0" fill="#ff0000"/>
<circle cx="292.52" cy="204.2" r="1.0" fill="#ff0000"/>
<circle cx="279.5" cy="212.6" r="1.0" fill="#ff0000"/>
<circle cx="274.13" cy="216.38" r="1.0" fill="#ffff00"/>
<circle cx="303.54" cy="191.73" r="1.0" fill="#800080"/>
<circle cx="276.5" cy="207.8" r="1.0" fill="#ff0000"/>
<circle cx="281.24" cy="210.08" r="1.0" fill="#800080"/>
<circle cx="276.06" cy="215.43" r="1.0" fill="#ffa500"/>
<circle cx="292.94" cy="200.47" r="1.0" fill="#ff0000"/>
<circle cx="304" cy="199.4" r="1.0" fill="#0000ff"/>
<circle cx="290.89" cy="204.1" r="1.0" fill="#0000ff"/>
<circle cx="264.74" cy="227.5" r="1.0" fill="#ffa500"/>
<circle cx="276.15" cy="216.68" r="1.0" fill="#008000"/>
<circle cx="330.3" cy="171.8" r="1.0" fill="#ffa500"/>
<circle cx="283.45" cy="210.59" r="1.0" fill="#800080"/>
<circle cx="326.7" cy="183.7" r="1.0" fill="#ff0000"/>
<circle cx="290.92" cy="202.15" r="1.0" fill="#ffa500"/>
<circle cx="282.08" cy="216.4" r="1.0" fill="#ffa500"/>
<circle cx="286.38" cy="207.96" r="1.0" fill="#ffff00"/>
<circle cx="269.95" cy="219.53" r="1.0" fill="#ff0000"/>
<circle cx="244" cy="240.8" r="1.0" fill="#ff0000"/>
<circle cx="287.61" cy="206.94" r="1.0" fill="#ff0000"/>
<circle cx="288.82" cy="201.96" r="1.0" fill="#800080"/>
<circle cx="266.57" cy="223.01" r="1.0" fill="#800080"/>
<circle cx="274.37" cy="209.43" r="1.0" fill="#ffa500"/>
<circle cx="259.4" cy="231" r="1.0" fill="#0000ff"/>
<circle cx="277.1" cy="215.97" r="1.0" fill="#800080"/>
<circle cx="282.76" cy="210.42" r="1.0" fill="#008000"/>
<circle cx="261.08" cy="226.48" r="1.0" fill="#008000"/>
<circle cx="279" cy="210.69" r="1.0" fill="#ff0000"/>
<circle cx="303.54" cy="194.19" r="1.0" fill="#ff0000"/>
<circle cx="268.5" cy="213.73" r="1.0" fill="#ff0000"/>
<circle cx="322.7" cy="178.8" r="1.0" fill="#800080"/>
<circle cx="263.47" cy="224.29" r="1.0" fill="#ff0000"/>
<circle cx="293.35" cy="201.34" r="1.0" fill="#ffff00"/>
<circle cx="290.56" cy="205.75" r="1.0" fill="#800080"/>
<circle cx="282.1" cy="206.51" r="1.0" fill="#008000"/>
<circle cx="256.57" cy="236.43" r="1.0" fill="#800080"/>
<circle cx="248.9" cy="219.7" r="1.0" fill="#ffff00"/>
<circle cx="275.83" cy="217.22" r="1.0" fill="#800080"/>
<circle cx="313.5" cy="185.54" r="1.0" fill="#ff0000"/>
<circle cx="275.09" cy="214.55" r="1.0" fill="#800080"/>
<circle cx="331.9" cy="171.8" r="1.0" fill="#008000"/>
<circle cx="287.9" cy="206.09" r="1.0" fill="#ffff00"/>
<circle cx="298.62" cy="195.71" r="1.0" fill="#008000"/>
<circle cx="274.58" cy="215.16" r="1.0" fill="#800080"/>
<circle cx="260" cy="227.94" r="1.0" fill="#800080"/>
<circle cx="265.01" cy="223.93" r="1.0" fill="#008000"/>
<circle cx="300.09" cy="193.21" r="1.0" fill="#008000"/>
<circle cx="256.45" cy="226.9" r="1.0" fill="#ffff00"/>
<circle cx="280.31" cy="210.61" r="1.0" fill="#ffa500"/>
<circle cx="279.09" cy="210.73" r="1.0" fill="#ffa500"/>
<circle cx="262.03" cy="224.22" r="1.0" fill="#ffa500"/>
<circle cx="265.1" cy="212.4" r="1.0" fill="#0000ff"/>
<circle cx="260.6" cy="208.8" r="1.0" fill="#0000ff"/>
<circle cx="269.2" cy="211.5" r="1.0" fill="#0000ff"/>
<circle cx="291.09" cy="204.05" r="1.0" fill="#ffff00"/>
<circle cx="288.87" cy="204.74" r="1.0" fill="#ffa500"/>
<circle cx="281.4" cy="213.11" r="1.0" fill="#ff0000"/>
<circle cx="282.61" cy="207.72" r="1.0" fill="#0000ff"/>
<circle cx="260.27" cy="225.18" r="1.0" fill="#008000"/>
<circle cx="295.99" cy="200.22" r="1.0" fill="#800080"/>
<circle cx="257.74" cy="229.57" r="1.0" fill="#0000ff"/>
<circle cx="293.14" cy="200.36" r="1.0" fill="#ffff00"/>
<circle cx="269.13" cy="220.9" r="1.0" fill="#008000"/>
<circle cx="271.69" cy="220.45" r="1.0" fill="#ffa500"/>
<circle cx="293.26" cy="201.51" r="1.0" fill="#ffa500"/>
<circle cx="291.55" cy="200.93" r="1.0" fill="#008000"/>
<circle cx="278.99" cy="214.76" r="1.0" fill="#008000"/>
<circle cx="300.16" cy="195.88" r="1.0" fill="#008000"/>
<circle cx="258.63" cy="233.42" r="1.0" fill="#0000ff"/>
<circle cx="259.45" cy="229.68" r="1.0" fill="#0000ff"/>
<circle cx="318.6" cy="193.4" r="1.0" fill="#0000ff"/>
<circle cx="316.2" cy="182.4" r="1.0" fill="#008000"/>
<circle cx="284.26" cy="211.66" r="1.0" fill="#ffff00"/>
<circle cx="282.33" cy="204.4" r="1.0" fill="#ff0000"/>
<circle cx="290.04" cy="213.45" r="1.0" fill="#ffff00"/>
<circle cx="264.06" cy="225.45" r="1.0" fill="#0000ff"/>
<circle cx="318.6" cy="184.8" r="1.0" fill="#800080"/>
<circle cx="290.2" cy="211.6" r="1.0" fill="#0000ff"/>
<circle cx="301.19" cy="195.04" r="1.0" fill="#0000ff"/>
<circle cx="264.65" cy="222.29" r="1.0" fill="#008000"/>
<circle cx="248" cy="225" r="1.0" fill="#0000ff"/>
<circle cx="283" cy="202.6" r="1.0" fill="#ff0000"/>
<circle cx="259.08" cy="228.04" r="1.0" fill="#ffff00"/>
<circle cx="278.11" cy="208.61" r="1.0" fill="#0000ff"/>
<circle cx="268.81" cy="218.86" r="1.0" fill="#800080"/>
<circle cx="321" cy="186.9" r="1.0" fill="#ff0000"/>
<circle cx="271.16" cy="216.52" r="1.0" fill="#ff0000"/>
<circle cx="269.13" cy="216.79" r="1.0" fill="#ffff00"/>
<circle cx="302.36" cy="196.43" r="1.0" fill="#ff0000"/>
<circle cx="294.2" cy="206.7" r="1.0" fill="#0000ff"/>
<circle cx="262.92" cy="221.54" r="1.0" fill="#ffa500"/>
<circle cx="311.36" cy="181.89" r="1.0" fill="#ffff00"/>
<circle cx="257.15" cy="226.54" r="1.0" fill="#800080"/>
<circle cx="293.3" cy="195.72" r="1.0" fill="#008000"/>
<circle cx="254.13" cy="232.8" r="1.0" fill="#800080"/>
<circle cx="292.6" cy="210.8" r="1.0" fill="#0000ff"/>
<circle cx="262.75" cy="222.87" r="1.0" fill="#800080"/>
<circle cx="300.68" cy="195.5" r="1.0" fill="#ff0000"/>
<circle cx="287.9" cy="204.63" r="1.0" fill="#008000"/>
<circle cx="255.91" cy="232.22" r="1.0" fill="#ffff00"/>
<circle cx="321" cy="184" r="1.0" fill="#ffff00"/>
<circle cx="284.34" cy="209.77" r="1.0" fill="#800080"/>
<circle cx="288.86" cy="205.3" r="1.0" fill="#008000"/>
<circle cx="249.89" cy="231.93" r="1.0" fill="#0000ff"/>
<circle cx="311.3" cy="195" r="1.0" fill="#0000ff"/>
<circle cx="311.03" cy="187.96" r="1.0" fill="#ff0000"/>
<circle cx="313.41" cy="182.86" r="1.0" fill="#800080"/>
<circle cx="275.7" cy="209.9" r="1.0" fill="#ffff00"/>
<circle cx="307.16" cy="190.86" r="1.0" fill="#008000"/>
<circle cx="293.62" cy="196.7" r="1.0" fill="#ff0000"/>
<circle cx="305.86" cy="191.19" r="1.0" fill="#008000"/>
<circle cx="253.43" cy="231.95" r="1.0" fill="#ffff00"/>
<circle cx="280.03" cy="210.24" r="1.0" fill="#ffa500"/>
<circle cx="293.81" cy="198.84" r="1.0" fill="#ffff00"/>
<circle cx="286.4" cy="206.81" r="1.0" fill="#ffff00"/>
<circle cx="285.31" cy="208.93" r="1.0" fill="#ff0000"/>
<circle cx="298.3" cy="211.6" r="1.0" fill="#0000ff"/>
<circle cx="298.93" cy="199.76" r="1.0" fill="#008000"/>
<circle cx="285.26" cy="203.73" r="1.0" fill="#800080"/>
<circle cx="270.97" cy="215.82" r="1.0" fill="#ffff00"/>
<circle cx="270" cy="220.61" r="1.0" fill="#008000"/>
<circle cx="290.62" cy="204.38" r="1.0" fill="#008000"/>
<circle cx="266.7" cy="212" r="1.0" fill="#0000ff"/>
<circle cx="287.79" cy="207.03" r="1.0" fill="#ff0000"/>
<circle cx="294.66" cy="201.22" r="1.0" fill="#ffff00"/>
<circle cx="298.04" cy="197.83" r="1.0" fill="#ffff00"/>
<circle cx="281.08" cy="210.97" r="1.0" fill="#ffa500"/>
<circle cx="286.02" cy="206.71" r="1.0" fill="#ffa500"/>
<circle cx="287.08" cy="210.27" r="1.0" fill="#ffa500"/>
<circle cx="269.79" cy="216.86" r="1.0" fill="#0000ff"/>
<circle cx="267.16" cy="214.26" r="1.0" fill="#800080"/>
<circle cx="300.36" cy="196.75" r="1.0" fill="#800080"/>
<circle cx="325.4" cy="213.5" r="1.0" fill="#0000ff"/>
<circle cx="263.21" cy="223.46" r="1.0" fill="#800080"/>
<circle cx="291.89" cy="200.01" r="1.0" fill="#800080"/>
<circle cx="304.8" cy="218.1" r="1.0" fill="#0000ff"/>
<circle cx="273.67" cy="216.84" r="1.0" fill="#ffff00"/>
<circle cx="256.2" cy="227" r="1.0" fill="#ff0000"/>
<circle cx="283.8" cy="216.4" r="1.0" fill="#0000ff"/>
<circle cx="272.67" cy="220.09" r="1.0" fill="#0000ff"/>
<circle cx="299.44" cy="197.24" r="1.0" fill="#ff0000"/>
<circle cx="298.8" cy="207.5" r="1.0" fill="#0000ff"/>
<circle cx="276.23" cy="218.67" r="1.0" fill="#ffff00"/>
<circle cx="265.29" cy="220.24" r="1.0" fill="#0000ff"/>
<circle cx="261.34" cy="224.91" r="1.0" fill="#800080"/>
<circle cx="302.11" cy="194.06" r="1.0" fill="#008000"/>
<circle cx="311.44" cy="185.63" r="1.0" fill="#ffa500"/>
<circle cx="270.63" cy="216.82" r="1.0" fill="#ffa500"/>
<circle cx="263.25" cy="220.13" r="1.0" fill="#0000ff"/>
<circle cx="276.51" cy="214.22" r="1.0" fill="#ff0000"/>
<circle cx="290.44" cy="204.17" r="1.0" fill="#008000"/>
<circle cx="273.76" cy="218.08" r="1.0" fill="#008000"/>
<circle cx="269.89" cy="224.53" r="1.0" fill="#ffa500"/>
<circle cx="290.16" cy="204.27" r="1.0" fill="#ffff00"/>
<circle cx="298.3" cy="201.9" r="1.0" fill="#0000ff"/>
<circle cx="260.6" cy="229.4" r="1.0" fill="#ff0000"/>
<circle cx="273.74" cy="217.53" r="1.0" fill="#0000ff"/>
<circle cx="294.01" cy="195.58" r="1.0" fill="#ffa500"/>
<circle cx="253.4" cy="234.61" r="1.0" fill="#ffff00"/>
<circle cx="290.27" cy="205.08" r="1.0" fill="#008000"/>
<circle cx="294.73" cy="197.5" r="1.0" fill="#008000"/>
<circle cx="268.77" cy="217.84" r="1.0" fill="#ffff00"/>
<circle cx="277.32" cy="214.21" r="1.0" fill="#ff0000"/>
<circle cx="294.66" cy="201.09" r="1.0" fill="#ff0000"/>
<circle cx="259.23" cy="226.68" r="1.0" fill="#800080"/>
<circle cx="291.57" cy="200.69" r="1.0" fill="#008000"/>
<circle cx="273.15" cy="211.77" r="1.0" fill="#ffff00"/>
<circle cx="265.14" cy="220.79" r="1.0" fill="#ff0000"/>
<circle cx="297.03" cy="197.76" r="1.0" fill="#ffa500"/>
<circle cx="281.31" cy="211.83" r="1.0" fill="#008000"/>
<circle cx="261" cy="234.3" r="1.0" fill="#ffff00"/>
<circle cx="282.03" cy="212.86" r="1.0" fill="#0000ff"/>
<circle cx="297.07" cy="198.83" r="1.0" fill="#008000"/>
<circle cx="271.3" cy="218.97" r="1.0" fill="#800080"/>
<circle cx="297.58" cy="198.6" r="1.0" fill="#008000"/>
<circle cx="264.5" cy="221.88" r="1.0" fill="#ff0000"/>
<circle cx="288.04" cy="204.61" r="1.0" fill="#ff0000"/>
<circle cx="258.44" cy="227.66" r="1.0" fill="#ff0000"/>
<circle cx="277.89" cy="210.94" r="1.0" fill="#ff0000"/>
<circle cx="251.3" cy="222.9" r="1.0" fill="#0000ff"/>
<circle cx="283.53" cy="210.59" r="1.0" fill="#800080"/>
<circle cx="262.3" cy="222.52" r="1.0" fill="#008000"/>
<circle cx="276.19" cy="214.34" r="1.0" fill="#ff0000"/>
<circle cx="280.36" cy="210.92" r="1.0" fill="#800080"/>
<circle cx="268.2" cy="218.19" r="1.0" fill="#ffa500"/>
<circle cx="291" cy="208.26" r="1.0" fill="#0000ff"/>
<circle cx="324.3" cy="192.6" r="1.0" fill="#ffa500"/>
<circle cx="286.82" cy="210.01" r="1.0" fill="#ffa500"/>
<circle cx="298.73" cy="199.35" r="1.0" fill="#ffff00"/>
<circle cx="311.8" cy="190.57" r="1.0" fill="#ff0000"/>
<circle cx="310.31" cy="185.1" r="1.0" fill="#800080"/>
<circle cx="278.59" cy="215.04" r="1.0" fill="#800080"/>
<circle cx="286.45" cy="206.14" r="1.0" fill="#0000ff"/>
<circle cx="273.6" cy="215.32" r="1.0" fill="#ff0000"/>
<circle cx="285.4" cy="198.6" r="1.0" fill="#ffff00"/>
<circle cx="252.23" cy="229.08" r="1.0" fill="#ff0000"/>
<circle cx="300.19" cy="194.19" r="1.0" fill="#ffa500"/>
<circle cx="253.7" cy="234.23" r="1.0" fill="#800080"/>
<circle cx="317" cy="190.5" r="1.0" fill="#ffa500"/>
<circle cx="268.3" cy="209.9" r="1.0" fill="#800080"/>
<circle cx="248.9" cy="227" r="1.0" fill="#0000ff"/>
<circle cx="330.8" cy="198.6" r="1.0" fill="#0000ff"/>
<circle cx="286.2" cy="213.2" r="1.0" fill="#0000ff"/>
<circle cx="295.28" cy="198.29" r="1.0" fill="#800080"/>
<circle cx="274.27" cy="213.65" r="1.0" fill="#ffa500"/>
<circle cx="286.38" cy="205.84" r="1.0" fill="#ffff00"/>
<circle cx="266.51" cy="217.18" r="1.0" fill="#ffa500"/>
<circle cx="272.39" cy="216.46" r="1.0" fill="#ff0000"/>
<circle cx="288.2" cy="195.71" r="1.0" fill="#ff0000"/>
<circle cx="267.68" cy="221.89" r="1.0" fill="#800080"/>
<circle cx="312.9" cy="184" r="1.0" fill="#ff0000"/>
<circle cx="294.44" cy="199.05" r="1.0" fill="#ff0000"/>
<circle cx="302.28" cy="190.08" r="1.0" fill="#ff0000"/>
<circle cx="284.43" cy="206.65" r="1.0" fill="#0000ff"/>
<circle cx="263.5" cy="219.7" r="1.0" fill="#0000ff"/>
<circle cx="312.9" cy="181.6" r="1.0" fill="#ff0000"/>
<circle cx="274.46" cy="217.07" r="1.0" fill="#ff0000"/>
<circle cx="265.32" cy="222.6" r="1.0" fill="#ffff00"/>
<circle cx="304.8" cy="213.2" r="1.0" fill="#0000ff"/>
<circle cx="247.2" cy="236.7" r="1.0" fill="#800080"/>
<circle cx="262.45" cy="227.33" r="1.0" fill="#ffa500"/>
<circle cx="287.39" cy="201.97" r="1.0" fill="#ffa500"/>
<circle cx="298.7" cy="195.79" r="1.0" fill="#ffa500"/>
<circle cx="283.14" cy="211.85" r="1.0" fill="#ff0000"/>
<circle cx="262.95" cy="224.76" r="1.0" fill="#800080"/>
<circle cx="309.73" cy="186.96" r="1.0" fill="#800080"/>
<circle cx="257.15" cy="227.41" r="1.0" fill="#800080"/>
<circle cx="242.4" cy="235.4" r="1.0" fill="#0000ff"/>
<circle cx="271.02" cy="218.63" r="1.0" fill="#800080"/>
<circle cx="338.4" cy="162.5" r="1.0" fill="#ffff00"/>
<circle cx="286.65" cy="203.31" r="1.0" fill="#ffa500"/>
<circle cx="307.92" cy="189.69" r="1.0" fill="#ff0000"/>
<circle cx="291" cy="222.6" r="1.0" fill="#0000ff"/>
<circle cx="285.59" cy="204.53" r="1.0" fill="#800080"/>
<circle cx="257.05" cy="228.72" r="1.0" fill="#ffa500"/>
<circle cx="270.01" cy="216.2" r="1.0" fill="#ffff00"/>
<circle cx="306.01" cy="191.12" r="1.0" fill="#800080"/>
<circle cx="279.24" cy="213.69" r="1.0" fill="#800080"/>
<circle cx="278.51" cy="211.49" r="1.0" fill="#008000"/>
<circle cx="269.51" cy="209.27" r="1.0" fill="#ffa500"/>
<circle cx="253.84" cy="239.93" r="1.0" fill="#ff0000"/>
<circle cx="281.74" cy="211.72" r="1.0" fill="#ff0000"/>
<circle cx="275.52" cy="215.53" r="1.0" fill="#ffa500"/>
<circle cx="257" cy="236.4" r="1.0" fill="#ffff00"/>
<circle cx="290.55" cy="201.97" r="1.0" fill="#ff0000"/>
<circle cx="306.4" cy="197.8" r="1.0" fill="#0000ff"/>
<circle cx="280.31" cy="206.59" r="1.0" fill="#ffff00"/>
<circle cx="262.97" cy="219.9" r="1.0" fill="#ff0000"/>
<circle cx="275.17" cy="212.79" r="1.0" fill="#ffa500"/>
<circle cx="253.68" cy="230.4" r="1.0" fill="#800080"/>
<rect x="218" y="158.6" width="129.6" height="100.8" fill="none" stroke="#b4b4b4" stroke-width="0.75"/>
<line x1="218" y1="259.4" x2="218" y2="260.6" stroke="#999" stroke-width="0.4"/>
<text x="218" y="265" class="tk" text-anchor="middle">0.0</text>
<line x1="216.8" y1="259.4" x2="218" y2="259.4" stroke="#999" stroke-width="0.4"/>
<text x="216.2" y="261" class="tk" text-anchor="end">0.0</text>
<line x1="243.92" y1="259.4" x2="243.92" y2="260.6" stroke="#999" stroke-width="0.4"/>
<text x="243.92" y="265" class="tk" text-anchor="middle">0.2</text>
<line x1="216.8" y1="239.32" x2="218" y2="239.32" stroke="#999" stroke-width="0.4"/>
<text x="216.2" y="240.92" class="tk" text-anchor="end">0.2</text>
<line x1="269.84" y1="259.4" x2="269.84" y2="260.6" stroke="#999" stroke-width="0.4"/>
<text x="269.84" y="265" class="tk" text-anchor="middle">0.4</text>
<line x1="216.8" y1="219.24" x2="218" y2="219.24" stroke="#999" stroke-width="0.4"/>
<text x="216.2" y="220.84" class="tk" text-anchor="end">0.4</text>
<line x1="295.76" y1="259.4" x2="295.76" y2="260.6" stroke="#999" stroke-width="0.4"/>
<text x="295.76" y="265" class="tk" text-anchor="middle">0.6</text>
<line x1="216.8" y1="199.16" x2="218" y2="199.16" stroke="#999" stroke-width="0.4"/>
<text x="216.2" y="200.76" class="tk" text-anchor="end">0.6</text>
<line x1="321.68" y1="259.4" x2="321.68" y2="260.6" stroke="#999" stroke-width="0.4"/>
<text x="321.68" y="265" class="tk" text-anchor="middle">0.8</text>
<line x1="216.8" y1="179.08" x2="218" y2="179.08" stroke="#999" stroke-width="0.4"/>
<text x="216.2" y="180.68" class="tk" text-anchor="end">0.8</text>
<line x1="347.6" y1="259.4" x2="347.6" y2="260.6" stroke="#999" stroke-width="0.4"/>
<text x="347.6" y="265" class="tk" text-anchor="middle">1.0</text>
<line x1="216.8" y1="159" x2="218" y2="159" stroke="#999" stroke-width="0.4"/>
<text x="216.2" y="160.6" class="tk" text-anchor="end">1.0</text>
<text x="282.8" y="271.3" class="lb" text-anchor="middle">Normalized Actual Stress <tspan font-style="italic">σ</tspan><tspan font-size="3.7" dy="1.3">2</tspan></text>
<text transform="translate(207,210.1) rotate(-90)" class="lb" text-anchor="middle">Normalized Predicted Stress <tspan font-style="italic">σ</tspan><tspan font-size="3.7" dy="1.3">2</tspan></text>
<rect x="227.2" y="162.4" width="1.6" height="1.6" fill="#ff0000"/>
<text x="237" y="165.1" class="lg">Asp1:2</text>
<rect x="227.2" y="169.15" width="1.6" height="1.6" fill="#008000"/>
<text x="237" y="171.85" class="lg">Asp1:4</text>
<rect x="227.2" y="175.9" width="1.6" height="1.6" fill="#ffa500"/>
<text x="237" y="178.6" class="lg">Asp1:6</text>
<rect x="227.2" y="182.65" width="1.6" height="1.6" fill="#800080"/>
<text x="237" y="185.35" class="lg">Asp1:8</text>
<rect x="227.2" y="189.4" width="1.6" height="1.6" fill="#0000ff"/>
<text x="237" y="192.1" class="lg">gg</text>
<rect x="227.2" y="196.15" width="1.6" height="1.6" fill="#ffff00"/>
<text x="237" y="198.85" class="lg">Voronoi</text>
<text y="236.9" class="tx"><tspan x="302" font-style="italic">R</tspan><tspan x="306.3" y="235.4" font-size="3.8">2</tspan><tspan x="310" y="236.9">=</tspan><tspan x="314.4" textLength="17.2" lengthAdjust="spacingAndGlyphs">0.8581</tspan></text>
<text y="244.9" class="tx"><tspan x="302" textLength="14" lengthAdjust="spacingAndGlyphs">RMSE</tspan><tspan x="317.2">=</tspan><tspan x="322" textLength="18" lengthAdjust="spacingAndGlyphs">0.0535</tspan></text>
<text x="276" y="288.3" class="cap b" text-anchor="middle" style='font-family:"Liberation Serif", serif'><tspan font-weight="normal" stroke-width="0">(</tspan>e<tspan font-weight="normal" stroke-width="0">)</tspan></text>
<line x1="435.66" y1="241.33" x2="534.24" y2="164.72" stroke="#2a2a2a" stroke-width="0.55"/>
<circle cx="478.48" cy="208.77" r="1.0" fill="#800080"/>
<circle cx="500.68" cy="193.4" r="1.0" fill="#800080"/>
<circle cx="479.81" cy="209.99" r="1.0" fill="#800080"/>
<circle cx="462.26" cy="220.14" r="1.0" fill="#ff0000"/>
<circle cx="475" cy="213.17" r="1.0" fill="#ffa500"/>
<circle cx="490.16" cy="200.1" r="1.0" fill="#800080"/>
<circle cx="462" cy="223.79" r="1.0" fill="#ffa500"/>
<circle cx="486.13" cy="201.12" r="1.0" fill="#800080"/>
<circle cx="473.58" cy="210.92" r="1.0" fill="#0000ff"/>
<circle cx="465.49" cy="217.79" r="1.0" fill="#800080"/>
<circle cx="501.28" cy="189.58" r="1.0" fill="#ffa500"/>
<circle cx="506.1" cy="208.3" r="1.0" fill="#0000ff"/>
<circle cx="476.2" cy="208.77" r="1.0" fill="#008000"/>
<circle cx="487.59" cy="201.5" r="1.0" fill="#ffa500"/>
<circle cx="496.97" cy="193.54" r="1.0" fill="#ffa500"/>
<circle cx="470.29" cy="216.39" r="1.0" fill="#800080"/>
<circle cx="455.42" cy="227.39" r="1.0" fill="#008000"/>
<circle cx="459.4" cy="209.4" r="1.0" fill="#800080"/>
<circle cx="465.59" cy="216.75" r="1.0" fill="#008000"/>
<circle cx="485.96" cy="200.45" r="1.0" fill="#ffff00"/>
<circle cx="506.04" cy="188.64" r="1.0" fill="#800080"/>
<circle cx="510.66" cy="182.51" r="1.0" fill="#ffa500"/>
<circle cx="480.46" cy="206.22" r="1.0" fill="#ff0000"/>
<circle cx="534.5" cy="170.2" r="1.0" fill="#800080"/>
<circle cx="494.59" cy="195.3" r="1.0" fill="#ffa500"/>
<circle cx="474.4" cy="218.1" r="1.0" fill="#0000ff"/>
<circle cx="495.48" cy="196.67" r="1.0" fill="#800080"/>
<circle cx="528.8" cy="171.8" r="1.0" fill="#008000"/>
<circle cx="472.38" cy="211.65" r="1.0" fill="#008000"/>
<circle cx="477.9" cy="209.25" r="1.0" fill="#ff0000"/>
<circle cx="506.73" cy="188.04" r="1.0" fill="#0000ff"/>
<circle cx="438.8" cy="227.8" r="1.0" fill="#0000ff"/>
<circle cx="482.66" cy="205.95" r="1.0" fill="#800080"/>
<circle cx="484.69" cy="202.69" r="1.0" fill="#800080"/>
<circle cx="462.18" cy="219.51" r="1.0" fill="#008000"/>
<circle cx="482.37" cy="204.51" r="1.0" fill="#ff0000"/>
<circle cx="485.72" cy="199.84" r="1.0" fill="#008000"/>
<circle cx="465.69" cy="217.87" r="1.0" fill="#008000"/>
<circle cx="479.8" cy="207.43" r="1.0" fill="#800080"/>
<circle cx="461.9" cy="218.53" r="1.0" fill="#008000"/>
<circle cx="463.29" cy="218.27" r="1.0" fill="#008000"/>
<circle cx="477.9" cy="211.56" r="1.0" fill="#ffff00"/>
<circle cx="482.6" cy="201" r="1.0" fill="#0000ff"/>
<circle cx="485.96" cy="202.1" r="1.0" fill="#ffa500"/>
<circle cx="481.81" cy="204.12" r="1.0" fill="#800080"/>
<circle cx="492.95" cy="200.44" r="1.0" fill="#ffff00"/>
<circle cx="493.47" cy="194.61" r="1.0" fill="#ffa500"/>
<circle cx="494.41" cy="195.75" r="1.0" fill="#008000"/>
<circle cx="484.18" cy="203.03" r="1.0" fill="#008000"/>
<circle cx="466.93" cy="218.48" r="1.0" fill="#ffa500"/>
<circle cx="463.2" cy="221.14" r="1.0" fill="#ffff00"/>
<circle cx="456.4" cy="223.58" r="1.0" fill="#ff0000"/>
<circle cx="461.13" cy="220.51" r="1.0" fill="#ff0000"/>
<circle cx="468.58" cy="216.39" r="1.0" fill="#ff0000"/>
<circle cx="475.21" cy="210.26" r="1.0" fill="#ff0000"/>
<circle cx="485.75" cy="210.06" r="1.0" fill="#ffff00"/>
<circle cx="511" cy="186.9" r="1.0" fill="#800080"/>
<circle cx="489.85" cy="198.27" r="1.0" fill="#ffff00"/>
<circle cx="488.67" cy="199.77" r="1.0" fill="#008000"/>
<circle cx="483.21" cy="204.1" r="1.0" fill="#0000ff"/>
<circle cx="484.67" cy="205.83" r="1.0" fill="#008000"/>
<circle cx="487.61" cy="200.81" r="1.0" fill="#ffa500"/>
<circle cx="461" cy="203" r="1.0" fill="#0000ff"/>
<circle cx="450.2" cy="212" r="1.0" fill="#0000ff"/>
<circle cx="500.86" cy="188.4" r="1.0" fill="#ffff00"/>
<circle cx="466.65" cy="217.73" r="1.0" fill="#800080"/>
<circle cx="496.98" cy="191.47" r="1.0" fill="#800080"/>
<circle cx="452.87" cy="229.11" r="1.0" fill="#ff0000"/>
<circle cx="492.04" cy="191.62" r="1.0" fill="#0000ff"/>
<circle cx="491.67" cy="196.01" r="1.0" fill="#ff0000"/>
<circle cx="505.3" cy="199.4" r="1.0" fill="#ffff00"/>
<circle cx="484.58" cy="204.68" r="1.0" fill="#800080"/>
<circle cx="502.53" cy="189.11" r="1.0" fill="#ff0000"/>
<circle cx="472.82" cy="211.44" r="1.0" fill="#008000"/>
<circle cx="478.28" cy="209.95" r="1.0" fill="#ff0000"/>
<circle cx="459.02" cy="219.22" r="1.0" fill="#ff0000"/>
<circle cx="467.91" cy="222.41" r="1.0" fill="#800080"/>
<circle cx="477.76" cy="209.54" r="1.0" fill="#008000"/>
<circle cx="465.07" cy="221.35" r="1.0" fill="#ffff00"/>
<circle cx="506.06" cy="186.05" r="1.0" fill="#ffff00"/>
<circle cx="484.58" cy="201.33" r="1.0" fill="#800080"/>
<circle cx="473.4" cy="211.08" r="1.0" fill="#008000"/>
<circle cx="475.98" cy="206.35" r="1.0" fill="#ff0000"/>
<circle cx="508.45" cy="186.8" r="1.0" fill="#008000"/>
<circle cx="497.42" cy="192.36" r="1.0" fill="#ff0000"/>
<circle cx="467.89" cy="217.45" r="1.0" fill="#ffa500"/>
<circle cx="498.28" cy="188.18" r="1.0" fill="#ff0000"/>
<circle cx="502.9" cy="205.1" r="1.0" fill="#0000ff"/>
<circle cx="497.85" cy="193.4" r="1.0" fill="#800080"/>
<circle cx="472.4" cy="205.5" r="1.0" fill="#ffff00"/>
<circle cx="471.46" cy="212.54" r="1.0" fill="#ffa500"/>
<circle cx="499.46" cy="190.33" r="1.0" fill="#ff0000"/>
<circle cx="494.92" cy="193.52" r="1.0" fill="#ff0000"/>
<circle cx="468.24" cy="214.93" r="1.0" fill="#ffa500"/>
<circle cx="459.59" cy="222.18" r="1.0" fill="#ff0000"/>
<circle cx="455.18" cy="226.21" r="1.0" fill="#ffff00"/>
<circle cx="468" cy="203.4" r="1.0" fill="#0000ff"/>
<circle cx="479.18" cy="204.25" r="1.0" fill="#ffa500"/>
<circle cx="456.4" cy="225.41" r="1.0" fill="#800080"/>
<circle cx="519.9" cy="179.1" r="1.0" fill="#800080"/>
<circle cx="491.03" cy="198.92" r="1.0" fill="#ffa500"/>
<circle cx="466.13" cy="218.13" r="1.0" fill="#0000ff"/>
<circle cx="461.5" cy="214.8" r="1.0" fill="#800080"/>
<circle cx="488.2" cy="205.9" r="1.0" fill="#0000ff"/>
<circle cx="469.75" cy="215.62" r="1.0" fill="#0000ff"/>
<circle cx="462.47" cy="218.35" r="1.0" fill="#800080"/>
<circle cx="459.8" cy="225.95" r="1.0" fill="#008000"/>
<circle cx="466.4" cy="207.8" r="1.0" fill="#800080"/>
<circle cx="480.78" cy="201.99" r="1.0" fill="#008000"/>
<circle cx="471.37" cy="211.29" r="1.0" fill="#ffa500"/>
<circle cx="441.6" cy="236.7" r="1.0" fill="#ff0000"/>
<circle cx="451.2" cy="228.03" r="1.0" fill="#ff0000"/>
<circle cx="477.84" cy="203.85" r="1.0" fill="#ffa500"/>
<circle cx="497.38" cy="194.49" r="1.0" fill="#008000"/>
<circle cx="450.84" cy="230.23" r="1.0" fill="#ff0000"/>
<circle cx="464.8" cy="227.8" r="1.0" fill="#0000ff"/>
<circle cx="442.9" cy="214.8" r="1.0" fill="#0000ff"/>
<circle cx="502.61" cy="191.15" r="1.0" fill="#ff0000"/>
<circle cx="478.35" cy="208.18" r="1.0" fill="#ffff00"/>
<circle cx="468.54" cy="216.67" r="1.0" fill="#ffff00"/>
<circle cx="497.28" cy="193.34" r="1.0" fill="#ff0000"/>
<circle cx="502.98" cy="188.48" r="1.0" fill="#ffa500"/>
<circle cx="479.25" cy="204.47" r="1.0" fill="#0000ff"/>
<circle cx="472.11" cy="214.5" r="1.0" fill="#ff0000"/>
<circle cx="488.61" cy="206.01" r="1.0" fill="#800080"/>
<circle cx="448.16" cy="228.77" r="1.0" fill="#008000"/>
<circle cx="487.17" cy="202.1" r="1.0" fill="#ff0000"/>
<circle cx="462.03" cy="220.74" r="1.0" fill="#ff0000"/>
<circle cx="500.46" cy="188.56" r="1.0" fill="#0000ff"/>
<circle cx="492.07" cy="199.54" r="1.0" fill="#ff0000"/>
<circle cx="464.8" cy="219.7" r="1.0" fill="#0000ff"/>
<circle cx="494.28" cy="198.51" r="1.0" fill="#ffa500"/>
<circle cx="494.37" cy="196.33" r="1.0" fill="#ffa500"/>
<circle cx="467.63" cy="226.31" r="1.0" fill="#ff0000"/>
<circle cx="469.62" cy="216.51" r="1.0" fill="#008000"/>
<circle cx="509.86" cy="189.34" r="1.0" fill="#800080"/>
<circle cx="482.28" cy="206.75" r="1.0" fill="#0000ff"/>
<circle cx="504.42" cy="189.22" r="1.0" fill="#008000"/>
<circle cx="499.84" cy="192.13" r="1.0" fill="#ffff00"/>
<circle cx="456.89" cy="222.42" r="1.0" fill="#ffa500"/>
<circle cx="452.3" cy="232.7" r="1.0" fill="#ff0000"/>
<circle cx="498.8" cy="194.33" r="1.0" fill="#ff0000"/>
<circle cx="507.11" cy="184.82" r="1.0" fill="#800080"/>
<circle cx="462.56" cy="221.06" r="1.0" fill="#008000"/>
<circle cx="465.3" cy="225" r="1.0" fill="#ff0000"/>
<circle cx="474.89" cy="210.88" r="1.0" fill="#ffa500"/>
<circle cx="499.14" cy="186.84" r="1.0" fill="#ff0000"/>
<circle cx="475.71" cy="210.59" r="1.0" fill="#ffa500"/>
<circle cx="481.46" cy="201.45" r="1.0" fill="#ffa500"/>
<circle cx="488.64" cy="201.42" r="1.0" fill="#ffa500"/>
<circle cx="491.5" cy="189.7" r="1.0" fill="#ffff00"/>
<circle cx="519.4" cy="188.9" r="1.0" fill="#ffff00"/>
<circle cx="473.76" cy="210.42" r="1.0" fill="#0000ff"/>
<circle cx="473.95" cy="210.72" r="1.0" fill="#008000"/>
<circle cx="457.68" cy="224.26" r="1.0" fill="#008000"/>
<circle cx="484.49" cy="203.96" r="1.0" fill="#800080"/>
<circle cx="507.92" cy="186.09" r="1.0" fill="#800080"/>
<circle cx="435.6" cy="227.8" r="1.0" fill="#0000ff"/>
<circle cx="502.35" cy="183.29" r="1.0" fill="#ff0000"/>
<circle cx="491.04" cy="197.61" r="1.0" fill="#008000"/>
<circle cx="488.2" cy="210.8" r="1.0" fill="#ffff00"/>
<circle cx="499.86" cy="192.2" r="1.0" fill="#ff0000"/>
<circle cx="501.65" cy="193.63" r="1.0" fill="#008000"/>
<circle cx="473.3" cy="207.88" r="1.0" fill="#ff0000"/>
<circle cx="494.62" cy="193.78" r="1.0" fill="#008000"/>
<circle cx="501.65" cy="188.55" r="1.0" fill="#0000ff"/>
<circle cx="458.63" cy="221.73" r="1.0" fill="#0000ff"/>
<circle cx="478.24" cy="206.93" r="1.0" fill="#008000"/>
<circle cx="485.62" cy="203.64" r="1.0" fill="#008000"/>
<circle cx="495.63" cy="196.66" r="1.0" fill="#ff0000"/>
<circle cx="478.6" cy="214.8" r="1.0" fill="#0000ff"/>
<circle cx="495.84" cy="192.7" r="1.0" fill="#0000ff"/>
<circle cx="473.14" cy="212.11" r="1.0" fill="#800080"/>
<circle cx="468.43" cy="213.52" r="1.0" fill="#ff0000"/>
<circle cx="498.38" cy="194.13" r="1.0" fill="#ff0000"/>
<circle cx="493.51" cy="197.95" r="1.0" fill="#008000"/>
<circle cx="487.4" cy="199.59" r="1.0" fill="#ff0000"/>
<circle cx="494.26" cy="197.84" r="1.0" fill="#ffa500"/>
<circle cx="503.58" cy="184.83" r="1.0" fill="#008000"/>
<circle cx="505.58" cy="186.28" r="1.0" fill="#008000"/>
<circle cx="464.16" cy="220.73" r="1.0" fill="#008000"/>
<circle cx="471.55" cy="214.8" r="1.0" fill="#ffa500"/>
<circle cx="468.42" cy="213.44" r="1.0" fill="#ff0000"/>
<circle cx="508.1" cy="199.4" r="1.0" fill="#0000ff"/>
<circle cx="483.4" cy="198.6" r="1.0" fill="#ff0000"/>
<circle cx="497.13" cy="195.91" r="1.0" fill="#800080"/>
<circle cx="494.94" cy="195.64" r="1.0" fill="#ffff00"/>
<circle cx="468.55" cy="217" r="1.0" fill="#ff0000"/>
<circle cx="498.35" cy="193.2" r="1.0" fill="#0000ff"/>
<circle cx="442" cy="225" r="1.0" fill="#0000ff"/>
<circle cx="493.62" cy="200.92" r="1.0" fill="#ff0000"/>
<circle cx="472.15" cy="213.7" r="1.0" fill="#ffff00"/>
<circle cx="461.18" cy="220.55" r="1.0" fill="#ffa500"/>
<circle cx="499.48" cy="190.54" r="1.0" fill="#ffff00"/>
<circle cx="456.83" cy="224.9" r="1.0" fill="#008000"/>
<circle cx="470.81" cy="212.31" r="1.0" fill="#ffa500"/>
<circle cx="465.07" cy="219.64" r="1.0" fill="#ffff00"/>
<circle cx="452.6" cy="222.9" r="1.0" fill="#0000ff"/>
<circle cx="480.64" cy="208.92" r="1.0" fill="#ff0000"/>
<circle cx="469.46" cy="212.49" r="1.0" fill="#800080"/>
<circle cx="477.8" cy="208.3" r="1.0" fill="#800080"/>
<circle cx="460.62" cy="223.34" r="1.0" fill="#ffff00"/>
<circle cx="505.79" cy="186.26" r="1.0" fill="#ff0000"/>
<circle cx="497.25" cy="191.66" r="1.0" fill="#ffa500"/>
<circle cx="525.6" cy="186" r="1.0" fill="#0000ff"/>
<circle cx="474.7" cy="210.94" r="1.0" fill="#008000"/>
<circle cx="465.92" cy="216.23" r="1.0" fill="#800080"/>
<circle cx="510.2" cy="187.2" r="1.0" fill="#008000"/>
<circle cx="475.06" cy="212.61" r="1.0" fill="#008000"/>
<circle cx="478.56" cy="211.31" r="1.0" fill="#ff0000"/>
<circle cx="479.69" cy="207.15" r="1.0" fill="#ff0000"/>
<circle cx="455" cy="207.8" r="1.0" fill="#0000ff"/>
<circle cx="463.6" cy="231" r="1.0" fill="#ff0000"/>
<circle cx="524.3" cy="171.8" r="1.0" fill="#ffa500"/>
<circle cx="487.28" cy="199.5" r="1.0" fill="#ffa500"/>
<circle cx="469.1" cy="216.51" r="1.0" fill="#008000"/>
<circle cx="482.84" cy="201.28" r="1.0" fill="#ff0000"/>
<circle cx="489.08" cy="198.3" r="1.0" fill="#ff0000"/>
<circle cx="461.74" cy="224.11" r="1.0" fill="#ff0000"/>
<circle cx="487.79" cy="201.61" r="1.0" fill="#ffff00"/>
<circle cx="480.75" cy="207.17" r="1.0" fill="#ff0000"/>
<circle cx="469.09" cy="218.17" r="1.0" fill="#008000"/>
<circle cx="474.18" cy="210.27" r="1.0" fill="#ffff00"/>
<circle cx="473.87" cy="207.91" r="1.0" fill="#ffa500"/>
<circle cx="478.57" cy="209.09" r="1.0" fill="#008000"/>
<circle cx="451.94" cy="228.38" r="1.0" fill="#800080"/>
<circle cx="492.8" cy="208.3" r="1.0" fill="#ff0000"/>
<circle cx="491.61" cy="200.8" r="1.0" fill="#ff0000"/>
<circle cx="482.31" cy="206.91" r="1.0" fill="#800080"/>
<circle cx="446.4" cy="232.2" r="1.0" fill="#008000"/>
<circle cx="485.08" cy="201.9" r="1.0" fill="#0000ff"/>
<circle cx="515.5" cy="182.4" r="1.0" fill="#800080"/>
<circle cx="505.3" cy="211.6" r="1.0" fill="#0000ff"/>
<circle cx="464.33" cy="214.58" r="1.0" fill="#ffff00"/>
<circle cx="497.2" cy="208.7" r="1.0" fill="#0000ff"/>
<circle cx="451.83" cy="228.42" r="1.0" fill="#008000"/>
<circle cx="485.96" cy="200.92" r="1.0" fill="#ff0000"/>
<circle cx="455.68" cy="223.27" r="1.0" fill="#ff0000"/>
<circle cx="453.63" cy="225.17" r="1.0" fill="#800080"/>
<circle cx="507.61" cy="186.02" r="1.0" fill="#ffff00"/>
<circle cx="495.93" cy="193.2" r="1.0" fill="#ff0000"/>
<circle cx="477.45" cy="208.53" r="1.0" fill="#800080"/>
<circle cx="500.99" cy="190.07" r="1.0" fill="#800080"/>
<circle cx="462.98" cy="218.59" r="1.0" fill="#ff0000"/>
<circle cx="472.58" cy="213.58" r="1.0" fill="#ffff00"/>
<circle cx="461.37" cy="221.71" r="1.0" fill="#ffa500"/>
<circle cx="483.6" cy="204.52" r="1.0" fill="#0000ff"/>
<circle cx="500.37" cy="191.78" r="1.0" fill="#ffa500"/>
<circle cx="463.02" cy="219.05" r="1.0" fill="#ff0000"/>
<circle cx="505.2" cy="188.1" r="1.0" fill="#ffff00"/>
<circle cx="441.7" cy="207.5" r="1.0" fill="#0000ff"/>
<circle cx="511" cy="182.4" r="1.0" fill="#ffa500"/>
<circle cx="476.48" cy="209.75" r="1.0" fill="#ff0000"/>
<circle cx="484.84" cy="208.05" r="1.0" fill="#ff0000"/>
<circle cx="454.63" cy="228.02" r="1.0" fill="#008000"/>
<circle cx="466.45" cy="221.01" r="1.0" fill="#ffa500"/>
<circle cx="487.75" cy="202.23" r="1.0" fill="#ff0000"/>
<circle cx="468.97" cy="216.87" r="1.0" fill="#ffa500"/>
<circle cx="469.13" cy="217.01" r="1.0" fill="#800080"/>
<circle cx="516.2" cy="183.7" r="1.0" fill="#800080"/>
<circle cx="458.81" cy="223.05" r="1.0" fill="#ff0000"/>
<circle cx="498.76" cy="193.11" r="1.0" fill="#ff0000"/>
<circle cx="485.51" cy="207.25" r="1.0" fill="#008000"/>
<circle cx="502.43" cy="189.88" r="1.0" fill="#008000"/>
<circle cx="515.5" cy="188.5" r="1.0" fill="#008000"/>
<circle cx="496.53" cy="187.91" r="1.0" fill="#ffa500"/>
<circle cx="458.3" cy="200.2" r="1.0" fill="#0000ff"/>
<circle cx="450.73" cy="229.25" r="1.0" fill="#ffff00"/>
<circle cx="465.98" cy="217.68" r="1.0" fill="#ffff00"/>
<circle cx="510.2" cy="181.49" r="1.0" fill="#0000ff"/>
<circle cx="469.31" cy="219.79" r="1.0" fill="#008000"/>
<circle cx="452.3" cy="235.1" r="1.0" fill="#ffff00"/>
<circle cx="500.75" cy="188.83" r="1.0" fill="#ffff00"/>
<circle cx="482.06" cy="199.53" r="1.0" fill="#ffa500"/>
<circle cx="490.45" cy="200.38" r="1.0" fill="#ff0000"/>
<circle cx="498.88" cy="189.87" r="1.0" fill="#ffff00"/>
<circle cx="489.59" cy="201.79" r="1.0" fill="#ff0000"/>
<circle cx="477.33" cy="209.18" r="1.0" fill="#ffff00"/>
<circle cx="478.5" cy="205.1" r="1.0" fill="#0000ff"/>
<circle cx="463.75" cy="219.74" r="1.0" fill="#ff0000"/>
<circle cx="465.25" cy="217.34" r="1.0" fill="#ffa500"/>
<circle cx="503.18" cy="189.79" r="1.0" fill="#008000"/>
<circle cx="479" cy="206.52" r="1.0" fill="#008000"/>
<circle cx="476.22" cy="210.09" r="1.0" fill="#ffff00"/>
<circle cx="491.18" cy="196.97" r="1.0" fill="#ff0000"/>
<circle cx="452.64" cy="227.24" r="1.0" fill="#ffa500"/>
<circle cx="496.46" cy="193.8" r="1.0" fill="#ff0000"/>
<circle cx="476.11" cy="209.31" r="1.0" fill="#ffff00"/>
<circle cx="483.4" cy="202.64" r="1.0" fill="#ffff00"/>
<circle cx="491.99" cy="192.19" r="1.0" fill="#0000ff"/>
<circle cx="495.03" cy="195.42" r="1.0" fill="#800080"/>
<circle cx="463.15" cy="218.36" r="1.0" fill="#ff0000"/>
<circle cx="479.53" cy="204.88" r="1.0" fill="#ff0000"/>
<circle cx="463.73" cy="221.03" r="1.0" fill="#008000"/>
<circle cx="485.47" cy="202.41" r="1.0" fill="#ffa500"/>
<circle cx="497.9" cy="192.99" r="1.0" fill="#800080"/>
<circle cx="487.4" cy="204.3" r="1.0" fill="#0000ff"/>
<circle cx="467.63" cy="216.04" r="1.0" fill="#ffa500"/>
<circle cx="474.67" cy="214.95" r="1.0" fill="#ffff00"/>
<circle cx="453.67" cy="224.26" r="1.0" fill="#ff0000"/>
<circle cx="450.86" cy="229.76" r="1.0" fill="#ffff00"/>
<circle cx="466.17" cy="215.63" r="1.0" fill="#ff0000"/>
<circle cx="453.43" cy="234.17" r="1.0" fill="#008000"/>
<circle cx="503.12" cy="188.78" r="1.0" fill="#ffa500"/>
<circle cx="461.65" cy="225.28" r="1.0" fill="#ffff00"/>
<circle cx="485.97" cy="198.23" r="1.0" fill="#0000ff"/>
<circle cx="474.5" cy="213.2" r="1.0" fill="#0000ff"/>
<circle cx="474.19" cy="211.88" r="1.0" fill="#800080"/>
<circle cx="496.38" cy="194.48" r="1.0" fill="#ffff00"/>
<circle cx="506.4" cy="206.7" r="1.0" fill="#0000ff"/>
<circle cx="481.16" cy="210.14" r="1.0" fill="#ff0000"/>
<circle cx="502.28" cy="189.97" r="1.0" fill="#ffff00"/>
<circle cx="483.77" cy="207.04" r="1.0" fill="#008000"/>
<circle cx="470.87" cy="211.02" r="1.0" fill="#ffff00"/>
<circle cx="473.77" cy="209.41" r="1.0" fill="#800080"/>
<circle cx="500.64" cy="193.17" r="1.0" fill="#800080"/>
<circle cx="461.59" cy="221.48" r="1.0" fill="#0000ff"/>
<circle cx="453.17" cy="224.67" r="1.0" fill="#ffa500"/>
<circle cx="505.3" cy="184" r="1.0" fill="#ffff00"/>
<circle cx="484.7" cy="201.09" r="1.0" fill="#ff0000"/>
<circle cx="487.06" cy="198.39" r="1.0" fill="#ff0000"/>
<circle cx="501.9" cy="192.69" r="1.0" fill="#ffff00"/>
<circle cx="483.64" cy="203.25" r="1.0" fill="#ff0000"/>
<circle cx="445.3" cy="230.6" r="1.0" fill="#ffff00"/>
<circle cx="494.7" cy="206.7" r="1.0" fill="#0000ff"/>
<circle cx="449.63" cy="225.64" r="1.0" fill="#0000ff"/>
<circle cx="483.79" cy="203.02" r="1.0" fill="#ffa500"/>
<circle cx="465.64" cy="220.61" r="1.0" fill="#ff0000"/>
<circle cx="501.34" cy="191.54" r="1.0" fill="#ffff00"/>
<circle cx="498.53" cy="192.16" r="1.0" fill="#800080"/>
<circle cx="489.02" cy="199.57" r="1.0" fill="#0000ff"/>
<circle cx="459.71" cy="222.25" r="1.0" fill="#800080"/>
<circle cx="492.48" cy="199.37" r="1.0" fill="#ff0000"/>
<circle cx="464.65" cy="214.27" r="1.0" fill="#800080"/>
<circle cx="469.09" cy="212.18" r="1.0" fill="#ff0000"/>
<circle cx="479.48" cy="206.39" r="1.0" fill="#ffa500"/>
<circle cx="507.52" cy="189.79" r="1.0" fill="#ffff00"/>
<circle cx="488.29" cy="203.39" r="1.0" fill="#0000ff"/>
<circle cx="455.5" cy="217.6" r="1.0" fill="#ffff00"/>
<circle cx="476.74" cy="212.17" r="1.0" fill="#800080"/>
<circle cx="460.68" cy="222.75" r="1.0" fill="#ffa500"/>
<circle cx="490.7" cy="191.8" r="1.0" fill="#ffff00"/>
<circle cx="481.95" cy="201.98" r="1.0" fill="#ffa500"/>
<circle cx="510.86" cy="182.96" r="1.0" fill="#800080"/>
<circle cx="481.27" cy="204.44" r="1.0" fill="#ffa500"/>
<circle cx="473.37" cy="214.48" r="1.0" fill="#008000"/>
<circle cx="461.89" cy="220.07" r="1.0" fill="#ffff00"/>
<circle cx="468.18" cy="214.91" r="1.0" fill="#008000"/>
<circle cx="471.29" cy="209.87" r="1.0" fill="#008000"/>
<circle cx="454.15" cy="226.19" r="1.0" fill="#008000"/>
<circle cx="468.1" cy="216.44" r="1.0" fill="#008000"/>
<circle cx="477.8" cy="218" r="1.0" fill="#0000ff"/>
<circle cx="492.3" cy="205.9" r="1.0" fill="#0000ff"/>
<circle cx="486.3" cy="207.84" r="1.0" fill="#ffff00"/>
<circle cx="476.47" cy="212.46" r="1.0" fill="#800080"/>
<circle cx="519.1" cy="178.3" r="1.0" fill="#008000"/>
<circle cx="470.25" cy="213.19" r="1.0" fill="#800080"/>
<circle cx="471.11" cy="214.52" r="1.0" fill="#0000ff"/>
<circle cx="488.88" cy="198.49" r="1.0" fill="#008000"/>
<circle cx="474.2" cy="198.1" r="1.0" fill="#0000ff"/>
<circle cx="465.32" cy="220.45" r="1.0" fill="#008000"/>
<circle cx="485.81" cy="200.24" r="1.0" fill="#008000"/>
<circle cx="504.18" cy="185.65" r="1.0" fill="#800080"/>
<circle cx="501.56" cy="192.04" r="1.0" fill="#ffff00"/>
<circle cx="519.1" cy="176.7" r="1.0" fill="#ffa500"/>
<circle cx="474.76" cy="213.28" r="1.0" fill="#ffa500"/>
<circle cx="506.1" cy="204.3" r="1.0" fill="#0000ff"/>
<circle cx="449.4" cy="218.9" r="1.0" fill="#0000ff"/>
<circle cx="472.08" cy="209.97" r="1.0" fill="#ffff00"/>
<circle cx="497.37" cy="192.45" r="1.0" fill="#800080"/>
<circle cx="474.71" cy="205.39" r="1.0" fill="#0000ff"/>
<circle cx="499.47" cy="191.16" r="1.0" fill="#800080"/>
<circle cx="492.63" cy="193.34" r="1.0" fill="#ffa500"/>
<circle cx="476.56" cy="206.14" r="1.0" fill="#ffff00"/>
<circle cx="498.53" cy="189.82" r="1.0" fill="#0000ff"/>
<circle cx="450.2" cy="220.5" r="1.0" fill="#0000ff"/>
<rect x="412.4" y="158.6" width="129.2" height="100.8" fill="none" stroke="#b4b4b4" stroke-width="0.75"/>
<line x1="412.4" y1="259.4" x2="412.4" y2="260.6" stroke="#999" stroke-width="0.4"/>
<text x="412.4" y="265" class="tk" text-anchor="middle">0.0</text>
<line x1="411.2" y1="259.4" x2="412.4" y2="259.4" stroke="#999" stroke-width="0.4"/>
<text x="410.6" y="261" class="tk" text-anchor="end">0.0</text>
<line x1="438.24" y1="259.4" x2="438.24" y2="260.6" stroke="#999" stroke-width="0.4"/>
<text x="438.24" y="265" class="tk" text-anchor="middle">0.2</text>
<line x1="411.2" y1="239.32" x2="412.4" y2="239.32" stroke="#999" stroke-width="0.4"/>
<text x="410.6" y="240.92" class="tk" text-anchor="end">0.2</text>
<line x1="464.08" y1="259.4" x2="464.08" y2="260.6" stroke="#999" stroke-width="0.4"/>
<text x="464.08" y="265" class="tk" text-anchor="middle">0.4</text>
<line x1="411.2" y1="219.24" x2="412.4" y2="219.24" stroke="#999" stroke-width="0.4"/>
<text x="410.6" y="220.84" class="tk" text-anchor="end">0.4</text>
<line x1="489.92" y1="259.4" x2="489.92" y2="260.6" stroke="#999" stroke-width="0.4"/>
<text x="489.92" y="265" class="tk" text-anchor="middle">0.6</text>
<line x1="411.2" y1="199.16" x2="412.4" y2="199.16" stroke="#999" stroke-width="0.4"/>
<text x="410.6" y="200.76" class="tk" text-anchor="end">0.6</text>
<line x1="515.76" y1="259.4" x2="515.76" y2="260.6" stroke="#999" stroke-width="0.4"/>
<text x="515.76" y="265" class="tk" text-anchor="middle">0.8</text>
<line x1="411.2" y1="179.08" x2="412.4" y2="179.08" stroke="#999" stroke-width="0.4"/>
<text x="410.6" y="180.68" class="tk" text-anchor="end">0.8</text>
<line x1="541.6" y1="259.4" x2="541.6" y2="260.6" stroke="#999" stroke-width="0.4"/>
<text x="541.6" y="265" class="tk" text-anchor="middle">1.0</text>
<line x1="411.2" y1="159" x2="412.4" y2="159" stroke="#999" stroke-width="0.4"/>
<text x="410.6" y="160.6" class="tk" text-anchor="end">1.0</text>
<text x="477" y="271.3" class="lb" text-anchor="middle">Normalized Actual Stress <tspan font-style="italic">σ</tspan><tspan font-size="3.7" dy="1.3">2</tspan></text>
<text transform="translate(402,210.1) rotate(-90)" class="lb" text-anchor="middle">Normalized Predicted Stress <tspan font-style="italic">σ</tspan><tspan font-size="3.7" dy="1.3">2</tspan></text>
<rect x="421.6" y="162.4" width="1.6" height="1.6" fill="#ff0000"/>
<text x="431" y="165.1" class="lg">Asp1:2</text>
<rect x="421.6" y="169.15" width="1.6" height="1.6" fill="#008000"/>
<text x="431" y="171.85" class="lg">Asp1:4</text>
<rect x="421.6" y="175.9" width="1.6" height="1.6" fill="#ffa500"/>
<text x="431" y="178.6" class="lg">Asp1:6</text>
<rect x="421.6" y="182.65" width="1.6" height="1.6" fill="#800080"/>
<text x="431" y="185.35" class="lg">Asp1:8</text>
<rect x="421.6" y="189.4" width="1.6" height="1.6" fill="#0000ff"/>
<text x="431" y="192.1" class="lg">gg</text>
<rect x="421.6" y="196.15" width="1.6" height="1.6" fill="#ffff00"/>
<text x="431" y="198.85" class="lg">Voronoi</text>
<text y="234.9" class="tx"><tspan x="496.6" font-style="italic">R</tspan><tspan x="500.9" y="233.4" font-size="3.8">2</tspan><tspan x="504.6" y="234.9">=</tspan><tspan x="509" textLength="17.2" lengthAdjust="spacingAndGlyphs">0.8753</tspan></text>
<text y="242.9" class="tx"><tspan x="496.6" textLength="14" lengthAdjust="spacingAndGlyphs">RMSE</tspan><tspan x="511.8">=</tspan><tspan x="516.6" textLength="18" lengthAdjust="spacingAndGlyphs">0.0496</tspan></text>
<text x="470" y="288.4" class="cap b" text-anchor="middle" style='font-family:"Liberation Serif", serif'><tspan font-weight="normal" stroke-width="0">(</tspan>f<tspan font-weight="normal" stroke-width="0">)</tspan></text>
<line x1="31.6" y1="402.2" x2="148.6" y2="311.2" stroke="#2a2a2a" stroke-width="0.55"/>
<circle cx="120.77" cy="332.72" r="0.85" fill="#008000"/>
<circle cx="116.87" cy="336.43" r="0.85" fill="#ff0000"/>
<circle cx="99.72" cy="348.79" r="0.85" fill="#800080"/>
<circle cx="51.64" cy="386.2" r="0.85" fill="#ffff00"/>
<circle cx="42.2" cy="394.4" r="1.0" fill="#0000ff"/>
<circle cx="89.06" cy="357.04" r="0.85" fill="#ff0000"/>
<circle cx="63.23" cy="377.37" r="0.85" fill="#800080"/>
<circle cx="52.04" cy="386.02" r="0.85" fill="#ffa500"/>
<circle cx="112.93" cy="338.94" r="0.85" fill="#ff0000"/>
<circle cx="124.99" cy="329.19" r="0.85" fill="#ff0000"/>
<circle cx="45.57" cy="391.33" r="0.85" fill="#ff0000"/>
<circle cx="92.67" cy="355.22" r="0.85" fill="#ff0000"/>
<circle cx="31.4" cy="402.4" r="1.0" fill="#0000ff"/>
<circle cx="54.63" cy="384.84" r="0.85" fill="#008000"/>
<circle cx="101.17" cy="347.93" r="0.85" fill="#ffa500"/>
<circle cx="54.09" cy="385" r="0.85" fill="#0000ff"/>
<circle cx="52.58" cy="385.46" r="0.85" fill="#ffa500"/>
<circle cx="109.03" cy="342.4" r="0.85" fill="#800080"/>
<circle cx="100.35" cy="348.53" r="0.85" fill="#800080"/>
<circle cx="107.72" cy="343.44" r="0.85" fill="#800080"/>
<circle cx="105.6" cy="344.39" r="0.85" fill="#008000"/>
<circle cx="64.73" cy="376.37" r="0.85" fill="#008000"/>
<circle cx="76.68" cy="367.69" r="0.85" fill="#800080"/>
<circle cx="102.13" cy="347.96" r="0.85" fill="#ff0000"/>
<circle cx="44.21" cy="392.63" r="0.85" fill="#ffa500"/>
<circle cx="61.09" cy="379.52" r="0.85" fill="#ff0000"/>
<circle cx="46.77" cy="390.08" r="0.85" fill="#008000"/>
<circle cx="116.51" cy="336.54" r="0.85" fill="#ffa500"/>
<circle cx="54.63" cy="384.12" r="0.85" fill="#008000"/>
<circle cx="72.57" cy="370.13" r="0.85" fill="#ff0000"/>
<circle cx="96.24" cy="352.12" r="0.85" fill="#800080"/>
<circle cx="140.4" cy="317.8" r="1.0" fill="#0000ff"/>
<circle cx="47.98" cy="389.48" r="0.85" fill="#ffa500"/>
<circle cx="123.73" cy="330.34" r="0.85" fill="#0000ff"/>
<circle cx="53.49" cy="385.03" r="0.85" fill="#800080"/>
<circle cx="55.63" cy="383.25" r="0.85" fill="#008000"/>
<circle cx="69.75" cy="372.48" r="0.85" fill="#ff0000"/>
<circle cx="58.37" cy="381.21" r="0.85" fill="#800080"/>
<circle cx="92.93" cy="355.22" r="0.85" fill="#ffa500"/>
<circle cx="84.61" cy="361.19" r="0.85" fill="#ff0000"/>
<circle cx="75" cy="368.1" r="0.85" fill="#ff0000"/>
<circle cx="71.86" cy="370.51" r="0.85" fill="#800080"/>
<circle cx="79.64" cy="364.88" r="0.85" fill="#ffa500"/>
<circle cx="124.15" cy="329.51" r="0.85" fill="#ff0000"/>
<circle cx="116.28" cy="336.54" r="0.85" fill="#008000"/>
<circle cx="129.35" cy="325.81" r="0.85" fill="#ff0000"/>
<circle cx="102.04" cy="347.36" r="0.85" fill="#ff0000"/>
<circle cx="47.33" cy="390.49" r="0.85" fill="#ff0000"/>
<circle cx="56.55" cy="382.5" r="0.85" fill="#800080"/>
<circle cx="128.45" cy="327.13" r="0.85" fill="#800080"/>
<circle cx="111.96" cy="339.54" r="0.85" fill="#ff0000"/>
<circle cx="124.61" cy="329.79" r="0.85" fill="#ff0000"/>
<circle cx="46.47" cy="390.44" r="0.85" fill="#ff0000"/>
<circle cx="77.03" cy="366.66" r="0.85" fill="#ffa500"/>
<circle cx="130.3" cy="325.56" r="0.85" fill="#ffff00"/>
<circle cx="97.9" cy="351.11" r="0.85" fill="#008000"/>
<circle cx="119.42" cy="334.19" r="0.85" fill="#008000"/>
<circle cx="46.69" cy="390.13" r="0.85" fill="#ffa500"/>
<circle cx="61.22" cy="379.46" r="0.85" fill="#ff0000"/>
<circle cx="99.2" cy="349.57" r="0.85" fill="#ffff00"/>
<circle cx="65.73" cy="375.62" r="0.85" fill="#ff0000"/>
<circle cx="116.27" cy="336.49" r="0.85" fill="#ff0000"/>
<circle cx="89.24" cy="357.32" r="0.85" fill="#ff0000"/>
<circle cx="45.28" cy="391.92" r="0.85" fill="#ff0000"/>
<circle cx="49.26" cy="387.57" r="0.85" fill="#ff0000"/>
<circle cx="115.67" cy="336.79" r="0.85" fill="#800080"/>
<circle cx="51.01" cy="386.87" r="0.85" fill="#ff0000"/>
<circle cx="86.37" cy="359.73" r="0.85" fill="#800080"/>
<circle cx="111.55" cy="340.16" r="0.85" fill="#ffa500"/>
<circle cx="92.95" cy="354.42" r="0.85" fill="#ffa500"/>
<circle cx="109.35" cy="341.84" r="0.85" fill="#ff0000"/>
<circle cx="111.63" cy="340.17" r="0.85" fill="#ff0000"/>
<circle cx="65.53" cy="376.17" r="0.85" fill="#800080"/>
<circle cx="44.55" cy="392.13" r="0.85" fill="#800080"/>
<circle cx="104.75" cy="345.45" r="0.85" fill="#ff0000"/>
<circle cx="111.54" cy="339.75" r="0.85" fill="#0000ff"/>
<circle cx="93.8" cy="353.58" r="0.85" fill="#800080"/>
<circle cx="99.4" cy="349.43" r="0.85" fill="#800080"/>
<circle cx="86.73" cy="358.59" r="0.85" fill="#ffa500"/>
<circle cx="67.73" cy="374.83" r="0.85" fill="#ff0000"/>
<circle cx="127.2" cy="327.55" r="0.85" fill="#800080"/>
<circle cx="51.48" cy="387.08" r="0.85" fill="#0000ff"/>
<circle cx="118.05" cy="335.23" r="0.85" fill="#800080"/>
<circle cx="114.08" cy="338.9" r="0.85" fill="#008000"/>
<circle cx="50.31" cy="387.29" r="0.85" fill="#008000"/>
<circle cx="66.87" cy="375.18" r="0.85" fill="#ff0000"/>
<circle cx="50.91" cy="386.53" r="0.85" fill="#800080"/>
<circle cx="48.75" cy="388.69" r="0.85" fill="#ff0000"/>
<circle cx="60.02" cy="380.76" r="0.85" fill="#800080"/>
<circle cx="53.31" cy="385.36" r="0.85" fill="#ffff00"/>
<circle cx="129.06" cy="326.34" r="0.85" fill="#ffa500"/>
<circle cx="118.75" cy="334.34" r="0.85" fill="#0000ff"/>
<circle cx="109.72" cy="341.55" r="0.85" fill="#800080"/>
<circle cx="125.77" cy="329.21" r="0.85" fill="#ffa500"/>
<circle cx="85.24" cy="360.59" r="0.85" fill="#008000"/>
<circle cx="75.31" cy="368.22" r="0.85" fill="#ff0000"/>
<circle cx="91.95" cy="355.33" r="0.85" fill="#0000ff"/>
<circle cx="117.49" cy="335.46" r="0.85" fill="#ffa500"/>
<circle cx="93.78" cy="353.66" r="0.85" fill="#0000ff"/>
<circle cx="81.8" cy="362.8" r="0.85" fill="#ffa500"/>
<circle cx="74.1" cy="370.18" r="0.85" fill="#ff0000"/>
<circle cx="84.14" cy="361.17" r="0.85" fill="#800080"/>
<circle cx="62.58" cy="378.32" r="0.85" fill="#ff0000"/>
<circle cx="87.61" cy="358.75" r="0.85" fill="#ffff00"/>
<circle cx="122.71" cy="330.56" r="0.85" fill="#800080"/>
<circle cx="63.21" cy="377.59" r="0.85" fill="#ffa500"/>
<circle cx="60.25" cy="380.29" r="0.85" fill="#ff0000"/>
<circle cx="95.12" cy="352.23" r="0.85" fill="#800080"/>
<circle cx="86.85" cy="359.69" r="0.85" fill="#0000ff"/>
<circle cx="105.58" cy="345.24" r="0.85" fill="#ff0000"/>
<circle cx="67.5" cy="374.42" r="0.85" fill="#ff0000"/>
<circle cx="84.65" cy="360.41" r="0.85" fill="#800080"/>
<circle cx="105.37" cy="345.32" r="0.85" fill="#ff0000"/>
<circle cx="112.66" cy="339.15" r="0.85" fill="#ffa500"/>
<circle cx="117.25" cy="335.83" r="0.85" fill="#ff0000"/>
<circle cx="50.17" cy="387.11" r="0.85" fill="#ffff00"/>
<circle cx="118.25" cy="335.34" r="0.85" fill="#0000ff"/>
<circle cx="87.45" cy="359.15" r="0.85" fill="#ffa500"/>
<circle cx="115.21" cy="337.71" r="0.85" fill="#ff0000"/>
<circle cx="93.57" cy="353.26" r="0.85" fill="#ff0000"/>
<circle cx="70.97" cy="372.41" r="0.85" fill="#ff0000"/>
<circle cx="89.48" cy="357.62" r="0.85" fill="#ff0000"/>
<circle cx="94.01" cy="353.79" r="0.85" fill="#008000"/>
<circle cx="64.17" cy="376.4" r="0.85" fill="#008000"/>
<circle cx="48.59" cy="389" r="0.85" fill="#ff0000"/>
<circle cx="51.46" cy="386.62" r="0.85" fill="#ff0000"/>
<circle cx="47.56" cy="390.13" r="0.85" fill="#ffa500"/>
<circle cx="90.31" cy="357" r="0.85" fill="#ffa500"/>
<circle cx="101.79" cy="347.17" r="0.85" fill="#0000ff"/>
<circle cx="113.49" cy="338.55" r="0.85" fill="#800080"/>
<circle cx="104.55" cy="345.66" r="0.85" fill="#ffa500"/>
<circle cx="63.16" cy="377.56" r="0.85" fill="#800080"/>
<circle cx="112.03" cy="340.04" r="0.85" fill="#ff0000"/>
<circle cx="129.49" cy="325.95" r="0.85" fill="#008000"/>
<circle cx="92.78" cy="354.25" r="0.85" fill="#ffa500"/>
<circle cx="49.65" cy="387.77" r="0.85" fill="#0000ff"/>
<circle cx="53.36" cy="385.21" r="0.85" fill="#ffa500"/>
<circle cx="57.2" cy="382.29" r="0.85" fill="#008000"/>
<circle cx="66.5" cy="374.58" r="0.85" fill="#ff0000"/>
<circle cx="84.96" cy="360.3" r="0.85" fill="#800080"/>
<circle cx="54.02" cy="384.8" r="0.85" fill="#800080"/>
<circle cx="56.16" cy="382.44" r="0.85" fill="#ffa500"/>
<circle cx="101.86" cy="347.48" r="0.85" fill="#ff0000"/>
<circle cx="109.51" cy="342.25" r="0.85" fill="#0000ff"/>
<circle cx="115.26" cy="337.03" r="0.85" fill="#008000"/>
<circle cx="63.09" cy="377.53" r="0.85" fill="#800080"/>
<circle cx="67.02" cy="375.68" r="0.85" fill="#0000ff"/>
<circle cx="70.25" cy="372.05" r="0.85" fill="#ffa500"/>
<circle cx="63.82" cy="377.02" r="0.85" fill="#ff0000"/>
<circle cx="129.66" cy="326.63" r="0.85" fill="#008000"/>
<circle cx="110.73" cy="341.63" r="0.85" fill="#008000"/>
<circle cx="100.7" cy="348.47" r="0.85" fill="#ff0000"/>
<circle cx="67.02" cy="374.01" r="0.85" fill="#ffa500"/>
<circle cx="78.44" cy="365.43" r="0.85" fill="#ff0000"/>
<circle cx="48.31" cy="389.63" r="0.85" fill="#ffa500"/>
<circle cx="48.03" cy="389.51" r="0.85" fill="#800080"/>
<circle cx="64.19" cy="377.14" r="0.85" fill="#ff0000"/>
<circle cx="126.15" cy="328.99" r="0.85" fill="#0000ff"/>
<circle cx="84.81" cy="360.62" r="0.85" fill="#ff0000"/>
<circle cx="68.79" cy="373.2" r="0.85" fill="#ffa500"/>
<circle cx="79.75" cy="365.24" r="0.85" fill="#ff0000"/>
<circle cx="62.43" cy="378.07" r="0.85" fill="#800080"/>
<circle cx="125.62" cy="328.26" r="0.85" fill="#008000"/>
<circle cx="82.89" cy="362.35" r="0.85" fill="#008000"/>
<circle cx="88.66" cy="357.46" r="0.85" fill="#800080"/>
<circle cx="66.5" cy="374.95" r="0.85" fill="#ffa500"/>
<circle cx="52.96" cy="385.37" r="0.85" fill="#ffa500"/>
<circle cx="126.89" cy="327.34" r="0.85" fill="#ffa500"/>
<circle cx="67.03" cy="374.85" r="0.85" fill="#800080"/>
<circle cx="107.28" cy="343.65" r="0.85" fill="#ffff00"/>
<circle cx="98.37" cy="349.88" r="0.85" fill="#0000ff"/>
<circle cx="117.63" cy="335.5" r="0.85" fill="#ff0000"/>
<circle cx="117.35" cy="335.26" r="0.85" fill="#ff0000"/>
<circle cx="52.14" cy="386.44" r="0.85" fill="#008000"/>
<circle cx="108.21" cy="342.93" r="0.85" fill="#ff0000"/>
<circle cx="118.36" cy="334.1" r="0.85" fill="#ff0000"/>
<circle cx="129.04" cy="326.58" r="0.85" fill="#800080"/>
<circle cx="79.31" cy="364.87" r="0.85" fill="#0000ff"/>
<circle cx="87.96" cy="358.26" r="0.85" fill="#008000"/>
<circle cx="114.32" cy="338.42" r="0.85" fill="#ffa500"/>
<circle cx="73.67" cy="369.38" r="0.85" fill="#ffa500"/>
<circle cx="62.37" cy="377.9" r="0.85" fill="#0000ff"/>
<circle cx="53.54" cy="385.47" r="0.85" fill="#008000"/>
<circle cx="141.9" cy="316.8" r="1.0" fill="#ffa500"/>
<circle cx="125.53" cy="329" r="0.85" fill="#ffa500"/>
<circle cx="75.37" cy="368.79" r="0.85" fill="#008000"/>
<circle cx="109.43" cy="342.21" r="0.85" fill="#800080"/>
<circle cx="119.49" cy="334.54" r="0.85" fill="#800080"/>
<circle cx="60.26" cy="380.15" r="0.85" fill="#ff0000"/>
<circle cx="65.7" cy="375.32" r="0.85" fill="#008000"/>
<circle cx="91.23" cy="355.79" r="0.85" fill="#ff0000"/>
<circle cx="106.36" cy="344.95" r="0.85" fill="#008000"/>
<circle cx="107.96" cy="342.42" r="0.85" fill="#008000"/>
<circle cx="90.82" cy="356.13" r="0.85" fill="#800080"/>
<circle cx="90.68" cy="355.95" r="0.85" fill="#ffa500"/>
<circle cx="88.82" cy="357.71" r="0.85" fill="#ff0000"/>
<circle cx="104.28" cy="346.14" r="0.85" fill="#ffa500"/>
<circle cx="76.96" cy="366.76" r="0.85" fill="#ff0000"/>
<circle cx="88.74" cy="357.97" r="0.85" fill="#0000ff"/>
<circle cx="59.44" cy="380.19" r="0.85" fill="#008000"/>
<circle cx="44.75" cy="391.87" r="0.85" fill="#008000"/>
<circle cx="56.89" cy="382.63" r="0.85" fill="#800080"/>
<circle cx="75.9" cy="368.41" r="0.85" fill="#ffa500"/>
<circle cx="95.56" cy="352.01" r="0.85" fill="#0000ff"/>
<circle cx="64.18" cy="376.88" r="0.85" fill="#800080"/>
<circle cx="119.84" cy="333.97" r="0.85" fill="#ff0000"/>
<circle cx="94.03" cy="353.96" r="0.85" fill="#ff0000"/>
<circle cx="47.47" cy="389.36" r="0.85" fill="#0000ff"/>
<circle cx="91.58" cy="355.25" r="0.85" fill="#008000"/>
<circle cx="63.53" cy="377.71" r="0.85" fill="#ffa500"/>
<circle cx="85.37" cy="360.26" r="0.85" fill="#ffa500"/>
<circle cx="116.94" cy="335.34" r="0.85" fill="#0000ff"/>
<circle cx="50.2" cy="387.79" r="0.85" fill="#ffa500"/>
<circle cx="62.82" cy="377.91" r="0.85" fill="#800080"/>
<circle cx="84.08" cy="361.06" r="0.85" fill="#008000"/>
<circle cx="105.44" cy="345.35" r="0.85" fill="#0000ff"/>
<circle cx="80.32" cy="364.26" r="0.85" fill="#ffa500"/>
<circle cx="99.32" cy="349.36" r="0.85" fill="#008000"/>
<circle cx="111.33" cy="339.75" r="0.85" fill="#ff0000"/>
<circle cx="89.79" cy="356.93" r="0.85" fill="#ffa500"/>
<circle cx="73.22" cy="370.37" r="0.85" fill="#ffa500"/>
<circle cx="126.06" cy="328.27" r="0.85" fill="#ffa500"/>
<circle cx="81.93" cy="363.45" r="0.85" fill="#ffa500"/>
<circle cx="116.91" cy="335.71" r="0.85" fill="#800080"/>
<circle cx="51.24" cy="386.37" r="0.85" fill="#ff0000"/>
<circle cx="58.07" cy="381.1" r="0.85" fill="#ff0000"/>
<circle cx="83.06" cy="362.72" r="0.85" fill="#008000"/>
<circle cx="67.34" cy="374.3" r="0.85" fill="#0000ff"/>
<circle cx="70.07" cy="371.66" r="0.85" fill="#ff0000"/>
<circle cx="66.03" cy="375.32" r="0.85" fill="#800080"/>
<circle cx="80.64" cy="364.37" r="0.85" fill="#ff0000"/>
<circle cx="67.81" cy="373.65" r="0.85" fill="#ff0000"/>
<circle cx="121.79" cy="332.32" r="0.85" fill="#008000"/>
<circle cx="103.49" cy="346.88" r="0.85" fill="#ffff00"/>
<circle cx="123.14" cy="331.59" r="0.85" fill="#0000ff"/>
<circle cx="78.33" cy="366.06" r="0.85" fill="#008000"/>
<circle cx="128.58" cy="326.74" r="0.85" fill="#ffa500"/>
<circle cx="68.57" cy="373.76" r="0.85" fill="#0000ff"/>
<circle cx="59.11" cy="380.37" r="0.85" fill="#800080"/>
<circle cx="75.28" cy="368.16" r="0.85" fill="#008000"/>
<circle cx="113.35" cy="338.62" r="0.85" fill="#008000"/>
<circle cx="114.94" cy="337.82" r="0.85" fill="#ffa500"/>
<circle cx="45.16" cy="391.43" r="0.85" fill="#ffa500"/>
<circle cx="57.25" cy="382.34" r="0.85" fill="#800080"/>
<circle cx="113.59" cy="338.41" r="0.85" fill="#0000ff"/>
<circle cx="107.31" cy="343.19" r="0.85" fill="#ffa500"/>
<circle cx="88.47" cy="357.7" r="0.85" fill="#800080"/>
<circle cx="70.64" cy="372.33" r="0.85" fill="#ff0000"/>
<circle cx="114.97" cy="336.8" r="0.85" fill="#ff0000"/>
<circle cx="145.5" cy="314.4" r="1.0" fill="#008000"/>
<circle cx="53.43" cy="385.66" r="0.85" fill="#008000"/>
<circle cx="113.66" cy="339.1" r="0.85" fill="#008000"/>
<circle cx="73.15" cy="369.91" r="0.85" fill="#ff0000"/>
<circle cx="81.99" cy="362.81" r="0.85" fill="#008000"/>
<circle cx="66.15" cy="375.07" r="0.85" fill="#ffa500"/>
<circle cx="77.39" cy="366.45" r="0.85" fill="#0000ff"/>
<circle cx="93.69" cy="354.39" r="0.85" fill="#ff0000"/>
<circle cx="69.04" cy="373.62" r="0.85" fill="#ffa500"/>
<circle cx="46.94" cy="390.48" r="0.85" fill="#800080"/>
<circle cx="78.61" cy="365.52" r="0.85" fill="#ffa500"/>
<circle cx="109.66" cy="341.05" r="0.85" fill="#0000ff"/>
<circle cx="125.22" cy="328.95" r="0.85" fill="#008000"/>
<circle cx="112.63" cy="338.68" r="0.85" fill="#ffa500"/>
<circle cx="88.14" cy="358.05" r="0.85" fill="#0000ff"/>
<circle cx="115.47" cy="336.2" r="0.85" fill="#ffa500"/>
<circle cx="100.52" cy="348.9" r="0.85" fill="#ff0000"/>
<circle cx="74.41" cy="369.2" r="0.85" fill="#ff0000"/>
<circle cx="126.24" cy="327.92" r="0.85" fill="#ffa500"/>
<circle cx="72.53" cy="371.19" r="0.85" fill="#008000"/>
<circle cx="74.98" cy="368.45" r="0.85" fill="#008000"/>
<circle cx="108.27" cy="342.03" r="0.85" fill="#ff0000"/>
<circle cx="50.86" cy="386.78" r="0.85" fill="#008000"/>
<circle cx="102.9" cy="346.51" r="0.85" fill="#ffa500"/>
<circle cx="48.5" cy="389.08" r="0.85" fill="#ffa500"/>
<circle cx="81.41" cy="363.44" r="0.85" fill="#800080"/>
<circle cx="88.86" cy="357.66" r="0.85" fill="#ffa500"/>
<circle cx="129.2" cy="326.4" r="0.85" fill="#ff0000"/>
<circle cx="46.87" cy="390.06" r="0.85" fill="#800080"/>
<circle cx="124.61" cy="329.62" r="0.85" fill="#800080"/>
<circle cx="53.44" cy="385.87" r="0.85" fill="#800080"/>
<circle cx="76.63" cy="366.99" r="0.85" fill="#008000"/>
<circle cx="103.78" cy="345.65" r="0.85" fill="#ff0000"/>
<circle cx="75.02" cy="368.3" r="0.85" fill="#0000ff"/>
<circle cx="115.09" cy="337.52" r="0.85" fill="#ffa500"/>
<circle cx="87.01" cy="358.99" r="0.85" fill="#ffa500"/>
<circle cx="92.61" cy="354.75" r="0.85" fill="#0000ff"/>
<circle cx="97.8" cy="351.14" r="0.85" fill="#008000"/>
<circle cx="106.56" cy="344.58" r="0.85" fill="#ffa500"/>
<circle cx="93.28" cy="354.53" r="0.85" fill="#008000"/>
<circle cx="94.06" cy="354.01" r="0.85" fill="#800080"/>
<circle cx="125.72" cy="329.34" r="0.85" fill="#ff0000"/>
<circle cx="67.53" cy="374.76" r="0.85" fill="#ff0000"/>
<circle cx="116.9" cy="336.54" r="0.85" fill="#ff0000"/>
<circle cx="113.1" cy="338.78" r="0.85" fill="#0000ff"/>
<circle cx="71.53" cy="371.23" r="0.85" fill="#ffff00"/>
<circle cx="72.38" cy="370.3" r="0.85" fill="#ffa500"/>
<circle cx="45.26" cy="391.04" r="0.85" fill="#ffff00"/>
<circle cx="105.53" cy="344.99" r="0.85" fill="#0000ff"/>
<circle cx="68.76" cy="373.61" r="0.85" fill="#ff0000"/>
<circle cx="80.91" cy="363.6" r="0.85" fill="#ffa500"/>
<circle cx="49.98" cy="388.3" r="0.85" fill="#0000ff"/>
<circle cx="118.1" cy="334.13" r="0.85" fill="#800080"/>
<circle cx="67.23" cy="374.89" r="0.85" fill="#ffa500"/>
<circle cx="54.91" cy="384.12" r="0.85" fill="#ff0000"/>
<circle cx="53.92" cy="384.31" r="0.85" fill="#ff0000"/>
<circle cx="114.36" cy="337.56" r="0.85" fill="#008000"/>
<circle cx="79.65" cy="365.24" r="0.85" fill="#ff0000"/>
<circle cx="82.39" cy="362.49" r="0.85" fill="#800080"/>
<circle cx="132.6" cy="322.8" r="1.0" fill="#ffa500"/>
<circle cx="62.87" cy="377.56" r="0.85" fill="#0000ff"/>
<circle cx="45.34" cy="391.8" r="0.85" fill="#ffa500"/>
<circle cx="55.23" cy="383.07" r="0.85" fill="#ffa500"/>
<circle cx="82.43" cy="362.87" r="0.85" fill="#ff0000"/>
<circle cx="87.1" cy="359.75" r="0.85" fill="#ff0000"/>
<circle cx="138" cy="317.4" r="1.0" fill="#0000ff"/>
<circle cx="113.33" cy="338.67" r="0.85" fill="#ffa500"/>
<circle cx="63.92" cy="376.94" r="0.85" fill="#ff0000"/>
<circle cx="110.37" cy="341.46" r="0.85" fill="#008000"/>
<circle cx="57.33" cy="382.35" r="0.85" fill="#ff0000"/>
<circle cx="128.2" cy="325.2" r="1.0" fill="#ffff00"/>
<circle cx="104.73" cy="345.13" r="0.85" fill="#ffff00"/>
<circle cx="102.08" cy="347.03" r="0.85" fill="#ffa500"/>
<circle cx="75.77" cy="368.28" r="0.85" fill="#0000ff"/>
<circle cx="94.93" cy="353.01" r="0.85" fill="#008000"/>
<circle cx="83.04" cy="363.69" r="0.85" fill="#0000ff"/>
<circle cx="78.99" cy="365.13" r="0.85" fill="#ff0000"/>
<circle cx="94.15" cy="353.85" r="0.85" fill="#ff0000"/>
<circle cx="114.63" cy="337.97" r="0.85" fill="#ffa500"/>
<circle cx="53.38" cy="384.97" r="0.85" fill="#008000"/>
<circle cx="130.8" cy="322.8" r="1.0" fill="#ff0000"/>
<circle cx="119.92" cy="332.99" r="0.85" fill="#ffa500"/>
<circle cx="122.43" cy="331.53" r="0.85" fill="#0000ff"/>
<circle cx="90.79" cy="356.15" r="0.85" fill="#ffa500"/>
<circle cx="78.94" cy="365.69" r="0.85" fill="#ff0000"/>
<circle cx="65.22" cy="375.98" r="0.85" fill="#800080"/>
<circle cx="80.88" cy="364.15" r="0.85" fill="#ffa500"/>
<circle cx="96.2" cy="352.14" r="0.85" fill="#008000"/>
<circle cx="144.6" cy="315" r="1.0" fill="#0000ff"/>
<circle cx="123.62" cy="330.53" r="0.85" fill="#ffff00"/>
<circle cx="47.17" cy="390.4" r="0.85" fill="#ffa500"/>
<circle cx="84.18" cy="360.64" r="0.85" fill="#800080"/>
<circle cx="47.4" cy="390.16" r="0.85" fill="#ff0000"/>
<circle cx="101.94" cy="347.08" r="0.85" fill="#0000ff"/>
<circle cx="67.26" cy="373.63" r="0.85" fill="#ffff00"/>
<circle cx="87.41" cy="359.28" r="0.85" fill="#800080"/>
<circle cx="106.4" cy="344.65" r="0.85" fill="#ff0000"/>
<circle cx="112.79" cy="339.08" r="0.85" fill="#0000ff"/>
<circle cx="79.47" cy="364.55" r="0.85" fill="#ff0000"/>
<circle cx="107.36" cy="343.6" r="0.85" fill="#ffa500"/>
<circle cx="92.17" cy="354.83" r="0.85" fill="#800080"/>
<circle cx="126.6" cy="328.57" r="0.85" fill="#008000"/>
<circle cx="50.99" cy="387.61" r="0.85" fill="#ffff00"/>
<circle cx="81.91" cy="363.16" r="0.85" fill="#ff0000"/>
<circle cx="114.46" cy="336.96" r="0.85" fill="#ff0000"/>
<circle cx="105.99" cy="343.92" r="0.85" fill="#0000ff"/>
<circle cx="53.17" cy="385.21" r="0.85" fill="#0000ff"/>
<circle cx="45.54" cy="390.92" r="0.85" fill="#0000ff"/>
<circle cx="71.64" cy="370.56" r="0.85" fill="#ffa500"/>
<circle cx="64.53" cy="376.67" r="0.85" fill="#800080"/>
<circle cx="83.04" cy="362.17" r="0.85" fill="#ff0000"/>
<circle cx="122.59" cy="331.76" r="0.85" fill="#ff0000"/>
<circle cx="87.36" cy="358.18" r="0.85" fill="#ff0000"/>
<circle cx="101.4" cy="347.37" r="0.85" fill="#ff0000"/>
<circle cx="51.5" cy="387.21" r="0.85" fill="#ff0000"/>
<circle cx="94.19" cy="353.92" r="0.85" fill="#ff0000"/>
<circle cx="89.78" cy="356.79" r="0.85" fill="#ffff00"/>
<circle cx="55.37" cy="383.84" r="0.85" fill="#ff0000"/>
<circle cx="72.57" cy="370.73" r="0.85" fill="#800080"/>
<circle cx="84.98" cy="360.71" r="0.85" fill="#008000"/>
<circle cx="70.76" cy="371.47" r="0.85" fill="#800080"/>
<circle cx="72.91" cy="370.32" r="0.85" fill="#ffa500"/>
<circle cx="50.85" cy="386.83" r="0.85" fill="#ff0000"/>
<circle cx="66.72" cy="374.47" r="0.85" fill="#ff0000"/>
<circle cx="62.12" cy="378.63" r="0.85" fill="#008000"/>
<circle cx="93.47" cy="354.33" r="0.85" fill="#ffa500"/>
<circle cx="110.65" cy="341.02" r="0.85" fill="#ff0000"/>
<circle cx="75.81" cy="368.22" r="0.85" fill="#0000ff"/>
<circle cx="97.99" cy="350.42" r="0.85" fill="#ffff00"/>
<circle cx="148.6" cy="311.4" r="1.0" fill="#ff0000"/>
<circle cx="123.25" cy="331.01" r="0.85" fill="#ff0000"/>
<circle cx="120.79" cy="332.51" r="0.85" fill="#ffa500"/>
<circle cx="66.89" cy="373.97" r="0.85" fill="#ff0000"/>
<circle cx="128.26" cy="326.74" r="0.85" fill="#008000"/>
<circle cx="82.44" cy="363.2" r="0.85" fill="#800080"/>
<circle cx="85.31" cy="360.6" r="0.85" fill="#ffa500"/>
<circle cx="102.46" cy="346.05" r="0.85" fill="#800080"/>
<circle cx="48.02" cy="389.38" r="0.85" fill="#ff0000"/>
<circle cx="92.37" cy="354.24" r="0.85" fill="#800080"/>
<circle cx="123.03" cy="330.64" r="0.85" fill="#008000"/>
<circle cx="64.81" cy="376.66" r="0.85" fill="#0000ff"/>
<circle cx="104.9" cy="345.49" r="0.85" fill="#0000ff"/>
<circle cx="98.31" cy="351.09" r="0.85" fill="#0000ff"/>
<circle cx="85.17" cy="360.18" r="0.85" fill="#ffff00"/>
<circle cx="108.51" cy="342.95" r="0.85" fill="#0000ff"/>
<circle cx="121.83" cy="332.31" r="0.85" fill="#0000ff"/>
<circle cx="75.49" cy="367.86" r="0.85" fill="#ff0000"/>
<circle cx="79.59" cy="365.17" r="0.85" fill="#800080"/>
<circle cx="93.56" cy="353.78" r="0.85" fill="#800080"/>
<circle cx="70.18" cy="372.2" r="0.85" fill="#0000ff"/>
<circle cx="121.08" cy="331.37" r="0.85" fill="#ff0000"/>
<circle cx="119.65" cy="334.13" r="0.85" fill="#008000"/>
<circle cx="65.37" cy="375.47" r="0.85" fill="#ff0000"/>
<circle cx="86.53" cy="359.18" r="0.85" fill="#800080"/>
<circle cx="74.01" cy="368.4" r="0.85" fill="#800080"/>
<circle cx="44.22" cy="392.93" r="0.85" fill="#ff0000"/>
<circle cx="119.91" cy="333.27" r="0.85" fill="#0000ff"/>
<circle cx="108.31" cy="343.36" r="0.85" fill="#ff0000"/>
<circle cx="70.24" cy="372.45" r="0.85" fill="#ff0000"/>
<circle cx="98.28" cy="350.71" r="0.85" fill="#ffff00"/>
<circle cx="50.9" cy="387.4" r="0.85" fill="#ff0000"/>
<circle cx="65.99" cy="375.87" r="0.85" fill="#800080"/>
<circle cx="104.93" cy="344.44" r="0.85" fill="#ff0000"/>
<circle cx="109.6" cy="340.75" r="0.85" fill="#ff0000"/>
<circle cx="54.11" cy="384.57" r="0.85" fill="#ffff00"/>
<circle cx="56.54" cy="382.42" r="0.85" fill="#0000ff"/>
<circle cx="84.98" cy="360.64" r="0.85" fill="#ffa500"/>
<circle cx="61.51" cy="379.54" r="0.85" fill="#0000ff"/>
<circle cx="98.82" cy="350.46" r="0.85" fill="#ffa500"/>
<circle cx="78.81" cy="365.19" r="0.85" fill="#ff0000"/>
<circle cx="120.54" cy="332.42" r="0.85" fill="#800080"/>
<circle cx="118.26" cy="335.24" r="0.85" fill="#ffa500"/>
<circle cx="118.02" cy="335.67" r="0.85" fill="#800080"/>
<circle cx="93.68" cy="353.39" r="0.85" fill="#0000ff"/>
<circle cx="110.59" cy="340.7" r="0.85" fill="#0000ff"/>
<circle cx="85.25" cy="360.52" r="0.85" fill="#ff0000"/>
<circle cx="80.92" cy="364.37" r="0.85" fill="#ffa500"/>
<circle cx="105.56" cy="344.76" r="0.85" fill="#0000ff"/>
<circle cx="90.2" cy="356.14" r="0.85" fill="#800080"/>
<circle cx="116.82" cy="335.7" r="0.85" fill="#800080"/>
<circle cx="93.09" cy="354.36" r="0.85" fill="#ffa500"/>
<circle cx="50.68" cy="387.14" r="0.85" fill="#ffa500"/>
<circle cx="127.53" cy="327.09" r="0.85" fill="#800080"/>
<circle cx="102.85" cy="346.83" r="0.85" fill="#008000"/>
<circle cx="86.1" cy="359.08" r="0.85" fill="#008000"/>
<circle cx="65.43" cy="375.7" r="0.85" fill="#ffa500"/>
<circle cx="48.37" cy="389.28" r="0.85" fill="#ffa500"/>
<circle cx="76.01" cy="367.84" r="0.85" fill="#ff0000"/>
<circle cx="46.34" cy="391.69" r="0.85" fill="#0000ff"/>
<circle cx="50.65" cy="387.7" r="0.85" fill="#ffa500"/>
<circle cx="106.58" cy="343.96" r="0.85" fill="#800080"/>
<circle cx="113.89" cy="337.82" r="0.85" fill="#008000"/>
<circle cx="119.49" cy="333.03" r="0.85" fill="#ff0000"/>
<circle cx="74.2" cy="368.97" r="0.85" fill="#008000"/>
<circle cx="78.25" cy="365.48" r="0.85" fill="#800080"/>
<circle cx="108.21" cy="342.98" r="0.85" fill="#0000ff"/>
<circle cx="99.65" cy="348.82" r="0.85" fill="#ffa500"/>
<circle cx="67.43" cy="374.09" r="0.85" fill="#ffa500"/>
<circle cx="83.78" cy="361.14" r="0.85" fill="#ffa500"/>
<circle cx="130.23" cy="326.07" r="0.85" fill="#008000"/>
<circle cx="84.13" cy="361.95" r="0.85" fill="#ffff00"/>
<circle cx="120.9" cy="332.74" r="0.85" fill="#008000"/>
<circle cx="114.9" cy="337.46" r="0.85" fill="#ffff00"/>
<circle cx="126.04" cy="328.72" r="0.85" fill="#0000ff"/>
<circle cx="83.1" cy="362.72" r="0.85" fill="#ff0000"/>
<circle cx="74.28" cy="368.98" r="0.85" fill="#ffa500"/>
<circle cx="73.94" cy="368.79" r="0.85" fill="#008000"/>
<circle cx="49.81" cy="388.16" r="0.85" fill="#800080"/>
<circle cx="66.11" cy="374.75" r="0.85" fill="#ffa500"/>
<circle cx="94.53" cy="353.61" r="0.85" fill="#ff0000"/>
<circle cx="118.43" cy="335.4" r="0.85" fill="#ff0000"/>
<circle cx="95.25" cy="352.47" r="0.85" fill="#0000ff"/>
<circle cx="100.88" cy="347.82" r="0.85" fill="#ff0000"/>
<circle cx="67.16" cy="374.93" r="0.85" fill="#ff0000"/>
<circle cx="86.58" cy="359.98" r="0.85" fill="#008000"/>
<circle cx="114.89" cy="337.51" r="0.85" fill="#ff0000"/>
<circle cx="57.36" cy="382.2" r="0.85" fill="#ff0000"/>
<circle cx="74.13" cy="368.75" r="0.85" fill="#ff0000"/>
<circle cx="94.63" cy="353.29" r="0.85" fill="#ffff00"/>
<circle cx="107.18" cy="343.57" r="0.85" fill="#ff0000"/>
<circle cx="84.37" cy="360.51" r="0.85" fill="#008000"/>
<circle cx="98.87" cy="349.26" r="0.85" fill="#800080"/>
<rect x="25.4" y="306.4" width="129.2" height="100.6" fill="none" stroke="#b4b4b4" stroke-width="0.75"/>
<line x1="31.6" y1="407" x2="31.6" y2="408.2" stroke="#999" stroke-width="0.4"/>
<text x="31.6" y="412.6" class="tk" text-anchor="middle">0.0</text>
<line x1="24.2" y1="402.2" x2="25.4" y2="402.2" stroke="#999" stroke-width="0.4"/>
<text x="23.6" y="403.8" class="tk" text-anchor="end">0.0</text>
<line x1="55" y1="407" x2="55" y2="408.2" stroke="#999" stroke-width="0.4"/>
<text x="55" y="412.6" class="tk" text-anchor="middle">0.2</text>
<line x1="24.2" y1="384" x2="25.4" y2="384" stroke="#999" stroke-width="0.4"/>
<text x="23.6" y="385.6" class="tk" text-anchor="end">0.2</text>
<line x1="78.4" y1="407" x2="78.4" y2="408.2" stroke="#999" stroke-width="0.4"/>
<text x="78.4" y="412.6" class="tk" text-anchor="middle">0.4</text>
<line x1="24.2" y1="365.8" x2="25.4" y2="365.8" stroke="#999" stroke-width="0.4"/>
<text x="23.6" y="367.4" class="tk" text-anchor="end">0.4</text>
<line x1="101.8" y1="407" x2="101.8" y2="408.2" stroke="#999" stroke-width="0.4"/>
<text x="101.8" y="412.6" class="tk" text-anchor="middle">0.6</text>
<line x1="24.2" y1="347.6" x2="25.4" y2="347.6" stroke="#999" stroke-width="0.4"/>
<text x="23.6" y="349.2" class="tk" text-anchor="end">0.6</text>
<line x1="125.2" y1="407" x2="125.2" y2="408.2" stroke="#999" stroke-width="0.4"/>
<text x="125.2" y="412.6" class="tk" text-anchor="middle">0.8</text>
<line x1="24.2" y1="329.4" x2="25.4" y2="329.4" stroke="#999" stroke-width="0.4"/>
<text x="23.6" y="331" class="tk" text-anchor="end">0.8</text>
<line x1="148.6" y1="407" x2="148.6" y2="408.2" stroke="#999" stroke-width="0.4"/>
<text x="148.6" y="412.6" class="tk" text-anchor="middle">1.0</text>
<line x1="24.2" y1="311.2" x2="25.4" y2="311.2" stroke="#999" stroke-width="0.4"/>
<text x="23.6" y="312.8" class="tk" text-anchor="end">1.0</text>
<text x="90" y="418.9" class="lb" text-anchor="middle">Normalized Actual Stress <tspan font-style="italic">σ</tspan><tspan font-size="3.7" dy="1.3">3</tspan></text>
<text transform="translate(14,357.5) rotate(-90)" class="lb" text-anchor="middle">Normalized Predicted Stress <tspan font-style="italic">σ</tspan><tspan font-size="3.7" dy="1.3">3</tspan></text>
<rect x="34.5" y="309.9" width="1.6" height="1.6" fill="#ff0000"/>
<text x="43.7" y="312.6" class="lg">Asp1:2</text>
<rect x="34.5" y="316.65" width="1.6" height="1.6" fill="#008000"/>
<text x="43.7" y="319.35" class="lg">Asp1:4</text>
<rect x="34.5" y="323.4" width="1.6" height="1.6" fill="#ffa500"/>
<text x="43.7" y="326.1" class="lg">Asp1:6</text>
<rect x="34.5" y="330.15" width="1.6" height="1.6" fill="#800080"/>
<text x="43.7" y="332.85" class="lg">Asp1:8</text>
<rect x="34.5" y="336.9" width="1.6" height="1.6" fill="#0000ff"/>
<text x="43.7" y="339.6" class="lg">gg</text>
<rect x="34.5" y="343.65" width="1.6" height="1.6" fill="#ffff00"/>
<text x="43.7" y="346.35" class="lg">Voronoi</text>
<text y="388.3" class="tx"><tspan x="107.6" font-style="italic">R</tspan><tspan x="111.9" y="386.8" font-size="3.8">2</tspan><tspan x="115.6" y="388.3">=</tspan><tspan x="120" textLength="17.2" lengthAdjust="spacingAndGlyphs">0.9993</tspan></text>
<text y="397.9" class="tx"><tspan x="107.6" textLength="14" lengthAdjust="spacingAndGlyphs">RMSE</tspan><tspan x="122.8">=</tspan><tspan x="127.6" textLength="18" lengthAdjust="spacingAndGlyphs">0.0038</tspan></text>
<text x="82" y="435.6" class="cap b" text-anchor="middle" style='font-family:"Liberation Serif", serif'><tspan font-weight="normal" stroke-width="0">(</tspan>g<tspan font-weight="normal" stroke-width="0">)</tspan></text>
<line x1="235.18" y1="392.2" x2="340.16" y2="311.2" stroke="#2a2a2a" stroke-width="0.55"/>
<circle cx="313" cy="349.5" r="1.0" fill="#800080"/>
<circle cx="275.65" cy="361.61" r="1.0" fill="#800080"/>
<circle cx="271.77" cy="364.36" r="1.0" fill="#800080"/>
<circle cx="297.71" cy="344.56" r="1.0" fill="#800080"/>
<circle cx="276.67" cy="355.04" r="1.0" fill="#008000"/>
<circle cx="270.65" cy="363.43" r="1.0" fill="#ffff00"/>
<circle cx="266.97" cy="368.45" r="1.0" fill="#ff0000"/>
<circle cx="289.76" cy="349.56" r="1.0" fill="#ffff00"/>
<circle cx="301.58" cy="339.17" r="1.0" fill="#0000ff"/>
<circle cx="303.47" cy="339.92" r="1.0" fill="#ffa500"/>
<circle cx="276.46" cy="358.53" r="1.0" fill="#ff0000"/>
<circle cx="298.19" cy="347.34" r="1.0" fill="#008000"/>
<circle cx="293.71" cy="346.08" r="1.0" fill="#ffff00"/>
<circle cx="286.95" cy="351.09" r="1.0" fill="#ffa500"/>
<circle cx="290.96" cy="350.9" r="1.0" fill="#ff0000"/>
<circle cx="268.14" cy="365.89" r="1.0" fill="#ffa500"/>
<circle cx="301.96" cy="341.47" r="1.0" fill="#800080"/>
<circle cx="293.79" cy="348.76" r="1.0" fill="#ff0000"/>
<circle cx="282.42" cy="357.71" r="1.0" fill="#800080"/>
<circle cx="299.65" cy="339.33" r="1.0" fill="#ff0000"/>
<circle cx="277.4" cy="350.4" r="1.0" fill="#ffff00"/>
<circle cx="276.59" cy="360.4" r="1.0" fill="#ffa500"/>
<circle cx="251.71" cy="381.48" r="1.0" fill="#0000ff"/>
<circle cx="281.7" cy="362" r="1.0" fill="#0000ff"/>
<circle cx="274.5" cy="354.2" r="1.0" fill="#ff0000"/>
<circle cx="302.72" cy="339.11" r="1.0" fill="#ffa500"/>
<circle cx="272.65" cy="364.11" r="1.0" fill="#ff0000"/>
<circle cx="282.68" cy="352.63" r="1.0" fill="#ffa500"/>
<circle cx="295.78" cy="347.56" r="1.0" fill="#ff0000"/>
<circle cx="278.99" cy="359.33" r="1.0" fill="#0000ff"/>
<circle cx="290.99" cy="347.27" r="1.0" fill="#ffa500"/>
<circle cx="285.74" cy="353.87" r="1.0" fill="#008000"/>
<circle cx="275.29" cy="359.83" r="1.0" fill="#0000ff"/>
<circle cx="273.7" cy="369.4" r="1.0" fill="#0000ff"/>
<circle cx="242" cy="387.3" r="1.0" fill="#ff0000"/>
<circle cx="300.5" cy="338.54" r="1.0" fill="#ff0000"/>
<circle cx="282.52" cy="356.54" r="1.0" fill="#ffa500"/>
<circle cx="263.82" cy="364.13" r="1.0" fill="#ff0000"/>
<circle cx="285.37" cy="359.02" r="1.0" fill="#800080"/>
<circle cx="242.8" cy="372.7" r="1.0" fill="#0000ff"/>
<circle cx="301.84" cy="347.25" r="1.0" fill="#ffa500"/>
<circle cx="290.07" cy="349.94" r="1.0" fill="#ff0000"/>
<circle cx="249.54" cy="381.56" r="1.0" fill="#008000"/>
<circle cx="245.25" cy="386.16" r="1.0" fill="#ff0000"/>
<circle cx="282.06" cy="354.75" r="1.0" fill="#ffff00"/>
<circle cx="302.32" cy="340.24" r="1.0" fill="#ffff00"/>
<circle cx="302" cy="341.68" r="1.0" fill="#ff0000"/>
<circle cx="247.37" cy="383.45" r="1.0" fill="#ff0000"/>
<circle cx="267.49" cy="366.21" r="1.0" fill="#008000"/>
<circle cx="267.67" cy="365.53" r="1.0" fill="#ffff00"/>
<circle cx="261.69" cy="372.96" r="1.0" fill="#0000ff"/>
<circle cx="321.2" cy="334.9" r="1.0" fill="#ff0000"/>
<circle cx="252.72" cy="377.04" r="1.0" fill="#ffa500"/>
<circle cx="307.64" cy="341.84" r="1.0" fill="#ff0000"/>
<circle cx="287.16" cy="354.77" r="1.0" fill="#ff0000"/>
<circle cx="297" cy="342.63" r="1.0" fill="#ffff00"/>
<circle cx="302" cy="345" r="1.0" fill="#800080"/>
<circle cx="263.38" cy="368.95" r="1.0" fill="#008000"/>
<circle cx="260.36" cy="372.57" r="1.0" fill="#ffa500"/>
<circle cx="284.71" cy="351.72" r="1.0" fill="#800080"/>
<circle cx="266.3" cy="359.4" r="1.0" fill="#0000ff"/>
<circle cx="291.13" cy="353.26" r="1.0" fill="#ff0000"/>
<circle cx="262.23" cy="366.03" r="1.0" fill="#ffa500"/>
<circle cx="249.68" cy="379.65" r="1.0" fill="#ff0000"/>
<circle cx="326" cy="321" r="1.0" fill="#ffa500"/>
<circle cx="288.46" cy="354.67" r="1.0" fill="#ff0000"/>
<circle cx="295.07" cy="341.7" r="1.0" fill="#ff0000"/>
<circle cx="293.06" cy="345.98" r="1.0" fill="#ffa500"/>
<circle cx="283.44" cy="358.91" r="1.0" fill="#008000"/>
<circle cx="293.85" cy="355.35" r="1.0" fill="#ff0000"/>
<circle cx="271.01" cy="363.67" r="1.0" fill="#800080"/>
<circle cx="265.15" cy="371.29" r="1.0" fill="#800080"/>
<circle cx="321.8" cy="332.8" r="1.0" fill="#ff0000"/>
<circle cx="269.3" cy="363.84" r="1.0" fill="#800080"/>
<circle cx="296.2" cy="347.71" r="1.0" fill="#ffa500"/>
<circle cx="281.49" cy="349.37" r="1.0" fill="#ff0000"/>
<circle cx="296.34" cy="345.01" r="1.0" fill="#008000"/>
<circle cx="310.1" cy="332" r="1.0" fill="#008000"/>
<circle cx="288.2" cy="362" r="1.0" fill="#0000ff"/>
<circle cx="288.65" cy="361.07" r="1.0" fill="#ffa500"/>
<circle cx="257.93" cy="374.94" r="1.0" fill="#800080"/>
<circle cx="297.67" cy="342.46" r="1.0" fill="#ffff00"/>
<circle cx="254.7" cy="380.8" r="1.0" fill="#ff0000"/>
<circle cx="289.01" cy="348.73" r="1.0" fill="#0000ff"/>
<circle cx="298.85" cy="345.8" r="1.0" fill="#008000"/>
<circle cx="267.03" cy="366.19" r="1.0" fill="#ff0000"/>
<circle cx="254" cy="378.11" r="1.0" fill="#ffff00"/>
<circle cx="286.92" cy="353.45" r="1.0" fill="#ffff00"/>
<circle cx="245.59" cy="382.85" r="1.0" fill="#800080"/>
<circle cx="253.41" cy="379.52" r="1.0" fill="#800080"/>
<circle cx="299.45" cy="340.84" r="1.0" fill="#ffff00"/>
<circle cx="276.11" cy="361.63" r="1.0" fill="#ff0000"/>
<circle cx="275.42" cy="359.07" r="1.0" fill="#008000"/>
<circle cx="302.8" cy="354.7" r="1.0" fill="#ffff00"/>
<circle cx="276.08" cy="360.09" r="1.0" fill="#800080"/>
<circle cx="325.5" cy="345.8" r="1.0" fill="#0000ff"/>
<circle cx="307.22" cy="334.39" r="1.0" fill="#008000"/>
<circle cx="287.77" cy="345.91" r="1.0" fill="#008000"/>
<circle cx="272" cy="369.9" r="1.0" fill="#ffff00"/>
<circle cx="289.05" cy="350.23" r="1.0" fill="#008000"/>
<circle cx="260.01" cy="379.8" r="1.0" fill="#ff0000"/>
<circle cx="288.11" cy="354.78" r="1.0" fill="#800080"/>
<circle cx="288.28" cy="348.91" r="1.0" fill="#ff0000"/>
<circle cx="246.5" cy="382.26" r="1.0" fill="#800080"/>
<circle cx="301.16" cy="344.05" r="1.0" fill="#ffff00"/>
<circle cx="269.7" cy="364.96" r="1.0" fill="#ffa500"/>
<circle cx="277.44" cy="357.53" r="1.0" fill="#008000"/>
<circle cx="282.6" cy="361.8" r="1.0" fill="#0000ff"/>
<circle cx="274.67" cy="359.63" r="1.0" fill="#ffa500"/>
<circle cx="285.26" cy="352.73" r="1.0" fill="#800080"/>
<circle cx="259.78" cy="376.14" r="1.0" fill="#800080"/>
<circle cx="321.2" cy="360.9" r="1.0" fill="#0000ff"/>
<circle cx="244.9" cy="384.5" r="1.0" fill="#ff0000"/>
<circle cx="291.4" cy="343" r="1.0" fill="#0000ff"/>
<circle cx="258.2" cy="369.1" r="1.0" fill="#ffff00"/>
<circle cx="296.18" cy="345.21" r="1.0" fill="#ff0000"/>
<circle cx="294.24" cy="344.68" r="1.0" fill="#ffa500"/>
<circle cx="281.92" cy="359.24" r="1.0" fill="#ff0000"/>
<circle cx="266.52" cy="370.52" r="1.0" fill="#ff0000"/>
<circle cx="264.72" cy="364.95" r="1.0" fill="#0000ff"/>
<circle cx="291.38" cy="345.17" r="1.0" fill="#800080"/>
<circle cx="307.7" cy="336" r="1.0" fill="#ff0000"/>
<circle cx="273.47" cy="363.52" r="1.0" fill="#ffff00"/>
<circle cx="260.62" cy="376.93" r="1.0" fill="#ff0000"/>
<circle cx="298.7" cy="362" r="1.0" fill="#0000ff"/>
<circle cx="301.81" cy="342.49" r="1.0" fill="#008000"/>
<circle cx="296.13" cy="344.5" r="1.0" fill="#ff0000"/>
<circle cx="253.86" cy="377.17" r="1.0" fill="#008000"/>
<circle cx="277.34" cy="355.01" r="1.0" fill="#800080"/>
<circle cx="289" cy="345.8" r="1.0" fill="#ffff00"/>
<circle cx="304.3" cy="339.22" r="1.0" fill="#ffa500"/>
<circle cx="258.05" cy="376.9" r="1.0" fill="#008000"/>
<circle cx="283.93" cy="355.37" r="1.0" fill="#800080"/>
<circle cx="285.7" cy="353.9" r="1.0" fill="#0000ff"/>
<circle cx="278.83" cy="357.68" r="1.0" fill="#800080"/>
<circle cx="283.94" cy="353.75" r="1.0" fill="#ffff00"/>
<circle cx="265.5" cy="372" r="1.0" fill="#0000ff"/>
<circle cx="303.48" cy="339.92" r="1.0" fill="#ffa500"/>
<circle cx="314.2" cy="339.3" r="1.0" fill="#ffa500"/>
<circle cx="284.2" cy="359.4" r="1.0" fill="#0000ff"/>
<circle cx="296.1" cy="340.98" r="1.0" fill="#ff0000"/>
<circle cx="242.3" cy="369.1" r="1.0" fill="#ffff00"/>
<circle cx="289.27" cy="351.24" r="1.0" fill="#ffa500"/>
<circle cx="275.36" cy="361.97" r="1.0" fill="#ff0000"/>
<circle cx="264.87" cy="370.14" r="1.0" fill="#800080"/>
<circle cx="287.8" cy="347.49" r="1.0" fill="#ff0000"/>
<circle cx="291.84" cy="350.26" r="1.0" fill="#ff0000"/>
<circle cx="336.9" cy="310.5" r="1.0" fill="#ffff00"/>
<circle cx="291.64" cy="348.67" r="1.0" fill="#800080"/>
<circle cx="285.84" cy="355.27" r="1.0" fill="#008000"/>
<circle cx="280.9" cy="351.5" r="1.0" fill="#0000ff"/>
<circle cx="268.24" cy="366.52" r="1.0" fill="#800080"/>
<circle cx="262.3" cy="361" r="1.0" fill="#0000ff"/>
<circle cx="252.71" cy="381.32" r="1.0" fill="#008000"/>
<circle cx="306.07" cy="334.96" r="1.0" fill="#008000"/>
<circle cx="249.38" cy="377.34" r="1.0" fill="#ffa500"/>
<circle cx="261.2" cy="348.8" r="1.0" fill="#0000ff"/>
<circle cx="285.56" cy="352.78" r="1.0" fill="#ff0000"/>
<circle cx="257.79" cy="376.07" r="1.0" fill="#008000"/>
<circle cx="282.88" cy="356.05" r="1.0" fill="#ffff00"/>
<circle cx="263.1" cy="356.9" r="1.0" fill="#0000ff"/>
<circle cx="296.17" cy="344.91" r="1.0" fill="#800080"/>
<circle cx="262.29" cy="367.12" r="1.0" fill="#ff0000"/>
<circle cx="297.39" cy="342.28" r="1.0" fill="#008000"/>
<circle cx="256.6" cy="374.8" r="1.0" fill="#ff0000"/>
<circle cx="269.99" cy="361.4" r="1.0" fill="#ffa500"/>
<circle cx="297.51" cy="343.56" r="1.0" fill="#ffa500"/>
<circle cx="268.4" cy="368.11" r="1.0" fill="#008000"/>
<circle cx="275.59" cy="362.04" r="1.0" fill="#800080"/>
<circle cx="256.36" cy="374.33" r="1.0" fill="#ffff00"/>
<circle cx="271.83" cy="360.42" r="1.0" fill="#ffff00"/>
<circle cx="279" cy="373.2" r="1.0" fill="#0000ff"/>
<circle cx="261.27" cy="373.1" r="1.0" fill="#ff0000"/>
<circle cx="276.02" cy="361.96" r="1.0" fill="#ff0000"/>
<circle cx="283.65" cy="355.68" r="1.0" fill="#ffff00"/>
<circle cx="269.95" cy="364.3" r="1.0" fill="#008000"/>
<circle cx="299.02" cy="342.96" r="1.0" fill="#ff0000"/>
<circle cx="270.52" cy="366.25" r="1.0" fill="#0000ff"/>
<circle cx="295.48" cy="344.38" r="1.0" fill="#008000"/>
<circle cx="247.7" cy="382.9" r="1.0" fill="#ff0000"/>
<circle cx="283.63" cy="353.08" r="1.0" fill="#ff0000"/>
<circle cx="267.59" cy="370.48" r="1.0" fill="#008000"/>
<circle cx="260.9" cy="373.8" r="1.0" fill="#008000"/>
<circle cx="269.62" cy="364.43" r="1.0" fill="#008000"/>
<circle cx="295.54" cy="346.97" r="1.0" fill="#ffff00"/>
<circle cx="255.8" cy="368.3" r="1.0" fill="#0000ff"/>
<circle cx="284.8" cy="354.12" r="1.0" fill="#008000"/>
<circle cx="257.9" cy="383.4" r="1.0" fill="#ffff00"/>
<circle cx="260.25" cy="373.97" r="1.0" fill="#800080"/>
<circle cx="251.4" cy="361.3" r="1.0" fill="#0000ff"/>
<circle cx="291.82" cy="348.32" r="1.0" fill="#ff0000"/>
<circle cx="287.05" cy="346.16" r="1.0" fill="#800080"/>
<circle cx="263.46" cy="371.51" r="1.0" fill="#ffff00"/>
<circle cx="301.61" cy="342.86" r="1.0" fill="#ffff00"/>
<circle cx="275.91" cy="361.85" r="1.0" fill="#800080"/>
<circle cx="296.75" cy="350.19" r="1.0" fill="#800080"/>
<circle cx="291.31" cy="348.07" r="1.0" fill="#800080"/>
<circle cx="290.54" cy="349.65" r="1.0" fill="#800080"/>
<circle cx="265.5" cy="352.9" r="1.0" fill="#0000ff"/>
<circle cx="302.8" cy="349" r="1.0" fill="#0000ff"/>
<circle cx="269.19" cy="368" r="1.0" fill="#ffff00"/>
<circle cx="303.55" cy="337.47" r="1.0" fill="#800080"/>
<circle cx="295.85" cy="345.34" r="1.0" fill="#ff0000"/>
<circle cx="272.1" cy="362.59" r="1.0" fill="#ffa500"/>
<circle cx="264.95" cy="364.66" r="1.0" fill="#ffa500"/>
<circle cx="288.32" cy="351.57" r="1.0" fill="#ff0000"/>
<circle cx="264.91" cy="367.86" r="1.0" fill="#ff0000"/>
<circle cx="314.7" cy="334.4" r="1.0" fill="#800080"/>
<circle cx="312.5" cy="341.7" r="1.0" fill="#0000ff"/>
<circle cx="272.99" cy="361.96" r="1.0" fill="#ff0000"/>
<circle cx="260.15" cy="372.06" r="1.0" fill="#ffff00"/>
<circle cx="277.11" cy="360.38" r="1.0" fill="#ffa500"/>
<circle cx="281.73" cy="356.38" r="1.0" fill="#008000"/>
<circle cx="259.33" cy="373.41" r="1.0" fill="#ff0000"/>
<circle cx="247.55" cy="383.86" r="1.0" fill="#ffff00"/>
<circle cx="305.13" cy="337.23" r="1.0" fill="#0000ff"/>
<circle cx="275.82" cy="361.35" r="1.0" fill="#008000"/>
<circle cx="287.51" cy="354.19" r="1.0" fill="#008000"/>
<circle cx="274.97" cy="361.8" r="1.0" fill="#ff0000"/>
<circle cx="268.99" cy="369.74" r="1.0" fill="#800080"/>
<circle cx="264.36" cy="375.26" r="1.0" fill="#0000ff"/>
<circle cx="265.19" cy="367.51" r="1.0" fill="#ffa500"/>
<circle cx="252.63" cy="379.76" r="1.0" fill="#008000"/>
<circle cx="278.04" cy="362.04" r="1.0" fill="#ff0000"/>
<circle cx="293.28" cy="346.59" r="1.0" fill="#0000ff"/>
<circle cx="253.59" cy="377.47" r="1.0" fill="#008000"/>
<circle cx="264.4" cy="360.7" r="1.0" fill="#800080"/>
<circle cx="263.4" cy="371.38" r="1.0" fill="#ff0000"/>
<circle cx="259" cy="355.3" r="1.0" fill="#0000ff"/>
<circle cx="264.02" cy="375.71" r="1.0" fill="#ffff00"/>
<circle cx="265.41" cy="369.08" r="1.0" fill="#ff0000"/>
<circle cx="262.88" cy="371.53" r="1.0" fill="#ffa500"/>
<circle cx="255.57" cy="371.67" r="1.0" fill="#ffa500"/>
<circle cx="290.87" cy="350.62" r="1.0" fill="#800080"/>
<circle cx="286.49" cy="352.67" r="1.0" fill="#ffff00"/>
<circle cx="267.31" cy="364.92" r="1.0" fill="#ff0000"/>
<circle cx="283.57" cy="356.7" r="1.0" fill="#800080"/>
<circle cx="328.3" cy="320.3" r="1.0" fill="#008000"/>
<circle cx="294.56" cy="347.46" r="1.0" fill="#ffff00"/>
<circle cx="296.3" cy="354.7" r="1.0" fill="#0000ff"/>
<circle cx="280.79" cy="349.02" r="1.0" fill="#008000"/>
<circle cx="276.92" cy="359.06" r="1.0" fill="#ff0000"/>
<circle cx="293.39" cy="345.2" r="1.0" fill="#ff0000"/>
<circle cx="269.38" cy="366.44" r="1.0" fill="#ff0000"/>
<circle cx="255.73" cy="374.78" r="1.0" fill="#ffa500"/>
<circle cx="261.08" cy="374.48" r="1.0" fill="#ff0000"/>
<circle cx="284.87" cy="354.15" r="1.0" fill="#008000"/>
<circle cx="305.99" cy="340.01" r="1.0" fill="#800080"/>
<circle cx="238.4" cy="372" r="1.0" fill="#0000ff"/>
<circle cx="259.03" cy="372.8" r="1.0" fill="#0000ff"/>
<circle cx="281.85" cy="355.59" r="1.0" fill="#ff0000"/>
<circle cx="283.54" cy="357.49" r="1.0" fill="#ff0000"/>
<circle cx="282.05" cy="356.9" r="1.0" fill="#ffff00"/>
<circle cx="306.9" cy="345" r="1.0" fill="#0000ff"/>
<circle cx="291.95" cy="352.18" r="1.0" fill="#008000"/>
<circle cx="258.32" cy="373.96" r="1.0" fill="#800080"/>
<circle cx="296.52" cy="345.88" r="1.0" fill="#ffff00"/>
<circle cx="300.74" cy="337.86" r="1.0" fill="#ff0000"/>
<circle cx="300.66" cy="339.56" r="1.0" fill="#0000ff"/>
<circle cx="269.72" cy="367.86" r="1.0" fill="#0000ff"/>
<circle cx="289.8" cy="358.8" r="1.0" fill="#0000ff"/>
<circle cx="288.78" cy="355.3" r="1.0" fill="#008000"/>
<circle cx="307.24" cy="336.03" r="1.0" fill="#ffa500"/>
<circle cx="280.56" cy="358" r="1.0" fill="#ffa500"/>
<circle cx="259.25" cy="373.07" r="1.0" fill="#008000"/>
<circle cx="299.76" cy="339.08" r="1.0" fill="#008000"/>
<circle cx="271.79" cy="365.64" r="1.0" fill="#ffff00"/>
<circle cx="263.7" cy="369.15" r="1.0" fill="#008000"/>
<circle cx="265.39" cy="368.11" r="1.0" fill="#800080"/>
<circle cx="278.71" cy="352.98" r="1.0" fill="#ffa500"/>
<circle cx="295.55" cy="350.45" r="1.0" fill="#008000"/>
<circle cx="301.26" cy="340.13" r="1.0" fill="#ff0000"/>
<circle cx="250.28" cy="385.81" r="1.0" fill="#0000ff"/>
<circle cx="269.23" cy="363.85" r="1.0" fill="#ff0000"/>
<circle cx="284.22" cy="354.42" r="1.0" fill="#0000ff"/>
<circle cx="288.23" cy="348.88" r="1.0" fill="#800080"/>
<circle cx="292.29" cy="347.44" r="1.0" fill="#ffa500"/>
<circle cx="267.02" cy="367.4" r="1.0" fill="#800080"/>
<circle cx="284.51" cy="351.09" r="1.0" fill="#ffa500"/>
<circle cx="253" cy="367.8" r="1.0" fill="#0000ff"/>
<circle cx="254.82" cy="376.28" r="1.0" fill="#800080"/>
<circle cx="266.24" cy="365.7" r="1.0" fill="#ff0000"/>
<circle cx="297.09" cy="344.29" r="1.0" fill="#800080"/>
<circle cx="235.2" cy="385.7" r="1.0" fill="#0000ff"/>
<circle cx="291.69" cy="348.63" r="1.0" fill="#008000"/>
<circle cx="251.82" cy="381.62" r="1.0" fill="#008000"/>
<circle cx="250.4" cy="374.3" r="1.0" fill="#800080"/>
<circle cx="261.05" cy="370.52" r="1.0" fill="#008000"/>
<circle cx="273.03" cy="364.07" r="1.0" fill="#ffff00"/>
<circle cx="289.02" cy="356.08" r="1.0" fill="#ffa500"/>
<circle cx="312.1" cy="332.8" r="1.0" fill="#800080"/>
<circle cx="320.2" cy="338.2" r="1.0" fill="#ffff00"/>
<circle cx="298.8" cy="343.24" r="1.0" fill="#800080"/>
<circle cx="297.8" cy="339.15" r="1.0" fill="#ff0000"/>
<circle cx="293.21" cy="344.98" r="1.0" fill="#800080"/>
<circle cx="313.7" cy="344.2" r="1.0" fill="#ffa500"/>
<circle cx="286.09" cy="351.34" r="1.0" fill="#ff0000"/>
<circle cx="269.07" cy="367.45" r="1.0" fill="#0000ff"/>
<circle cx="306.5" cy="332" r="1.0" fill="#ff0000"/>
<circle cx="285.07" cy="352.5" r="1.0" fill="#0000ff"/>
<circle cx="247.2" cy="377.6" r="1.0" fill="#0000ff"/>
<circle cx="282.89" cy="355.11" r="1.0" fill="#ffff00"/>
<circle cx="272.52" cy="363.24" r="1.0" fill="#ffff00"/>
<circle cx="283.14" cy="356.89" r="1.0" fill="#ffff00"/>
<circle cx="288.52" cy="350.29" r="1.0" fill="#ffff00"/>
<circle cx="266.31" cy="367.86" r="1.0" fill="#0000ff"/>
<circle cx="284.17" cy="354.71" r="1.0" fill="#800080"/>
<circle cx="293.41" cy="346.47" r="1.0" fill="#800080"/>
<circle cx="284.72" cy="352.12" r="1.0" fill="#ff0000"/>
<circle cx="268.8" cy="360.2" r="1.0" fill="#0000ff"/>
<circle cx="286.8" cy="353.09" r="1.0" fill="#ff0000"/>
<circle cx="281.08" cy="353.07" r="1.0" fill="#ffa500"/>
<circle cx="300.86" cy="342.23" r="1.0" fill="#ffa500"/>
<circle cx="274.89" cy="363.4" r="1.0" fill="#800080"/>
<circle cx="272.07" cy="364.84" r="1.0" fill="#ffa500"/>
<circle cx="280.75" cy="358.68" r="1.0" fill="#ff0000"/>
<circle cx="252.1" cy="386.2" r="1.0" fill="#ffff00"/>
<circle cx="296.55" cy="344.9" r="1.0" fill="#800080"/>
<circle cx="297.1" cy="366.4" r="1.0" fill="#0000ff"/>
<circle cx="271.72" cy="364.07" r="1.0" fill="#ffff00"/>
<circle cx="297.4" cy="343.28" r="1.0" fill="#ff0000"/>
<circle cx="271.5" cy="361.69" r="1.0" fill="#800080"/>
<circle cx="286.29" cy="352.24" r="1.0" fill="#800080"/>
<circle cx="281.72" cy="356.61" r="1.0" fill="#008000"/>
<circle cx="268.75" cy="367.42" r="1.0" fill="#ffa500"/>
<circle cx="259.74" cy="372.39" r="1.0" fill="#800080"/>
<circle cx="296.73" cy="344.83" r="1.0" fill="#800080"/>
<circle cx="250.73" cy="385.38" r="1.0" fill="#0000ff"/>
<circle cx="304.04" cy="338.99" r="1.0" fill="#ffff00"/>
<circle cx="302.55" cy="343.45" r="1.0" fill="#800080"/>
<circle cx="320.7" cy="325.8" r="1.0" fill="#ffa500"/>
<circle cx="248.64" cy="386.11" r="1.0" fill="#ffff00"/>
<circle cx="309.55" cy="335.65" r="1.0" fill="#800080"/>
<circle cx="283.66" cy="353.53" r="1.0" fill="#ff0000"/>
<circle cx="279.84" cy="351.59" r="1.0" fill="#ff0000"/>
<circle cx="253.48" cy="375.76" r="1.0" fill="#ff0000"/>
<circle cx="285.79" cy="353.04" r="1.0" fill="#008000"/>
<circle cx="251.6" cy="382.93" r="1.0" fill="#ffa500"/>
<circle cx="254.66" cy="373.71" r="1.0" fill="#800080"/>
<circle cx="272.58" cy="367.49" r="1.0" fill="#ff0000"/>
<circle cx="260.74" cy="371.29" r="1.0" fill="#ff0000"/>
<circle cx="250.45" cy="380.33" r="1.0" fill="#008000"/>
<circle cx="263.11" cy="371.1" r="1.0" fill="#ffff00"/>
<circle cx="265.63" cy="367.42" r="1.0" fill="#ff0000"/>
<circle cx="270.39" cy="363.96" r="1.0" fill="#ff0000"/>
<circle cx="293.26" cy="348.37" r="1.0" fill="#ffa500"/>
<circle cx="282.47" cy="353.44" r="1.0" fill="#008000"/>
<circle cx="238.7" cy="387.8" r="1.0" fill="#800080"/>
<circle cx="279.41" cy="360.7" r="1.0" fill="#0000ff"/>
<circle cx="283.06" cy="357.74" r="1.0" fill="#ffff00"/>
<circle cx="275.57" cy="361.52" r="1.0" fill="#800080"/>
<circle cx="293.41" cy="347.93" r="1.0" fill="#ffa500"/>
<circle cx="264.58" cy="371.15" r="1.0" fill="#ff0000"/>
<circle cx="290.36" cy="346.13" r="1.0" fill="#008000"/>
<circle cx="251.18" cy="382.11" r="1.0" fill="#800080"/>
<circle cx="298.15" cy="346.28" r="1.0" fill="#ff0000"/>
<circle cx="271.77" cy="363.58" r="1.0" fill="#ffa500"/>
<circle cx="274.05" cy="363.73" r="1.0" fill="#ffa500"/>
<circle cx="281.8" cy="351.2" r="1.0" fill="#800080"/>
<circle cx="271.23" cy="361.46" r="1.0" fill="#ff0000"/>
<circle cx="321.2" cy="349" r="1.0" fill="#0000ff"/>
<circle cx="246.9" cy="374" r="1.0" fill="#0000ff"/>
<circle cx="266.21" cy="368.92" r="1.0" fill="#ff0000"/>
<circle cx="295.42" cy="340.43" r="1.0" fill="#008000"/>
<circle cx="272.75" cy="361.23" r="1.0" fill="#ffff00"/>
<circle cx="287.43" cy="351.73" r="1.0" fill="#008000"/>
<circle cx="270.61" cy="361.09" r="1.0" fill="#800080"/>
<circle cx="293.74" cy="353.3" r="1.0" fill="#008000"/>
<circle cx="280.61" cy="357.12" r="1.0" fill="#800080"/>
<circle cx="287.89" cy="350.35" r="1.0" fill="#008000"/>
<circle cx="294.66" cy="346.2" r="1.0" fill="#800080"/>
<circle cx="301.37" cy="341.87" r="1.0" fill="#008000"/>
<circle cx="296.09" cy="345.75" r="1.0" fill="#ffa500"/>
<circle cx="252.48" cy="377.08" r="1.0" fill="#800080"/>
<circle cx="274.07" cy="364.52" r="1.0" fill="#0000ff"/>
<circle cx="286.88" cy="355.35" r="1.0" fill="#0000ff"/>
<circle cx="281.32" cy="359.13" r="1.0" fill="#008000"/>
<circle cx="293.9" cy="361.2" r="1.0" fill="#0000ff"/>
<circle cx="301.42" cy="340.31" r="1.0" fill="#ff0000"/>
<circle cx="258.76" cy="374.22" r="1.0" fill="#800080"/>
<rect x="215.6" y="306.4" width="130" height="100.6" fill="none" stroke="#b4b4b4" stroke-width="0.75"/>
<line x1="216" y1="407" x2="216" y2="408.2" stroke="#999" stroke-width="0.4"/>
<text x="216" y="412.6" class="tk" text-anchor="middle">0.0</text>
<line x1="214.4" y1="407" x2="215.6" y2="407" stroke="#999" stroke-width="0.4"/>
<text x="213.8" y="408.6" class="tk" text-anchor="end">0.0</text>
<line x1="241.92" y1="407" x2="241.92" y2="408.2" stroke="#999" stroke-width="0.4"/>
<text x="241.92" y="412.6" class="tk" text-anchor="middle">0.2</text>
<line x1="214.4" y1="387" x2="215.6" y2="387" stroke="#999" stroke-width="0.4"/>
<text x="213.8" y="388.6" class="tk" text-anchor="end">0.2</text>
<line x1="267.84" y1="407" x2="267.84" y2="408.2" stroke="#999" stroke-width="0.4"/>
<text x="267.84" y="412.6" class="tk" text-anchor="middle">0.4</text>
<line x1="214.4" y1="367" x2="215.6" y2="367" stroke="#999" stroke-width="0.4"/>
<text x="213.8" y="368.6" class="tk" text-anchor="end">0.4</text>
<line x1="293.76" y1="407" x2="293.76" y2="408.2" stroke="#999" stroke-width="0.4"/>
<text x="293.76" y="412.6" class="tk" text-anchor="middle">0.6</text>
<line x1="214.4" y1="347" x2="215.6" y2="347" stroke="#999" stroke-width="0.4"/>
<text x="213.8" y="348.6" class="tk" text-anchor="end">0.6</text>
<line x1="319.68" y1="407" x2="319.68" y2="408.2" stroke="#999" stroke-width="0.4"/>
<text x="319.68" y="412.6" class="tk" text-anchor="middle">0.8</text>
<line x1="214.4" y1="327" x2="215.6" y2="327" stroke="#999" stroke-width="0.4"/>
<text x="213.8" y="328.6" class="tk" text-anchor="end">0.8</text>
<line x1="345.6" y1="407" x2="345.6" y2="408.2" stroke="#999" stroke-width="0.4"/>
<text x="345.6" y="412.6" class="tk" text-anchor="middle">1.0</text>
<line x1="214.4" y1="307" x2="215.6" y2="307" stroke="#999" stroke-width="0.4"/>
<text x="213.8" y="308.6" class="tk" text-anchor="end">1.0</text>
<text x="280.6" y="418.9" class="lb" text-anchor="middle">Normalized Actual Stress <tspan font-style="italic">σ</tspan><tspan font-size="3.7" dy="1.3">3</tspan></text>
<text transform="translate(205,357.5) rotate(-90)" class="lb" text-anchor="middle">Normalized Predicted Stress <tspan font-style="italic">σ</tspan><tspan font-size="3.7" dy="1.3">3</tspan></text>
<rect x="225.2" y="309.9" width="1.6" height="1.6" fill="#ff0000"/>
<text x="234.4" y="312.6" class="lg">Asp1:2</text>
<rect x="225.2" y="316.65" width="1.6" height="1.6" fill="#008000"/>
<text x="234.4" y="319.35" class="lg">Asp1:4</text>
<rect x="225.2" y="323.4" width="1.6" height="1.6" fill="#ffa500"/>
<text x="234.4" y="326.1" class="lg">Asp1:6</text>
<rect x="225.2" y="330.15" width="1.6" height="1.6" fill="#800080"/>
<text x="234.4" y="332.85" class="lg">Asp1:8</text>
<rect x="225.2" y="336.9" width="1.6" height="1.6" fill="#0000ff"/>
<text x="234.4" y="339.6" class="lg">gg</text>
<rect x="225.2" y="343.65" width="1.6" height="1.6" fill="#ffff00"/>
<text x="234.4" y="346.35" class="lg">Voronoi</text>
<text y="383.9" class="tx"><tspan x="300" font-style="italic">R</tspan><tspan x="304.3" y="382.4" font-size="3.8">2</tspan><tspan x="308" y="383.9">=</tspan><tspan x="312.4" textLength="17.2" lengthAdjust="spacingAndGlyphs">0.8605</tspan></text>
<text y="392.3" class="tx"><tspan x="300" textLength="14" lengthAdjust="spacingAndGlyphs">RMSE</tspan><tspan x="315.2">=</tspan><tspan x="320" textLength="18" lengthAdjust="spacingAndGlyphs">0.0523</tspan></text>
<text x="274.4" y="435.5" class="cap b" text-anchor="middle" style='font-family:"Liberation Serif", serif'><tspan font-weight="normal" stroke-width="0">(</tspan>h<tspan font-weight="normal" stroke-width="0">)</tspan></text>
<line x1="429.22" y1="392.1" x2="527.65" y2="315.8" stroke="#2a2a2a" stroke-width="0.55"/>
<circle cx="498.39" cy="341.13" r="1.0" fill="#800080"/>
<circle cx="485.45" cy="348.2" r="1.0" fill="#ff0000"/>
<circle cx="471" cy="361.44" r="1.0" fill="#ffff00"/>
<circle cx="463.73" cy="365.12" r="1.0" fill="#ffa500"/>
<circle cx="475.33" cy="356.86" r="1.0" fill="#ff0000"/>
<circle cx="517.4" cy="322.2" r="1.0" fill="#ffa500"/>
<circle cx="469.33" cy="359.32" r="1.0" fill="#ff0000"/>
<circle cx="498.4" cy="355.5" r="1.0" fill="#0000ff"/>
<circle cx="449.18" cy="377.38" r="1.0" fill="#008000"/>
<circle cx="465.23" cy="368.94" r="1.0" fill="#ff0000"/>
<circle cx="500.05" cy="338.38" r="1.0" fill="#800080"/>
<circle cx="505.7" cy="330.4" r="1.0" fill="#ffa500"/>
<circle cx="451.27" cy="377.71" r="1.0" fill="#ffa500"/>
<circle cx="485.54" cy="346.03" r="1.0" fill="#ffa500"/>
<circle cx="455.32" cy="374.55" r="1.0" fill="#ff0000"/>
<circle cx="474.01" cy="352.81" r="1.0" fill="#008000"/>
<circle cx="472.6" cy="361.05" r="1.0" fill="#008000"/>
<circle cx="491.91" cy="344.95" r="1.0" fill="#ffff00"/>
<circle cx="474.69" cy="352.15" r="1.0" fill="#ffff00"/>
<circle cx="468.34" cy="362.07" r="1.0" fill="#ffff00"/>
<circle cx="479.4" cy="353.45" r="1.0" fill="#800080"/>
<circle cx="483.45" cy="348.32" r="1.0" fill="#ff0000"/>
<circle cx="464.45" cy="363.25" r="1.0" fill="#ffa500"/>
<circle cx="446.1" cy="369.9" r="1.0" fill="#0000ff"/>
<circle cx="460.7" cy="373.2" r="1.0" fill="#ff0000"/>
<circle cx="479.57" cy="352.52" r="1.0" fill="#008000"/>
<circle cx="460.14" cy="363.58" r="1.0" fill="#ffa500"/>
<circle cx="470.6" cy="359.16" r="1.0" fill="#ff0000"/>
<circle cx="495.22" cy="340.75" r="1.0" fill="#800080"/>
<circle cx="477.08" cy="350.39" r="1.0" fill="#800080"/>
<circle cx="468.67" cy="360.08" r="1.0" fill="#ff0000"/>
<circle cx="483.94" cy="351.22" r="1.0" fill="#ff0000"/>
<circle cx="473.87" cy="358.47" r="1.0" fill="#0000ff"/>
<circle cx="466.61" cy="361.75" r="1.0" fill="#ff0000"/>
<circle cx="472.5" cy="349.3" r="1.0" fill="#0000ff"/>
<circle cx="485.45" cy="350.73" r="1.0" fill="#ff0000"/>
<circle cx="507.12" cy="328.43" r="1.0" fill="#ffa500"/>
<circle cx="481.86" cy="351.87" r="1.0" fill="#ffff00"/>
<circle cx="485.15" cy="347.97" r="1.0" fill="#ffa500"/>
<circle cx="479.09" cy="353.38" r="1.0" fill="#008000"/>
<circle cx="475.51" cy="352.32" r="1.0" fill="#800080"/>
<circle cx="488.59" cy="341.95" r="1.0" fill="#008000"/>
<circle cx="473.32" cy="359.95" r="1.0" fill="#ff0000"/>
<circle cx="495.07" cy="343.82" r="1.0" fill="#ffa500"/>
<circle cx="466.95" cy="362.92" r="1.0" fill="#ffff00"/>
<circle cx="467.05" cy="364" r="1.0" fill="#800080"/>
<circle cx="461.3" cy="367.89" r="1.0" fill="#ff0000"/>
<circle cx="501.87" cy="338.98" r="1.0" fill="#ffa500"/>
<circle cx="486.65" cy="351" r="1.0" fill="#ffff00"/>
<circle cx="479.78" cy="351.59" r="1.0" fill="#ff0000"/>
<circle cx="485.29" cy="349.37" r="1.0" fill="#ffa500"/>
<circle cx="484.25" cy="349.34" r="1.0" fill="#ffff00"/>
<circle cx="470.62" cy="362.32" r="1.0" fill="#ffff00"/>
<circle cx="490.14" cy="343.29" r="1.0" fill="#008000"/>
<circle cx="486.86" cy="351.13" r="1.0" fill="#800080"/>
<circle cx="455.8" cy="371.2" r="1.0" fill="#008000"/>
<circle cx="465.3" cy="364.82" r="1.0" fill="#ffa500"/>
<circle cx="499.34" cy="337.14" r="1.0" fill="#ff0000"/>
<circle cx="481.35" cy="356.83" r="1.0" fill="#800080"/>
<circle cx="453" cy="375.3" r="1.0" fill="#ff0000"/>
<circle cx="489.62" cy="344.05" r="1.0" fill="#ffff00"/>
<circle cx="455.75" cy="368.18" r="1.0" fill="#800080"/>
<circle cx="468.73" cy="361.37" r="1.0" fill="#008000"/>
<circle cx="470.5" cy="354.09" r="1.0" fill="#008000"/>
<circle cx="468.56" cy="362.67" r="1.0" fill="#0000ff"/>
<circle cx="474.31" cy="360.93" r="1.0" fill="#ffa500"/>
<circle cx="462.94" cy="362.6" r="1.0" fill="#ff0000"/>
<circle cx="481.82" cy="351.22" r="1.0" fill="#ff0000"/>
<circle cx="476" cy="357.4" r="1.0" fill="#ff0000"/>
<circle cx="450.77" cy="375.84" r="1.0" fill="#008000"/>
<circle cx="458.7" cy="372.72" r="1.0" fill="#ffa500"/>
<circle cx="503.8" cy="358" r="1.0" fill="#0000ff"/>
<circle cx="452.6" cy="361" r="1.0" fill="#800080"/>
<circle cx="481.57" cy="352.16" r="1.0" fill="#008000"/>
<circle cx="447.83" cy="373.95" r="1.0" fill="#0000ff"/>
<circle cx="448.91" cy="384.14" r="1.0" fill="#ffff00"/>
<circle cx="429.2" cy="375.3" r="1.0" fill="#0000ff"/>
<circle cx="489.56" cy="346.61" r="1.0" fill="#ffa500"/>
<circle cx="453" cy="348" r="1.0" fill="#0000ff"/>
<circle cx="469.11" cy="360.08" r="1.0" fill="#ffa500"/>
<circle cx="472.76" cy="354.21" r="1.0" fill="#ff0000"/>
<circle cx="481.97" cy="350.52" r="1.0" fill="#ffff00"/>
<circle cx="471.5" cy="358.94" r="1.0" fill="#800080"/>
<circle cx="447.48" cy="377.77" r="1.0" fill="#800080"/>
<circle cx="460.11" cy="365.64" r="1.0" fill="#800080"/>
<circle cx="470.23" cy="362.55" r="1.0" fill="#800080"/>
<circle cx="483.72" cy="349.57" r="1.0" fill="#ff0000"/>
<circle cx="497.5" cy="337.85" r="1.0" fill="#008000"/>
<circle cx="470.8" cy="360.91" r="1.0" fill="#ff0000"/>
<circle cx="460.37" cy="367.18" r="1.0" fill="#800080"/>
<circle cx="458.33" cy="366.66" r="1.0" fill="#ff0000"/>
<circle cx="527.7" cy="320.9" r="1.0" fill="#800080"/>
<circle cx="460.16" cy="362.88" r="1.0" fill="#ff0000"/>
<circle cx="477.38" cy="355.5" r="1.0" fill="#008000"/>
<circle cx="456.88" cy="372.21" r="1.0" fill="#ff0000"/>
<circle cx="488.81" cy="344.22" r="1.0" fill="#ffa500"/>
<circle cx="444.67" cy="379.44" r="1.0" fill="#ff0000"/>
<circle cx="508.2" cy="335.6" r="1.0" fill="#800080"/>
<circle cx="505.4" cy="332" r="1.0" fill="#008000"/>
<circle cx="467.53" cy="359.48" r="1.0" fill="#800080"/>
<circle cx="470.83" cy="365.16" r="1.0" fill="#ff0000"/>
<circle cx="461.54" cy="364.05" r="1.0" fill="#008000"/>
<circle cx="478.31" cy="352.24" r="1.0" fill="#ff0000"/>
<circle cx="465" cy="364.27" r="1.0" fill="#008000"/>
<circle cx="457.58" cy="365.59" r="1.0" fill="#ffa500"/>
<circle cx="499.95" cy="331.17" r="1.0" fill="#ffa500"/>
<circle cx="450.62" cy="373.86" r="1.0" fill="#800080"/>
<circle cx="475.35" cy="355.96" r="1.0" fill="#800080"/>
<circle cx="487.1" cy="338.8" r="1.0" fill="#ffff00"/>
<circle cx="470.12" cy="358.41" r="1.0" fill="#008000"/>
<circle cx="481.44" cy="351.86" r="1.0" fill="#ffff00"/>
<circle cx="492.95" cy="342.85" r="1.0" fill="#ffff00"/>
<circle cx="505.82" cy="334.81" r="1.0" fill="#008000"/>
<circle cx="488.65" cy="347.31" r="1.0" fill="#800080"/>
<circle cx="488.94" cy="353.9" r="1.0" fill="#ffa500"/>
<circle cx="449.61" cy="378.69" r="1.0" fill="#ff0000"/>
<circle cx="468.93" cy="360.05" r="1.0" fill="#ffa500"/>
<circle cx="438.9" cy="373.7" r="1.0" fill="#0000ff"/>
<circle cx="486.38" cy="353.77" r="1.0" fill="#ffa500"/>
<circle cx="488.36" cy="348.33" r="1.0" fill="#008000"/>
<circle cx="459.92" cy="368.4" r="1.0" fill="#800080"/>
<circle cx="465.43" cy="365.46" r="1.0" fill="#800080"/>
<circle cx="479.7" cy="357.6" r="1.0" fill="#0000ff"/>
<circle cx="454.53" cy="372.57" r="1.0" fill="#ff0000"/>
<circle cx="455.61" cy="374.2" r="1.0" fill="#ff0000"/>
<circle cx="458.4" cy="374.8" r="1.0" fill="#0000ff"/>
<circle cx="489.6" cy="344.19" r="1.0" fill="#ffff00"/>
<circle cx="486.39" cy="348.54" r="1.0" fill="#ffa500"/>
<circle cx="483.74" cy="350.7" r="1.0" fill="#ffff00"/>
<circle cx="478.2" cy="355.14" r="1.0" fill="#ffff00"/>
<circle cx="452.68" cy="373.72" r="1.0" fill="#800080"/>
<circle cx="473.94" cy="362.41" r="1.0" fill="#ff0000"/>
<circle cx="446.32" cy="375.53" r="1.0" fill="#ff0000"/>
<circle cx="462.43" cy="361.68" r="1.0" fill="#ffa500"/>
<circle cx="433.1" cy="377.6" r="1.0" fill="#0000ff"/>
<circle cx="496.8" cy="358.8" r="1.0" fill="#0000ff"/>
<circle cx="493.67" cy="338.35" r="1.0" fill="#ffff00"/>
<circle cx="452.92" cy="374.38" r="1.0" fill="#ff0000"/>
<circle cx="454.17" cy="374.56" r="1.0" fill="#800080"/>
<circle cx="466.66" cy="359.83" r="1.0" fill="#800080"/>
<circle cx="454.17" cy="374.13" r="1.0" fill="#008000"/>
<circle cx="452.96" cy="373.39" r="1.0" fill="#800080"/>
<circle cx="474.4" cy="358.16" r="1.0" fill="#0000ff"/>
<circle cx="494.89" cy="334.72" r="1.0" fill="#ff0000"/>
<circle cx="464.81" cy="353.47" r="1.0" fill="#0000ff"/>
<circle cx="484.22" cy="349.85" r="1.0" fill="#008000"/>
<circle cx="456.52" cy="372.39" r="1.0" fill="#ffff00"/>
<circle cx="484.78" cy="346.42" r="1.0" fill="#ff0000"/>
<circle cx="459.64" cy="368.27" r="1.0" fill="#ff0000"/>
<circle cx="460.25" cy="366.01" r="1.0" fill="#800080"/>
<circle cx="491.52" cy="340.46" r="1.0" fill="#ff0000"/>
<circle cx="498.67" cy="335.71" r="1.0" fill="#ffa500"/>
<circle cx="499.43" cy="337.86" r="1.0" fill="#ffa500"/>
<circle cx="468.75" cy="360.87" r="1.0" fill="#ffa500"/>
<circle cx="475.09" cy="361.49" r="1.0" fill="#800080"/>
<circle cx="497.92" cy="339.78" r="1.0" fill="#ff0000"/>
<circle cx="476.61" cy="352.4" r="1.0" fill="#0000ff"/>
<circle cx="472.6" cy="357.2" r="1.0" fill="#008000"/>
<circle cx="486.7" cy="349.54" r="1.0" fill="#ff0000"/>
<circle cx="450.77" cy="375.51" r="1.0" fill="#ff0000"/>
<circle cx="485.4" cy="352.3" r="1.0" fill="#0000ff"/>
<circle cx="457.4" cy="360.2" r="1.0" fill="#800080"/>
<circle cx="477.86" cy="354.58" r="1.0" fill="#ffff00"/>
<circle cx="477.13" cy="351.96" r="1.0" fill="#800080"/>
<circle cx="475.94" cy="356.83" r="1.0" fill="#ff0000"/>
<circle cx="452.88" cy="375.91" r="1.0" fill="#ffa500"/>
<circle cx="477.85" cy="355.13" r="1.0" fill="#800080"/>
<circle cx="481.3" cy="351.84" r="1.0" fill="#0000ff"/>
<circle cx="500.33" cy="339.75" r="1.0" fill="#0000ff"/>
<circle cx="487.11" cy="344.59" r="1.0" fill="#ff0000"/>
<circle cx="458.31" cy="370.99" r="1.0" fill="#ffff00"/>
<circle cx="479.1" cy="354.3" r="1.0" fill="#008000"/>
<circle cx="501.6" cy="333.57" r="1.0" fill="#ff0000"/>
<circle cx="475.53" cy="356.25" r="1.0" fill="#ffff00"/>
<circle cx="479.59" cy="351.11" r="1.0" fill="#ffa500"/>
<circle cx="456.9" cy="371.57" r="1.0" fill="#800080"/>
<circle cx="457.65" cy="367.75" r="1.0" fill="#ff0000"/>
<circle cx="479.9" cy="357.09" r="1.0" fill="#0000ff"/>
<circle cx="449.37" cy="375.25" r="1.0" fill="#008000"/>
<circle cx="484.1" cy="350.25" r="1.0" fill="#ffff00"/>
<circle cx="471.26" cy="356.71" r="1.0" fill="#800080"/>
<circle cx="457.03" cy="369.2" r="1.0" fill="#008000"/>
<circle cx="456.42" cy="371.67" r="1.0" fill="#ff0000"/>
<circle cx="450.82" cy="377.1" r="1.0" fill="#ffa500"/>
<circle cx="458.77" cy="368.22" r="1.0" fill="#ffff00"/>
<circle cx="469.95" cy="360.44" r="1.0" fill="#008000"/>
<circle cx="444.9" cy="360.2" r="1.0" fill="#0000ff"/>
<circle cx="447.25" cy="370.27" r="1.0" fill="#ff0000"/>
<circle cx="461.93" cy="365.03" r="1.0" fill="#800080"/>
<circle cx="483.98" cy="343.69" r="1.0" fill="#ffff00"/>
<circle cx="447.7" cy="382.9" r="1.0" fill="#ff0000"/>
<circle cx="481.17" cy="357.8" r="1.0" fill="#ffa500"/>
<circle cx="461.71" cy="366.3" r="1.0" fill="#008000"/>
<circle cx="504.1" cy="330.37" r="1.0" fill="#ffa500"/>
<circle cx="466.05" cy="367.38" r="1.0" fill="#800080"/>
<circle cx="454.65" cy="371.97" r="1.0" fill="#ffa500"/>
<circle cx="518.7" cy="334.9" r="1.0" fill="#0000ff"/>
<circle cx="435.2" cy="355.8" r="1.0" fill="#0000ff"/>
<circle cx="474.48" cy="357.55" r="1.0" fill="#008000"/>
<circle cx="476.39" cy="363.92" r="1.0" fill="#008000"/>
<circle cx="485.8" cy="349.19" r="1.0" fill="#800080"/>
<circle cx="470.1" cy="363.4" r="1.0" fill="#0000ff"/>
<circle cx="452.99" cy="373.46" r="1.0" fill="#800080"/>
<circle cx="457.77" cy="367.58" r="1.0" fill="#800080"/>
<circle cx="464.26" cy="364.73" r="1.0" fill="#008000"/>
<circle cx="448.98" cy="371.36" r="1.0" fill="#0000ff"/>
<circle cx="458.41" cy="369.97" r="1.0" fill="#008000"/>
<circle cx="473.28" cy="359.36" r="1.0" fill="#008000"/>
<circle cx="468.85" cy="358.91" r="1.0" fill="#ffff00"/>
<circle cx="462" cy="377.6" r="1.0" fill="#ff0000"/>
<circle cx="469.74" cy="364.66" r="1.0" fill="#800080"/>
<circle cx="484.25" cy="348.82" r="1.0" fill="#ffa500"/>
<circle cx="491.1" cy="336.5" r="1.0" fill="#ffff00"/>
<circle cx="515.2" cy="326.3" r="1.0" fill="#008000"/>
<circle cx="470.28" cy="360.74" r="1.0" fill="#0000ff"/>
<circle cx="485.4" cy="358.8" r="1.0" fill="#ff0000"/>
<circle cx="492.92" cy="341.4" r="1.0" fill="#800080"/>
<circle cx="497.16" cy="344.25" r="1.0" fill="#ff0000"/>
<circle cx="463.55" cy="364.93" r="1.0" fill="#ffff00"/>
<circle cx="479.47" cy="353.5" r="1.0" fill="#ffff00"/>
<circle cx="497.26" cy="334.14" r="1.0" fill="#ffa500"/>
<circle cx="480.34" cy="351.82" r="1.0" fill="#ffff00"/>
<circle cx="463.38" cy="366.21" r="1.0" fill="#800080"/>
<circle cx="438.9" cy="383.7" r="1.0" fill="#ff0000"/>
<circle cx="443.69" cy="381.81" r="1.0" fill="#800080"/>
<circle cx="449.63" cy="376.09" r="1.0" fill="#ffa500"/>
<circle cx="449.08" cy="377.73" r="1.0" fill="#008000"/>
<circle cx="494.86" cy="342.77" r="1.0" fill="#008000"/>
<circle cx="469.93" cy="362.94" r="1.0" fill="#ffff00"/>
<circle cx="475.61" cy="358.21" r="1.0" fill="#ffff00"/>
<circle cx="461.87" cy="363.33" r="1.0" fill="#ff0000"/>
<circle cx="476.08" cy="356.92" r="1.0" fill="#0000ff"/>
<circle cx="492.55" cy="341.09" r="1.0" fill="#ffa500"/>
<circle cx="487.83" cy="350.74" r="1.0" fill="#ff0000"/>
<circle cx="482.06" cy="350.08" r="1.0" fill="#ffa500"/>
<circle cx="463.68" cy="368.64" r="1.0" fill="#ff0000"/>
<circle cx="477.86" cy="355.99" r="1.0" fill="#800080"/>
<circle cx="490.56" cy="346.3" r="1.0" fill="#ff0000"/>
<circle cx="466.51" cy="362.44" r="1.0" fill="#800080"/>
<circle cx="450.16" cy="375.49" r="1.0" fill="#800080"/>
<circle cx="513" cy="330" r="1.0" fill="#800080"/>
<circle cx="466.01" cy="363.94" r="1.0" fill="#ffff00"/>
<circle cx="481.77" cy="350.05" r="1.0" fill="#0000ff"/>
<circle cx="448.91" cy="375.81" r="1.0" fill="#ffff00"/>
<circle cx="445.53" cy="381" r="1.0" fill="#ffa500"/>
<circle cx="500" cy="350.7" r="1.0" fill="#0000ff"/>
<circle cx="453.3" cy="376.66" r="1.0" fill="#008000"/>
<circle cx="490.3" cy="357.2" r="1.0" fill="#0000ff"/>
<circle cx="451.81" cy="374.1" r="1.0" fill="#ff0000"/>
<circle cx="450.42" cy="374.6" r="1.0" fill="#ffff00"/>
<circle cx="485.4" cy="339.43" r="1.0" fill="#ff0000"/>
<circle cx="443.06" cy="379.69" r="1.0" fill="#800080"/>
<circle cx="489.71" cy="344.64" r="1.0" fill="#800080"/>
<circle cx="501.65" cy="332.4" r="1.0" fill="#ffff00"/>
<circle cx="453.49" cy="371.18" r="1.0" fill="#008000"/>
<circle cx="479.35" cy="351.41" r="1.0" fill="#ffa500"/>
<circle cx="461.64" cy="370.33" r="1.0" fill="#ff0000"/>
<circle cx="476.28" cy="353.85" r="1.0" fill="#ffff00"/>
<circle cx="453.57" cy="372.84" r="1.0" fill="#008000"/>
<circle cx="483.95" cy="350.35" r="1.0" fill="#008000"/>
<circle cx="484.89" cy="351.66" r="1.0" fill="#ffa500"/>
<circle cx="491.1" cy="353.9" r="1.0" fill="#0000ff"/>
<circle cx="475.8" cy="351.2" r="1.0" fill="#800080"/>
<circle cx="454.14" cy="374.41" r="1.0" fill="#ffff00"/>
<circle cx="448.57" cy="376.62" r="1.0" fill="#ff0000"/>
<circle cx="466.77" cy="363.59" r="1.0" fill="#ff0000"/>
<circle cx="443.11" cy="381.1" r="1.0" fill="#008000"/>
<circle cx="469.86" cy="361.08" r="1.0" fill="#ffa500"/>
<circle cx="459" cy="368.96" r="1.0" fill="#ffff00"/>
<circle cx="449.22" cy="376.12" r="1.0" fill="#008000"/>
<circle cx="519" cy="334.9" r="1.0" fill="#ffff00"/>
<circle cx="485.4" cy="360.4" r="1.0" fill="#ffa500"/>
<circle cx="503.79" cy="338.52" r="1.0" fill="#0000ff"/>
<circle cx="483.47" cy="351.35" r="1.0" fill="#0000ff"/>
<circle cx="499.77" cy="338.46" r="1.0" fill="#0000ff"/>
<circle cx="457.9" cy="350.4" r="1.0" fill="#0000ff"/>
<circle cx="475.8" cy="364.2" r="1.0" fill="#0000ff"/>
<circle cx="456.23" cy="372.46" r="1.0" fill="#800080"/>
<circle cx="474.7" cy="358.66" r="1.0" fill="#800080"/>
<circle cx="451.9" cy="365" r="1.0" fill="#0000ff"/>
<circle cx="476.26" cy="359.29" r="1.0" fill="#008000"/>
<circle cx="506.5" cy="339.3" r="1.0" fill="#008000"/>
<circle cx="449.54" cy="374.63" r="1.0" fill="#008000"/>
<circle cx="501.26" cy="335.07" r="1.0" fill="#ff0000"/>
<circle cx="491.5" cy="344.97" r="1.0" fill="#008000"/>
<circle cx="459.78" cy="367.59" r="1.0" fill="#008000"/>
<circle cx="483.09" cy="352.43" r="1.0" fill="#ffa500"/>
<circle cx="450.72" cy="378.09" r="1.0" fill="#800080"/>
<circle cx="480.76" cy="351.34" r="1.0" fill="#ffa500"/>
<circle cx="471.12" cy="358.66" r="1.0" fill="#ffa500"/>
<circle cx="484.98" cy="349.98" r="1.0" fill="#ff0000"/>
<circle cx="447.35" cy="374.91" r="1.0" fill="#ffa500"/>
<circle cx="484.76" cy="349.77" r="1.0" fill="#ff0000"/>
<circle cx="494.28" cy="342.81" r="1.0" fill="#0000ff"/>
<circle cx="487.55" cy="345.39" r="1.0" fill="#ffff00"/>
<circle cx="447.3" cy="377.39" r="1.0" fill="#0000ff"/>
<circle cx="485.3" cy="350.07" r="1.0" fill="#ffa500"/>
<circle cx="466.98" cy="360.46" r="1.0" fill="#ff0000"/>
<circle cx="488.61" cy="344.37" r="1.0" fill="#ff0000"/>
<circle cx="448.04" cy="375.88" r="1.0" fill="#ff0000"/>
<circle cx="483.17" cy="351.58" r="1.0" fill="#0000ff"/>
<circle cx="498.4" cy="348.6" r="1.0" fill="#ffff00"/>
<circle cx="502.31" cy="335.45" r="1.0" fill="#008000"/>
<circle cx="479.24" cy="354.65" r="1.0" fill="#800080"/>
<circle cx="488.16" cy="349.51" r="1.0" fill="#800080"/>
<circle cx="469.09" cy="364.44" r="1.0" fill="#0000ff"/>
<circle cx="496.8" cy="350.2" r="1.0" fill="#0000ff"/>
<circle cx="482.39" cy="351.44" r="1.0" fill="#ff0000"/>
<circle cx="488.52" cy="348.77" r="1.0" fill="#ff0000"/>
<circle cx="461.67" cy="366.39" r="1.0" fill="#0000ff"/>
<circle cx="500.95" cy="336.12" r="1.0" fill="#800080"/>
<circle cx="443.3" cy="383.82" r="1.0" fill="#ffa500"/>
<circle cx="490.17" cy="344.52" r="1.0" fill="#ff0000"/>
<circle cx="451.03" cy="373.93" r="1.0" fill="#ffa500"/>
<circle cx="487.1" cy="354.4" r="1.0" fill="#0000ff"/>
<circle cx="467.98" cy="361.68" r="1.0" fill="#008000"/>
<circle cx="465.48" cy="364" r="1.0" fill="#800080"/>
<circle cx="457.59" cy="371.74" r="1.0" fill="#800080"/>
<circle cx="444.4" cy="361" r="1.0" fill="#0000ff"/>
<circle cx="479.25" cy="354.5" r="1.0" fill="#800080"/>
<circle cx="443.3" cy="382.1" r="1.0" fill="#008000"/>
<circle cx="449" cy="365" r="1.0" fill="#800080"/>
<circle cx="488.97" cy="346.51" r="1.0" fill="#ff0000"/>
<circle cx="480.7" cy="353.9" r="1.0" fill="#800080"/>
<circle cx="460.77" cy="368.31" r="1.0" fill="#ffa500"/>
<circle cx="476.17" cy="355.68" r="1.0" fill="#ffff00"/>
<circle cx="475.09" cy="355.39" r="1.0" fill="#ffa500"/>
<circle cx="471.43" cy="362.41" r="1.0" fill="#ff0000"/>
<circle cx="467.12" cy="358.72" r="1.0" fill="#008000"/>
<circle cx="500.9" cy="352.3" r="1.0" fill="#0000ff"/>
<circle cx="487.35" cy="353.82" r="1.0" fill="#800080"/>
<circle cx="468.09" cy="363.65" r="1.0" fill="#0000ff"/>
<circle cx="455.2" cy="353.2" r="1.0" fill="#0000ff"/>
<circle cx="487.41" cy="342.51" r="1.0" fill="#800080"/>
<circle cx="458.79" cy="367.43" r="1.0" fill="#ffa500"/>
<circle cx="506" cy="329.1" r="1.0" fill="#ffff00"/>
<circle cx="466.34" cy="365.79" r="1.0" fill="#ff0000"/>
<circle cx="452.6" cy="376.4" r="1.0" fill="#ffff00"/>
<circle cx="442.2" cy="379.7" r="1.0" fill="#800080"/>
<circle cx="467.77" cy="357.42" r="1.0" fill="#ff0000"/>
<circle cx="494.23" cy="341.52" r="1.0" fill="#ffff00"/>
<circle cx="451.53" cy="372.43" r="1.0" fill="#0000ff"/>
<circle cx="483.43" cy="352" r="1.0" fill="#ffff00"/>
<circle cx="471.78" cy="358.87" r="1.0" fill="#ffa500"/>
<circle cx="443.85" cy="379.39" r="1.0" fill="#008000"/>
<circle cx="487.63" cy="346.17" r="1.0" fill="#ff0000"/>
<circle cx="498.78" cy="338.86" r="1.0" fill="#ffff00"/>
<circle cx="471.7" cy="345.1" r="1.0" fill="#0000ff"/>
<circle cx="457.64" cy="367.08" r="1.0" fill="#800080"/>
<circle cx="476.95" cy="354.56" r="1.0" fill="#ffa500"/>
<circle cx="479.75" cy="350.16" r="1.0" fill="#008000"/>
<circle cx="478.15" cy="357.01" r="1.0" fill="#ffff00"/>
<circle cx="495.52" cy="340.84" r="1.0" fill="#ffff00"/>
<circle cx="501.22" cy="337.53" r="1.0" fill="#008000"/>
<circle cx="472.37" cy="358.94" r="1.0" fill="#ff0000"/>
<circle cx="483.8" cy="349.76" r="1.0" fill="#008000"/>
<circle cx="501.7" cy="335.2" r="1.0" fill="#ff0000"/>
<circle cx="486.27" cy="347.98" r="1.0" fill="#ffa500"/>
<circle cx="467.38" cy="360.81" r="1.0" fill="#800080"/>
<circle cx="458.42" cy="370.52" r="1.0" fill="#ff0000"/>
<circle cx="518.7" cy="324.2" r="1.0" fill="#008000"/>
<circle cx="476.44" cy="354.55" r="1.0" fill="#ff0000"/>
<circle cx="481.5" cy="351.93" r="1.0" fill="#ff0000"/>
<circle cx="472.5" cy="351.2" r="1.0" fill="#ffff00"/>
<circle cx="455.8" cy="374.48" r="1.0" fill="#800080"/>
<circle cx="492.94" cy="343.12" r="1.0" fill="#800080"/>
<circle cx="444.18" cy="381.06" r="1.0" fill="#ff0000"/>
<circle cx="503.21" cy="336.03" r="1.0" fill="#008000"/>
<rect x="410" y="306.4" width="129.6" height="100.6" fill="none" stroke="#b4b4b4" stroke-width="0.75"/>
<line x1="410" y1="407" x2="410" y2="408.2" stroke="#999" stroke-width="0.4"/>
<text x="410" y="412.6" class="tk" text-anchor="middle">0.0</text>
<line x1="408.8" y1="407" x2="410" y2="407" stroke="#999" stroke-width="0.4"/>
<text x="408.2" y="408.6" class="tk" text-anchor="end">0.0</text>
<line x1="435.8" y1="407" x2="435.8" y2="408.2" stroke="#999" stroke-width="0.4"/>
<text x="435.8" y="412.6" class="tk" text-anchor="middle">0.2</text>
<line x1="408.8" y1="387" x2="410" y2="387" stroke="#999" stroke-width="0.4"/>
<text x="408.2" y="388.6" class="tk" text-anchor="end">0.2</text>
<line x1="461.6" y1="407" x2="461.6" y2="408.2" stroke="#999" stroke-width="0.4"/>
<text x="461.6" y="412.6" class="tk" text-anchor="middle">0.4</text>
<line x1="408.8" y1="367" x2="410" y2="367" stroke="#999" stroke-width="0.4"/>
<text x="408.2" y="368.6" class="tk" text-anchor="end">0.4</text>
<line x1="487.4" y1="407" x2="487.4" y2="408.2" stroke="#999" stroke-width="0.4"/>
<text x="487.4" y="412.6" class="tk" text-anchor="middle">0.6</text>
<line x1="408.8" y1="347" x2="410" y2="347" stroke="#999" stroke-width="0.4"/>
<text x="408.2" y="348.6" class="tk" text-anchor="end">0.6</text>
<line x1="513.2" y1="407" x2="513.2" y2="408.2" stroke="#999" stroke-width="0.4"/>
<text x="513.2" y="412.6" class="tk" text-anchor="middle">0.8</text>
<line x1="408.8" y1="327" x2="410" y2="327" stroke="#999" stroke-width="0.4"/>
<text x="408.2" y="328.6" class="tk" text-anchor="end">0.8</text>
<line x1="539" y1="407" x2="539" y2="408.2" stroke="#999" stroke-width="0.4"/>
<text x="539" y="412.6" class="tk" text-anchor="middle">1.0</text>
<line x1="408.8" y1="307" x2="410" y2="307" stroke="#999" stroke-width="0.4"/>
<text x="408.2" y="308.6" class="tk" text-anchor="end">1.0</text>
<text x="474.8" y="418.9" class="lb" text-anchor="middle">Normalized Actual Stress <tspan font-style="italic">σ</tspan><tspan font-size="3.7" dy="1.3">3</tspan></text>
<text transform="translate(400,357.5) rotate(-90)" class="lb" text-anchor="middle">Normalized Predicted Stress <tspan font-style="italic">σ</tspan><tspan font-size="3.7" dy="1.3">3</tspan></text>
<rect x="419.2" y="309.9" width="1.6" height="1.6" fill="#ff0000"/>
<text x="428.6" y="312.6" class="lg">Asp1:2</text>
<rect x="419.2" y="316.65" width="1.6" height="1.6" fill="#008000"/>
<text x="428.6" y="319.35" class="lg">Asp1:4</text>
<rect x="419.2" y="323.4" width="1.6" height="1.6" fill="#ffa500"/>
<text x="428.6" y="326.1" class="lg">Asp1:6</text>
<rect x="419.2" y="330.15" width="1.6" height="1.6" fill="#800080"/>
<text x="428.6" y="332.85" class="lg">Asp1:8</text>
<rect x="419.2" y="336.9" width="1.6" height="1.6" fill="#0000ff"/>
<text x="428.6" y="339.6" class="lg">gg</text>
<rect x="419.2" y="343.65" width="1.6" height="1.6" fill="#ffff00"/>
<text x="428.6" y="346.35" class="lg">Voronoi</text>
<text y="381.9" class="tx"><tspan x="494" font-style="italic">R</tspan><tspan x="498.3" y="380.4" font-size="3.8">2</tspan><tspan x="502" y="381.9">=</tspan><tspan x="506.4" textLength="17.2" lengthAdjust="spacingAndGlyphs">0.8735</tspan></text>
<text y="390.3" class="tx"><tspan x="494" textLength="14" lengthAdjust="spacingAndGlyphs">RMSE</tspan><tspan x="509.2">=</tspan><tspan x="514" textLength="18" lengthAdjust="spacingAndGlyphs">0.0483</tspan></text>
<text x="468.8" y="435.5" class="cap b" text-anchor="middle" style='font-family:"Liberation Serif", serif'><tspan font-weight="normal" stroke-width="0">(</tspan>i<tspan font-weight="normal" stroke-width="0">)</tspan></text>
</svg>
</body></html>
